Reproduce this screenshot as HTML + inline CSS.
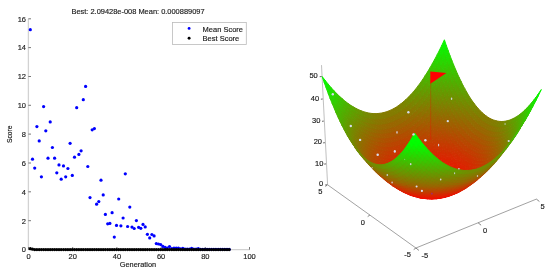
<!DOCTYPE html>
<html><head><meta charset="utf-8"><title>PSO</title>
<style>
html,body{margin:0;padding:0;background:#fff;}
body{width:550px;height:273px;overflow:hidden;position:relative;font-family:"Liberation Sans",sans-serif;}
svg{position:absolute;left:0;top:0;}
text{font-family:"Liberation Sans",sans-serif;fill:#1c1c1c;stroke:#1c1c1c;stroke-width:0.16px;}
</style></head><body>
<svg width="550" height="273" viewBox="0 0 550 273">
<rect width="550" height="273" fill="#fff"/>

<g id="left">
<line x1="28.4" y1="18.8" x2="28.4" y2="249.8" stroke="#d2d2d2" stroke-width="1.3"/>
<line x1="28.4" y1="249.6" x2="249.8" y2="249.6" stroke="#d2d2d2" stroke-width="1.3"/>
<line x1="28.4" y1="249.5" x2="31" y2="249.5" stroke="#555" stroke-width="0.8"/>
<text x="26" y="252.3" font-size="7.5" text-anchor="end">0</text>
<line x1="28.4" y1="220.7" x2="31" y2="220.7" stroke="#555" stroke-width="0.8"/>
<text x="26" y="223.5" font-size="7.5" text-anchor="end">2</text>
<line x1="28.4" y1="191.8" x2="31" y2="191.8" stroke="#555" stroke-width="0.8"/>
<text x="26" y="194.6" font-size="7.5" text-anchor="end">4</text>
<line x1="28.4" y1="163.0" x2="31" y2="163.0" stroke="#555" stroke-width="0.8"/>
<text x="26" y="165.8" font-size="7.5" text-anchor="end">6</text>
<line x1="28.4" y1="134.1" x2="31" y2="134.1" stroke="#555" stroke-width="0.8"/>
<text x="26" y="136.9" font-size="7.5" text-anchor="end">8</text>
<line x1="28.4" y1="105.3" x2="31" y2="105.3" stroke="#555" stroke-width="0.8"/>
<text x="26" y="108.1" font-size="7.5" text-anchor="end">10</text>
<line x1="28.4" y1="76.5" x2="31" y2="76.5" stroke="#555" stroke-width="0.8"/>
<text x="26" y="79.3" font-size="7.5" text-anchor="end">12</text>
<line x1="28.4" y1="47.6" x2="31" y2="47.6" stroke="#555" stroke-width="0.8"/>
<text x="26" y="50.4" font-size="7.5" text-anchor="end">14</text>
<line x1="28.4" y1="18.8" x2="31" y2="18.8" stroke="#555" stroke-width="0.8"/>
<text x="26" y="21.6" font-size="7.5" text-anchor="end">16</text>
<line x1="28.5" y1="249.6" x2="28.5" y2="247" stroke="#555" stroke-width="0.8"/>
<text x="28.5" y="258.7" font-size="7.5" text-anchor="middle">0</text>
<line x1="72.7" y1="249.6" x2="72.7" y2="247" stroke="#555" stroke-width="0.8"/>
<text x="72.7" y="258.7" font-size="7.5" text-anchor="middle">20</text>
<line x1="116.9" y1="249.6" x2="116.9" y2="247" stroke="#555" stroke-width="0.8"/>
<text x="116.9" y="258.7" font-size="7.5" text-anchor="middle">40</text>
<line x1="161.1" y1="249.6" x2="161.1" y2="247" stroke="#555" stroke-width="0.8"/>
<text x="161.1" y="258.7" font-size="7.5" text-anchor="middle">60</text>
<line x1="205.3" y1="249.6" x2="205.3" y2="247" stroke="#555" stroke-width="0.8"/>
<text x="205.3" y="258.7" font-size="7.5" text-anchor="middle">80</text>
<line x1="249.5" y1="249.6" x2="249.5" y2="247" stroke="#555" stroke-width="0.8"/>
<text x="249.5" y="258.7" font-size="7.5" text-anchor="middle">100</text>
<text x="138.0" y="13.5" font-size="7.45" text-anchor="middle">Best: 2.09428e-008 Mean: 0.000889097</text>
<text x="138" y="267.3" font-size="7.35" text-anchor="middle">Generation</text>
<text transform="translate(11.8,143) rotate(-90)" font-size="7.6" textLength="17.4" lengthAdjust="spacingAndGlyphs">Score</text>
<g fill="#0000ff">
<circle cx="30.3" cy="29.7" r="1.6"/>
<circle cx="32.5" cy="159.2" r="1.6"/>
<circle cx="34.7" cy="168.1" r="1.6"/>
<circle cx="36.9" cy="126.6" r="1.6"/>
<circle cx="39.2" cy="140.9" r="1.6"/>
<circle cx="41.4" cy="176.8" r="1.6"/>
<circle cx="43.6" cy="106.6" r="1.6"/>
<circle cx="45.8" cy="130.8" r="1.6"/>
<circle cx="48.0" cy="158.2" r="1.6"/>
<circle cx="50.2" cy="121.9" r="1.6"/>
<circle cx="52.4" cy="147.5" r="1.6"/>
<circle cx="54.6" cy="158.2" r="1.6"/>
<circle cx="56.8" cy="172.8" r="1.6"/>
<circle cx="59.0" cy="164.9" r="1.6"/>
<circle cx="61.2" cy="179.2" r="1.6"/>
<circle cx="63.5" cy="165.9" r="1.6"/>
<circle cx="65.7" cy="176.8" r="1.6"/>
<circle cx="67.9" cy="168.5" r="1.6"/>
<circle cx="70.1" cy="143.3" r="1.6"/>
<circle cx="72.3" cy="175.4" r="1.6"/>
<circle cx="74.5" cy="157.2" r="1.6"/>
<circle cx="76.7" cy="107.7" r="1.6"/>
<circle cx="78.9" cy="154.4" r="1.6"/>
<circle cx="81.1" cy="150.8" r="1.6"/>
<circle cx="83.3" cy="99.7" r="1.6"/>
<circle cx="85.6" cy="86.4" r="1.6"/>
<circle cx="87.8" cy="166.5" r="1.6"/>
<circle cx="90.0" cy="197.6" r="1.6"/>
<circle cx="92.2" cy="129.8" r="1.6"/>
<circle cx="94.4" cy="128.6" r="1.6"/>
<circle cx="96.6" cy="204.2" r="1.6"/>
<circle cx="98.8" cy="201.6" r="1.6"/>
<circle cx="101.0" cy="180.2" r="1.6"/>
<circle cx="103.2" cy="194.9" r="1.6"/>
<circle cx="105.4" cy="214.4" r="1.6"/>
<circle cx="107.7" cy="223.8" r="1.6"/>
<circle cx="109.9" cy="223.4" r="1.6"/>
<circle cx="112.1" cy="212.7" r="1.6"/>
<circle cx="114.3" cy="237.1" r="1.6"/>
<circle cx="116.5" cy="225.4" r="1.6"/>
<circle cx="118.7" cy="199.0" r="1.6"/>
<circle cx="120.9" cy="225.8" r="1.6"/>
<circle cx="123.1" cy="218.0" r="1.6"/>
<circle cx="125.3" cy="173.8" r="1.6"/>
<circle cx="127.6" cy="226.5" r="1.6"/>
<circle cx="129.8" cy="207.1" r="1.6"/>
<circle cx="132.0" cy="227.1" r="1.6"/>
<circle cx="134.2" cy="228.5" r="1.6"/>
<circle cx="136.4" cy="220.6" r="1.6"/>
<circle cx="138.6" cy="227.3" r="1.6"/>
<circle cx="140.8" cy="228.3" r="1.6"/>
<circle cx="143.0" cy="224.4" r="1.6"/>
<circle cx="145.2" cy="226.9" r="1.6"/>
<circle cx="147.4" cy="234.3" r="1.6"/>
<circle cx="149.7" cy="237.9" r="1.6"/>
<circle cx="151.9" cy="234.5" r="1.6"/>
<circle cx="154.1" cy="235.9" r="1.6"/>
<circle cx="156.3" cy="243.6" r="1.6"/>
<circle cx="158.5" cy="244.0" r="1.6"/>
<circle cx="160.7" cy="244.6" r="1.6"/>
<circle cx="162.9" cy="246.4" r="1.6"/>
<circle cx="165.1" cy="247.4" r="1.6"/>
<circle cx="167.3" cy="248.0" r="1.6"/>
<circle cx="169.5" cy="246.6" r="1.6"/>
<circle cx="171.8" cy="248.6" r="1.6"/>
<circle cx="174.0" cy="248.0" r="1.6"/>
<circle cx="176.2" cy="248.0" r="1.6"/>
<circle cx="178.4" cy="248.1" r="1.6"/>
<circle cx="180.6" cy="248.8" r="1.6"/>
<circle cx="182.8" cy="248.3" r="1.6"/>
<circle cx="185.0" cy="249.0" r="1.6"/>
<circle cx="187.2" cy="249.0" r="1.6"/>
<circle cx="189.4" cy="249.0" r="1.6"/>
<circle cx="191.6" cy="248.3" r="1.6"/>
<circle cx="193.8" cy="249.0" r="1.6"/>
<circle cx="196.1" cy="249.0" r="1.6"/>
<circle cx="198.3" cy="248.5" r="1.6"/>
<circle cx="200.5" cy="249.3" r="1.6"/>
<circle cx="202.7" cy="249.3" r="1.6"/>
<circle cx="204.9" cy="249.3" r="1.6"/>
<circle cx="207.1" cy="249.3" r="1.6"/>
<circle cx="209.3" cy="249.3" r="1.6"/>
<circle cx="211.5" cy="249.3" r="1.6"/>
<circle cx="213.7" cy="249.3" r="1.6"/>
<circle cx="215.9" cy="249.3" r="1.6"/>
<circle cx="218.2" cy="249.3" r="1.6"/>
<circle cx="220.4" cy="249.3" r="1.6"/>
<circle cx="222.6" cy="249.3" r="1.6"/>
<circle cx="224.8" cy="249.3" r="1.6"/>
<circle cx="227.0" cy="249.3" r="1.6"/>
<circle cx="229.2" cy="249.3" r="1.6"/>
</g><g fill="#000">
<circle cx="30.3" cy="248.7" r="1.6"/>
<circle cx="32.5" cy="249.2" r="1.6"/>
<circle cx="34.7" cy="249.6" r="1.6"/>
<circle cx="36.9" cy="249.6" r="1.6"/>
<circle cx="39.2" cy="249.6" r="1.6"/>
<circle cx="41.4" cy="249.6" r="1.6"/>
<circle cx="43.6" cy="249.6" r="1.6"/>
<circle cx="45.8" cy="249.6" r="1.6"/>
<circle cx="48.0" cy="249.6" r="1.6"/>
<circle cx="50.2" cy="249.6" r="1.6"/>
<circle cx="52.4" cy="249.6" r="1.6"/>
<circle cx="54.6" cy="249.6" r="1.6"/>
<circle cx="56.8" cy="249.6" r="1.6"/>
<circle cx="59.0" cy="249.6" r="1.6"/>
<circle cx="61.2" cy="249.6" r="1.6"/>
<circle cx="63.5" cy="249.6" r="1.6"/>
<circle cx="65.7" cy="249.6" r="1.6"/>
<circle cx="67.9" cy="249.6" r="1.6"/>
<circle cx="70.1" cy="249.6" r="1.6"/>
<circle cx="72.3" cy="249.6" r="1.6"/>
<circle cx="74.5" cy="249.6" r="1.6"/>
<circle cx="76.7" cy="249.6" r="1.6"/>
<circle cx="78.9" cy="249.6" r="1.6"/>
<circle cx="81.1" cy="249.6" r="1.6"/>
<circle cx="83.3" cy="249.6" r="1.6"/>
<circle cx="85.6" cy="249.6" r="1.6"/>
<circle cx="87.8" cy="249.6" r="1.6"/>
<circle cx="90.0" cy="249.6" r="1.6"/>
<circle cx="92.2" cy="249.6" r="1.6"/>
<circle cx="94.4" cy="249.6" r="1.6"/>
<circle cx="96.6" cy="249.6" r="1.6"/>
<circle cx="98.8" cy="249.6" r="1.6"/>
<circle cx="101.0" cy="249.6" r="1.6"/>
<circle cx="103.2" cy="249.6" r="1.6"/>
<circle cx="105.4" cy="249.6" r="1.6"/>
<circle cx="107.7" cy="249.6" r="1.6"/>
<circle cx="109.9" cy="249.6" r="1.6"/>
<circle cx="112.1" cy="249.6" r="1.6"/>
<circle cx="114.3" cy="249.6" r="1.6"/>
<circle cx="116.5" cy="249.6" r="1.6"/>
<circle cx="118.7" cy="249.6" r="1.6"/>
<circle cx="120.9" cy="249.6" r="1.6"/>
<circle cx="123.1" cy="249.6" r="1.6"/>
<circle cx="125.3" cy="249.6" r="1.6"/>
<circle cx="127.6" cy="249.6" r="1.6"/>
<circle cx="129.8" cy="249.6" r="1.6"/>
<circle cx="132.0" cy="249.6" r="1.6"/>
<circle cx="134.2" cy="249.6" r="1.6"/>
<circle cx="136.4" cy="249.6" r="1.6"/>
<circle cx="138.6" cy="249.6" r="1.6"/>
<circle cx="140.8" cy="249.6" r="1.6"/>
<circle cx="143.0" cy="249.6" r="1.6"/>
<circle cx="145.2" cy="249.6" r="1.6"/>
<circle cx="147.4" cy="249.6" r="1.6"/>
<circle cx="149.7" cy="249.6" r="1.6"/>
<circle cx="151.9" cy="249.6" r="1.6"/>
<circle cx="154.1" cy="249.6" r="1.6"/>
<circle cx="156.3" cy="249.6" r="1.6"/>
<circle cx="158.5" cy="249.6" r="1.6"/>
<circle cx="160.7" cy="249.6" r="1.6"/>
<circle cx="162.9" cy="249.6" r="1.6"/>
<circle cx="165.1" cy="249.6" r="1.6"/>
<circle cx="167.3" cy="249.6" r="1.6"/>
<circle cx="169.5" cy="249.6" r="1.6"/>
<circle cx="171.8" cy="249.6" r="1.6"/>
<circle cx="174.0" cy="249.6" r="1.6"/>
<circle cx="176.2" cy="249.6" r="1.6"/>
<circle cx="178.4" cy="249.6" r="1.6"/>
<circle cx="180.6" cy="249.6" r="1.6"/>
<circle cx="182.8" cy="249.6" r="1.6"/>
<circle cx="185.0" cy="249.6" r="1.6"/>
<circle cx="187.2" cy="249.6" r="1.6"/>
<circle cx="189.4" cy="249.6" r="1.6"/>
<circle cx="191.6" cy="249.6" r="1.6"/>
<circle cx="193.8" cy="249.6" r="1.6"/>
<circle cx="196.1" cy="249.6" r="1.6"/>
<circle cx="198.3" cy="249.6" r="1.6"/>
<circle cx="200.5" cy="249.6" r="1.6"/>
<circle cx="202.7" cy="249.6" r="1.6"/>
<circle cx="204.9" cy="249.6" r="1.6"/>
<circle cx="207.1" cy="249.6" r="1.6"/>
<circle cx="209.3" cy="249.6" r="1.6"/>
<circle cx="211.5" cy="249.6" r="1.6"/>
<circle cx="213.7" cy="249.6" r="1.6"/>
<circle cx="215.9" cy="249.6" r="1.6"/>
<circle cx="218.2" cy="249.6" r="1.6"/>
<circle cx="220.4" cy="249.6" r="1.6"/>
<circle cx="222.6" cy="249.6" r="1.6"/>
<circle cx="224.8" cy="249.6" r="1.6"/>
<circle cx="227.0" cy="249.6" r="1.6"/>
<circle cx="229.2" cy="249.6" r="1.6"/>
</g>
<rect x="172.4" y="22.4" width="73.9" height="22" fill="#fff" stroke="#bbb" stroke-width="0.8"/>
<circle cx="189.1" cy="28.4" r="1.45" fill="#00f"/><circle cx="189.1" cy="38.3" r="1.45" fill="#000"/>
<text x="202.6" y="31.6" font-size="7.5">Mean Score</text><text x="202.6" y="41.1" font-size="7.5">Best Score</text>
</g>
<g id="right">
<line x1="327.6" y1="184.8" x2="321.5" y2="65.1" stroke="#b0b0b0" stroke-width="0.8"/>
<line x1="327.6" y1="184.8" x2="415.9" y2="248.0" stroke="#8a8a8a" stroke-width="0.8"/>
<line x1="415.9" y1="248.0" x2="536.4" y2="199.1" stroke="#8a8a8a" stroke-width="0.8"/>
<defs><filter id="bl" x="-5%" y="-5%" width="110%" height="110%"><feGaussianBlur stdDeviation="0.8"/></filter></defs><g stroke-width="1" stroke-linejoin="round">
<path d="M430.2,99.5L432.6,95.9L430.8,91.1L428.4,94.7Z" fill="#6d9200" stroke="#6d9200"/>
<path d="M432.6,95.9L435.0,92.1L433.2,87.3L430.8,91.1Z" fill="#669900" stroke="#669900"/>
<path d="M428.4,94.7L430.8,91.1L428.9,86.1L426.5,89.7Z" fill="#639c00" stroke="#639c00"/>
<path d="M432.1,104.1L434.5,100.5L432.6,95.9L430.2,99.5Z" fill="#768900" stroke="#768900"/>
<path d="M430.8,91.1L433.2,87.3L431.3,82.3L428.9,86.1Z" fill="#5ca300" stroke="#5ca300"/>
<path d="M434.5,100.5L436.9,96.7L435.0,92.1L432.6,95.9Z" fill="#6e9100" stroke="#6e9100"/>
<path d="M427.8,102.9L430.2,99.5L428.4,94.7L426.0,98.1Z" fill="#738c00" stroke="#738c00"/>
<path d="M426.0,98.1L428.4,94.7L426.5,89.7L424.2,93.2Z" fill="#6a9500" stroke="#6a9500"/>
<path d="M429.7,107.5L432.1,104.1L430.2,99.5L427.8,102.9Z" fill="#7c8300" stroke="#7c8300"/>
<path d="M435.0,92.1L437.4,88.1L435.6,83.3L433.2,87.3Z" fill="#5ea100" stroke="#5ea100"/>
<path d="M433.2,87.3L435.6,83.3L433.7,78.3L431.3,82.3Z" fill="#55aa00" stroke="#55aa00"/>
<path d="M436.9,96.7L439.3,92.7L437.4,88.1L435.0,92.1Z" fill="#679800" stroke="#679800"/>
<path d="M426.5,89.7L428.9,86.1L427.1,80.9L424.7,84.5Z" fill="#5aa500" stroke="#5aa500"/>
<path d="M433.9,108.5L436.3,104.9L434.5,100.5L432.1,104.1Z" fill="#7e8100" stroke="#7e8100"/>
<path d="M428.9,86.1L431.3,82.3L429.5,77.1L427.1,80.9Z" fill="#53ac00" stroke="#53ac00"/>
<path d="M436.3,104.9L438.7,101.1L436.9,96.7L434.5,100.5Z" fill="#778800" stroke="#778800"/>
<path d="M425.5,106.2L427.8,102.9L426.0,98.1L423.6,101.4Z" fill="#7a8500" stroke="#7a8500"/>
<path d="M424.2,93.2L426.5,89.7L424.7,84.5L422.3,88.0Z" fill="#609f00" stroke="#609f00"/>
<path d="M431.5,112.0L433.9,108.5L432.1,104.1L429.7,107.5Z" fill="#857a00" stroke="#857a00"/>
<path d="M423.6,101.4L426.0,98.1L424.2,93.2L421.8,96.4Z" fill="#708f00" stroke="#708f00"/>
<path d="M427.3,110.8L429.7,107.5L427.8,102.9L425.5,106.2Z" fill="#827d00" stroke="#827d00"/>
<path d="M431.3,82.3L433.7,78.3L431.9,73.1L429.5,77.1Z" fill="#4bb400" stroke="#4bb400"/>
<path d="M438.7,101.1L441.1,97.1L439.3,92.7L436.9,96.7Z" fill="#6f9000" stroke="#6f9000"/>
<path d="M437.4,88.1L439.8,83.9L438.0,79.1L435.6,83.3Z" fill="#56a900" stroke="#56a900"/>
<path d="M435.6,83.3L438.0,79.1L436.1,74.1L433.7,78.3Z" fill="#4db200" stroke="#4db200"/>
<path d="M439.3,92.7L441.6,88.5L439.8,83.9L437.4,88.1Z" fill="#5fa000" stroke="#5fa000"/>
<path d="M424.7,84.5L427.1,80.9L425.2,75.6L422.9,79.2Z" fill="#4fb000" stroke="#4fb000"/>
<path d="M435.8,112.8L438.2,109.1L436.3,104.9L433.9,108.5Z" fill="#867900" stroke="#867900"/>
<path d="M421.8,96.4L424.2,93.2L422.3,88.0L419.9,91.2Z" fill="#669900" stroke="#669900"/>
<path d="M427.1,80.9L429.5,77.1L427.6,71.8L425.2,75.6Z" fill="#48b700" stroke="#48b700"/>
<path d="M429.1,115.2L431.5,112.0L429.7,107.5L427.3,110.8Z" fill="#8b7400" stroke="#8b7400"/>
<path d="M438.2,109.1L440.5,105.3L438.7,101.1L436.3,104.9Z" fill="#7f8000" stroke="#7f8000"/>
<path d="M422.3,88.0L424.7,84.5L422.9,79.2L420.5,82.6Z" fill="#56a900" stroke="#56a900"/>
<path d="M433.4,116.2L435.8,112.8L433.9,108.5L431.5,112.0Z" fill="#8d7200" stroke="#8d7200"/>
<path d="M423.1,109.3L425.5,106.2L423.6,101.4L421.2,104.5Z" fill="#7f8000" stroke="#7f8000"/>
<path d="M433.7,78.3L436.1,74.1L434.3,68.9L431.9,73.1Z" fill="#43bc00" stroke="#43bc00"/>
<path d="M441.1,97.1L443.5,92.9L441.6,88.5L439.3,92.7Z" fill="#679800" stroke="#679800"/>
<path d="M429.5,77.1L431.9,73.1L430.0,67.8L427.6,71.8Z" fill="#41be00" stroke="#41be00"/>
<path d="M440.5,105.3L442.9,101.3L441.1,97.1L438.7,101.1Z" fill="#778800" stroke="#778800"/>
<path d="M421.2,104.5L423.6,101.4L421.8,96.4L419.4,99.5Z" fill="#768900" stroke="#768900"/>
<path d="M424.9,113.9L427.3,110.8L425.5,106.2L423.1,109.3Z" fill="#887700" stroke="#887700"/>
<path d="M439.8,83.9L442.2,79.5L440.3,74.7L438.0,79.1Z" fill="#4eb100" stroke="#4eb100"/>
<path d="M419.9,91.2L422.3,88.0L420.5,82.6L418.1,85.9Z" fill="#5ca300" stroke="#5ca300"/>
<path d="M431.0,119.5L433.4,116.2L431.5,112.0L429.1,115.2Z" fill="#936c00" stroke="#936c00"/>
<path d="M438.0,79.1L440.3,74.7L438.5,69.7L436.1,74.1Z" fill="#44bb00" stroke="#44bb00"/>
<path d="M441.6,88.5L444.0,84.1L442.2,79.5L439.8,83.9Z" fill="#57a800" stroke="#57a800"/>
<path d="M419.4,99.5L421.8,96.4L419.9,91.2L417.5,94.3Z" fill="#6c9300" stroke="#6c9300"/>
<path d="M426.7,118.3L429.1,115.2L427.3,110.8L424.9,113.9Z" fill="#916e00" stroke="#916e00"/>
<path d="M431.9,73.1L434.3,68.9L432.4,63.6L430.0,67.8Z" fill="#39c600" stroke="#39c600"/>
<path d="M437.6,116.8L440.0,113.2L438.2,109.1L435.8,112.8Z" fill="#8d7200" stroke="#8d7200"/>
<path d="M442.9,101.3L445.3,97.2L443.5,92.9L441.1,97.1Z" fill="#6f9000" stroke="#6f9000"/>
<path d="M440.0,113.2L442.4,109.4L440.5,105.3L438.2,109.1Z" fill="#867900" stroke="#867900"/>
<path d="M436.1,74.1L438.5,69.7L436.7,64.6L434.3,68.9Z" fill="#3bc400" stroke="#3bc400"/>
<path d="M443.5,92.9L445.9,88.6L444.0,84.1L441.6,88.5Z" fill="#5fa000" stroke="#5fa000"/>
<path d="M435.2,120.3L437.6,116.8L435.8,112.8L433.4,116.2Z" fill="#946b00" stroke="#946b00"/>
<path d="M420.7,112.2L423.1,109.3L421.2,104.5L418.8,107.4Z" fill="#857a00" stroke="#857a00"/>
<path d="M442.4,109.4L444.8,105.4L442.9,101.3L440.5,105.3Z" fill="#7f8000" stroke="#7f8000"/>
<path d="M418.8,107.4L421.2,104.5L419.4,99.5L417.0,102.4Z" fill="#7b8400" stroke="#7b8400"/>
<path d="M422.5,116.8L424.9,113.9L423.1,109.3L420.7,112.2Z" fill="#8d7200" stroke="#8d7200"/>
<path d="M417.5,94.3L419.9,91.2L418.1,85.9L415.7,89.0Z" fill="#629d00" stroke="#629d00"/>
<path d="M428.6,122.6L431.0,119.5L429.1,115.2L426.7,118.3Z" fill="#996600" stroke="#996600"/>
<path d="M432.8,123.6L435.2,120.3L433.4,116.2L431.0,119.5Z" fill="#9a6500" stroke="#9a6500"/>
<path d="M442.2,79.5L444.6,75.0L442.7,70.2L440.3,74.7Z" fill="#45ba00" stroke="#45ba00"/>
<path d="M434.3,68.9L436.7,64.6L434.8,59.2L432.4,63.6Z" fill="#30cf00" stroke="#30cf00"/>
<path d="M445.3,97.2L447.7,92.8L445.9,88.6L443.5,92.9Z" fill="#679800" stroke="#679800"/>
<path d="M417.0,102.4L419.4,99.5L417.5,94.3L415.1,97.2Z" fill="#728d00" stroke="#728d00"/>
<path d="M424.3,121.2L426.7,118.3L424.9,113.9L422.5,116.8Z" fill="#966900" stroke="#966900"/>
<path d="M440.3,74.7L442.7,70.2L440.9,65.2L438.5,69.7Z" fill="#3cc300" stroke="#3cc300"/>
<path d="M444.0,84.1L446.4,79.6L444.6,75.0L442.2,79.5Z" fill="#4eb100" stroke="#4eb100"/>
<path d="M444.8,105.4L447.2,101.2L445.3,97.2L442.9,101.3Z" fill="#778800" stroke="#778800"/>
<path d="M439.5,120.7L441.8,117.1L440.0,113.2L437.6,116.8Z" fill="#956a00" stroke="#956a00"/>
<path d="M441.8,117.1L444.2,113.3L442.4,109.4L440.0,113.2Z" fill="#8d7200" stroke="#8d7200"/>
<path d="M438.5,69.7L440.9,65.2L439.1,60.0L436.7,64.6Z" fill="#32cd00" stroke="#32cd00"/>
<path d="M445.9,88.6L448.3,84.0L446.4,79.6L444.0,84.1Z" fill="#56a900" stroke="#56a900"/>
<path d="M437.1,124.2L439.5,120.7L437.6,116.8L435.2,120.3Z" fill="#9b6400" stroke="#9b6400"/>
<path d="M430.4,126.6L432.8,123.6L431.0,119.5L428.6,122.6Z" fill="#a05f00" stroke="#a05f00"/>
<path d="M415.1,97.2L417.5,94.3L415.7,89.0L413.3,91.9Z" fill="#679800" stroke="#679800"/>
<path d="M426.2,125.5L428.6,122.6L426.7,118.3L424.3,121.2Z" fill="#9e6100" stroke="#9e6100"/>
<path d="M444.2,113.3L446.6,109.3L444.8,105.4L442.4,109.4Z" fill="#867900" stroke="#867900"/>
<path d="M418.3,114.9L420.7,112.2L418.8,107.4L416.4,110.1Z" fill="#897600" stroke="#897600"/>
<path d="M416.4,110.1L418.8,107.4L417.0,102.4L414.6,105.1Z" fill="#807f00" stroke="#807f00"/>
<path d="M420.1,119.5L422.5,116.8L420.7,112.2L418.3,114.9Z" fill="#926d00" stroke="#926d00"/>
<path d="M447.2,101.2L449.6,96.9L447.7,92.8L445.3,97.2Z" fill="#6e9100" stroke="#6e9100"/>
<path d="M434.7,127.4L437.1,124.2L435.2,120.3L432.8,123.6Z" fill="#a15e00" stroke="#a15e00"/>
<path d="M436.7,64.6L439.1,60.0L437.2,54.7L434.8,59.2Z" fill="#28d700" stroke="#28d700"/>
<path d="M447.7,92.8L450.1,88.3L448.3,84.0L445.9,88.6Z" fill="#5ea100" stroke="#5ea100"/>
<path d="M444.6,75.0L447.0,70.2L445.1,65.4L442.7,70.2Z" fill="#3cc300" stroke="#3cc300"/>
<path d="M446.6,109.3L449.0,105.1L447.2,101.2L444.8,105.4Z" fill="#7e8100" stroke="#7e8100"/>
<path d="M414.6,105.1L417.0,102.4L415.1,97.2L412.7,99.9Z" fill="#768900" stroke="#768900"/>
<path d="M421.9,123.9L424.3,121.2L422.5,116.8L420.1,119.5Z" fill="#9b6400" stroke="#9b6400"/>
<path d="M442.7,70.2L445.1,65.4L443.3,60.4L440.9,65.2Z" fill="#32cd00" stroke="#32cd00"/>
<path d="M446.4,79.6L448.8,74.9L447.0,70.2L444.6,75.0Z" fill="#44bb00" stroke="#44bb00"/>
<path d="M428.0,129.5L430.4,126.6L428.6,122.6L426.2,125.5Z" fill="#a55a00" stroke="#a55a00"/>
<path d="M432.3,130.5L434.7,127.4L432.8,123.6L430.4,126.6Z" fill="#a75800" stroke="#a75800"/>
<path d="M440.9,65.2L443.3,60.4L441.4,55.3L439.1,60.0Z" fill="#29d600" stroke="#29d600"/>
<path d="M441.3,124.4L443.7,120.8L441.8,117.1L439.5,120.7Z" fill="#9b6400" stroke="#9b6400"/>
<path d="M448.3,84.0L450.7,79.3L448.8,74.9L446.4,79.6Z" fill="#4db200" stroke="#4db200"/>
<path d="M443.7,120.8L446.1,117.0L444.2,113.3L441.8,117.1Z" fill="#946b00" stroke="#946b00"/>
<path d="M412.7,99.9L415.1,97.2L413.3,91.9L410.9,94.6Z" fill="#6c9300" stroke="#6c9300"/>
<path d="M423.8,128.2L426.2,125.5L424.3,121.2L421.9,123.9Z" fill="#a35c00" stroke="#a35c00"/>
<path d="M438.9,127.9L441.3,124.4L439.5,120.7L437.1,124.2Z" fill="#a25d00" stroke="#a25d00"/>
<path d="M449.6,96.9L452.0,92.3L450.1,88.3L447.7,92.8Z" fill="#669900" stroke="#669900"/>
<path d="M449.0,105.1L451.4,100.8L449.6,96.9L447.2,101.2Z" fill="#768900" stroke="#768900"/>
<path d="M446.1,117.0L448.5,113.0L446.6,109.3L444.2,113.3Z" fill="#8d7200" stroke="#8d7200"/>
<path d="M415.8,117.4L418.3,114.9L416.4,110.1L414.0,112.6Z" fill="#8e7100" stroke="#8e7100"/>
<path d="M414.0,112.6L416.4,110.1L414.6,105.1L412.2,107.6Z" fill="#857a00" stroke="#857a00"/>
<path d="M417.7,122.0L420.1,119.5L418.3,114.9L415.8,117.4Z" fill="#976800" stroke="#976800"/>
<path d="M439.1,60.0L441.4,55.3L439.6,49.9L437.2,54.7Z" fill="#1ee100" stroke="#1ee100"/>
<path d="M450.1,88.3L452.5,83.5L450.7,79.3L448.3,84.0Z" fill="#55aa00" stroke="#55aa00"/>
<path d="M436.5,131.2L438.9,127.9L437.1,124.2L434.7,127.4Z" fill="#a85700" stroke="#a85700"/>
<path d="M448.5,113.0L450.9,108.8L449.0,105.1L446.6,109.3Z" fill="#857a00" stroke="#857a00"/>
<path d="M429.9,133.4L432.3,130.5L430.4,126.6L428.0,129.5Z" fill="#ac5300" stroke="#ac5300"/>
<path d="M412.2,107.6L414.6,105.1L412.7,99.9L410.3,102.5Z" fill="#7b8400" stroke="#7b8400"/>
<path d="M419.5,126.5L421.9,123.9L420.1,119.5L417.7,122.0Z" fill="#9f6000" stroke="#9f6000"/>
<path d="M425.6,132.3L428.0,129.5L426.2,125.5L423.8,128.2Z" fill="#aa5500" stroke="#aa5500"/>
<path d="M447.0,70.2L449.4,65.3L447.5,60.5L445.1,65.4Z" fill="#32cd00" stroke="#32cd00"/>
<path d="M445.1,65.4L447.5,60.5L445.7,55.5L443.3,60.4Z" fill="#29d600" stroke="#29d600"/>
<path d="M448.8,74.9L451.2,69.9L449.4,65.3L447.0,70.2Z" fill="#3bc400" stroke="#3bc400"/>
<path d="M451.4,100.8L453.8,96.2L452.0,92.3L449.6,96.9Z" fill="#6d9200" stroke="#6d9200"/>
<path d="M434.1,134.3L436.5,131.2L434.7,127.4L432.3,130.5Z" fill="#ae5100" stroke="#ae5100"/>
<path d="M452.0,92.3L454.4,87.6L452.5,83.5L450.1,88.3Z" fill="#5ca300" stroke="#5ca300"/>
<path d="M443.3,60.4L445.7,55.5L443.8,50.3L441.4,55.3Z" fill="#1fe000" stroke="#1fe000"/>
<path d="M450.7,79.3L453.1,74.4L451.2,69.9L448.8,74.9Z" fill="#43bc00" stroke="#43bc00"/>
<path d="M410.3,102.5L412.7,99.9L410.9,94.6L408.4,97.1Z" fill="#718e00" stroke="#718e00"/>
<path d="M421.4,130.7L423.8,128.2L421.9,123.9L419.5,126.5Z" fill="#a75800" stroke="#a75800"/>
<path d="M443.1,128.0L445.5,124.3L443.7,120.8L441.3,124.4Z" fill="#a15e00" stroke="#a15e00"/>
<path d="M445.5,124.3L447.9,120.5L446.1,117.0L443.7,120.8Z" fill="#9a6500" stroke="#9a6500"/>
<path d="M450.9,108.8L453.3,104.5L451.4,100.8L449.0,105.1Z" fill="#7c8300" stroke="#7c8300"/>
<path d="M440.8,131.4L443.1,128.0L441.3,124.4L438.9,127.9Z" fill="#a85700" stroke="#a85700"/>
<path d="M447.9,120.5L450.3,116.5L448.5,113.0L446.1,117.0Z" fill="#936c00" stroke="#936c00"/>
<path d="M427.5,136.2L429.9,133.4L428.0,129.5L425.6,132.3Z" fill="#b14e00" stroke="#b14e00"/>
<path d="M441.4,55.3L443.8,50.3L442.0,45.0L439.6,49.9Z" fill="#15ea00" stroke="#15ea00"/>
<path d="M452.5,83.5L454.9,78.6L453.1,74.4L450.7,79.3Z" fill="#4bb400" stroke="#4bb400"/>
<path d="M413.4,119.8L415.8,117.4L414.0,112.6L411.6,115.0Z" fill="#926d00" stroke="#926d00"/>
<path d="M438.4,134.7L440.8,131.4L438.9,127.9L436.5,131.2Z" fill="#ae5100" stroke="#ae5100"/>
<path d="M411.6,115.0L414.0,112.6L412.2,107.6L409.7,110.0Z" fill="#897600" stroke="#897600"/>
<path d="M415.3,124.4L417.7,122.0L415.8,117.4L413.4,119.8Z" fill="#9b6400" stroke="#9b6400"/>
<path d="M431.7,137.2L434.1,134.3L432.3,130.5L429.9,133.4Z" fill="#b34c00" stroke="#b34c00"/>
<path d="M423.2,134.8L425.6,132.3L423.8,128.2L421.4,130.7Z" fill="#af5000" stroke="#af5000"/>
<path d="M450.3,116.5L452.7,112.4L450.9,108.8L448.5,113.0Z" fill="#8b7400" stroke="#8b7400"/>
<path d="M453.8,96.2L456.2,91.5L454.4,87.6L452.0,92.3Z" fill="#639c00" stroke="#639c00"/>
<path d="M409.7,110.0L412.2,107.6L410.3,102.5L407.9,104.8Z" fill="#7f8000" stroke="#7f8000"/>
<path d="M417.1,128.8L419.5,126.5L417.7,122.0L415.3,124.4Z" fill="#a35c00" stroke="#a35c00"/>
<path d="M453.3,104.5L455.7,99.9L453.8,96.2L451.4,100.8Z" fill="#738c00" stroke="#738c00"/>
<path d="M449.4,65.3L451.8,60.2L449.9,55.4L447.5,60.5Z" fill="#28d700" stroke="#28d700"/>
<path d="M447.5,60.5L449.9,55.4L448.1,50.4L445.7,55.5Z" fill="#1ee100" stroke="#1ee100"/>
<path d="M451.2,69.9L453.6,64.8L451.8,60.2L449.4,65.3Z" fill="#30cf00" stroke="#30cf00"/>
<path d="M436.0,137.8L438.4,134.7L436.5,131.2L434.1,134.3Z" fill="#b44b00" stroke="#b44b00"/>
<path d="M454.4,87.6L456.8,82.7L454.9,78.6L452.5,83.5Z" fill="#53ac00" stroke="#53ac00"/>
<path d="M452.7,112.4L455.1,108.0L453.3,104.5L450.9,108.8Z" fill="#827d00" stroke="#827d00"/>
<path d="M407.9,104.8L410.3,102.5L408.4,97.1L406.0,99.5Z" fill="#758a00" stroke="#758a00"/>
<path d="M419.0,133.1L421.4,130.7L419.5,126.5L417.1,128.8Z" fill="#ab5400" stroke="#ab5400"/>
<path d="M445.7,55.5L448.1,50.4L446.2,45.2L443.8,50.3Z" fill="#15ea00" stroke="#15ea00"/>
<path d="M453.1,74.4L455.5,69.2L453.6,64.8L451.2,69.9Z" fill="#39c600" stroke="#39c600"/>
<path d="M445.0,131.3L447.4,127.7L445.5,124.3L443.1,128.0Z" fill="#a75800" stroke="#a75800"/>
<path d="M429.3,139.9L431.7,137.2L429.9,133.4L427.5,136.2Z" fill="#b84700" stroke="#b84700"/>
<path d="M447.4,127.7L449.8,123.9L447.9,120.5L445.5,124.3Z" fill="#a05f00" stroke="#a05f00"/>
<path d="M425.1,138.7L427.5,136.2L425.6,132.3L423.2,134.8Z" fill="#b64900" stroke="#b64900"/>
<path d="M442.6,134.8L445.0,131.3L443.1,128.0L440.8,131.4Z" fill="#ae5100" stroke="#ae5100"/>
<path d="M449.8,123.9L452.2,119.9L450.3,116.5L447.9,120.5Z" fill="#996600" stroke="#996600"/>
<path d="M433.6,140.7L436.0,137.8L434.1,134.3L431.7,137.2Z" fill="#b94600" stroke="#b94600"/>
<path d="M443.8,50.3L446.2,45.2L444.4,39.8L442.0,45.0Z" fill="#0af500" stroke="#0af500"/>
<path d="M454.9,78.6L457.3,73.5L455.5,69.2L453.1,74.4Z" fill="#41be00" stroke="#41be00"/>
<path d="M455.7,99.9L458.1,95.2L456.2,91.5L453.8,96.2Z" fill="#6a9500" stroke="#6a9500"/>
<path d="M411.0,122.0L413.4,119.8L411.6,115.0L409.2,117.1Z" fill="#956a00" stroke="#956a00"/>
<path d="M440.2,138.1L442.6,134.8L440.8,131.4L438.4,134.7Z" fill="#b44b00" stroke="#b44b00"/>
<path d="M456.2,91.5L458.6,86.6L456.8,82.7L454.4,87.6Z" fill="#5aa500" stroke="#5aa500"/>
<path d="M420.8,137.2L423.2,134.8L421.4,130.7L419.0,133.1Z" fill="#b34c00" stroke="#b34c00"/>
<path d="M409.2,117.1L411.6,115.0L409.7,110.0L407.3,112.2Z" fill="#8c7300" stroke="#8c7300"/>
<path d="M412.9,126.6L415.3,124.4L413.4,119.8L411.0,122.0Z" fill="#9e6100" stroke="#9e6100"/>
<path d="M455.1,108.0L457.5,103.4L455.7,99.9L453.3,104.5Z" fill="#7a8500" stroke="#7a8500"/>
<path d="M452.2,119.9L454.6,115.7L452.7,112.4L450.3,116.5Z" fill="#916e00" stroke="#916e00"/>
<path d="M407.3,112.2L409.7,110.0L407.9,104.8L405.5,107.0Z" fill="#827d00" stroke="#827d00"/>
<path d="M414.7,131.0L417.1,128.8L415.3,124.4L412.9,126.6Z" fill="#a75800" stroke="#a75800"/>
<path d="M456.8,82.7L459.2,77.6L457.3,73.5L454.9,78.6Z" fill="#48b700" stroke="#48b700"/>
<path d="M437.8,141.2L440.2,138.1L438.4,134.7L436.0,137.8Z" fill="#ba4500" stroke="#ba4500"/>
<path d="M426.9,142.5L429.3,139.9L427.5,136.2L425.1,138.7Z" fill="#bc4300" stroke="#bc4300"/>
<path d="M431.2,143.4L433.6,140.7L431.7,137.2L429.3,139.9Z" fill="#be4100" stroke="#be4100"/>
<path d="M454.6,115.7L457.0,111.3L455.1,108.0L452.7,112.4Z" fill="#887700" stroke="#887700"/>
<path d="M405.5,107.0L407.9,104.8L406.0,99.5L403.6,101.6Z" fill="#788700" stroke="#788700"/>
<path d="M416.6,135.3L419.0,133.1L417.1,128.8L414.7,131.0Z" fill="#af5000" stroke="#af5000"/>
<path d="M422.7,141.1L425.1,138.7L423.2,134.8L420.8,137.2Z" fill="#ba4500" stroke="#ba4500"/>
<path d="M458.1,95.2L460.5,90.3L458.6,86.6L456.2,91.5Z" fill="#609f00" stroke="#609f00"/>
<path d="M446.9,134.5L449.3,130.9L447.4,127.7L445.0,131.3Z" fill="#ac5300" stroke="#ac5300"/>
<path d="M457.5,103.4L460.0,98.7L458.1,95.2L455.7,99.9Z" fill="#708f00" stroke="#708f00"/>
<path d="M449.3,130.9L451.7,127.1L449.8,123.9L447.4,127.7Z" fill="#a55a00" stroke="#a55a00"/>
<path d="M435.4,144.1L437.8,141.2L436.0,137.8L433.6,140.7Z" fill="#bf4000" stroke="#bf4000"/>
<path d="M444.5,138.0L446.9,134.5L445.0,131.3L442.6,134.8Z" fill="#b34c00" stroke="#b34c00"/>
<path d="M451.7,127.1L454.1,123.1L452.2,119.9L449.8,123.9Z" fill="#9e6100" stroke="#9e6100"/>
<path d="M458.6,86.6L461.1,81.4L459.2,77.6L456.8,82.7Z" fill="#4fb000" stroke="#4fb000"/>
<path d="M418.4,139.4L420.8,137.2L419.0,133.1L416.6,135.3Z" fill="#b64900" stroke="#b64900"/>
<path d="M457.0,111.3L459.4,106.8L457.5,103.4L455.1,108.0Z" fill="#7f8000" stroke="#7f8000"/>
<path d="M442.1,141.3L444.5,138.0L442.6,134.8L440.2,138.1Z" fill="#b94600" stroke="#b94600"/>
<path d="M408.6,124.0L411.0,122.0L409.2,117.1L406.8,119.1Z" fill="#996600" stroke="#996600"/>
<path d="M406.8,119.1L409.2,117.1L407.3,112.2L404.9,114.2Z" fill="#8f7000" stroke="#8f7000"/>
<path d="M410.4,128.6L412.9,126.6L411.0,122.0L408.6,124.0Z" fill="#a15e00" stroke="#a15e00"/>
<path d="M454.1,123.1L456.5,118.9L454.6,115.7L452.2,119.9Z" fill="#966900" stroke="#966900"/>
<path d="M428.8,146.0L431.2,143.4L429.3,139.9L426.9,142.5Z" fill="#c33c00" stroke="#c33c00"/>
<path d="M424.5,144.8L426.9,142.5L425.1,138.7L422.7,141.1Z" fill="#c03f00" stroke="#c03f00"/>
<path d="M404.9,114.2L407.3,112.2L405.5,107.0L403.0,109.0Z" fill="#857a00" stroke="#857a00"/>
<path d="M412.3,133.0L414.7,131.0L412.9,126.6L410.4,128.6Z" fill="#aa5500" stroke="#aa5500"/>
<path d="M439.7,144.4L442.1,141.3L440.2,138.1L437.8,141.2Z" fill="#bf4000" stroke="#bf4000"/>
<path d="M433.0,146.8L435.4,144.1L433.6,140.7L431.2,143.4Z" fill="#c43b00" stroke="#c43b00"/>
<path d="M460.0,98.7L462.4,93.8L460.5,90.3L458.1,95.2Z" fill="#669900" stroke="#669900"/>
<path d="M420.2,143.3L422.7,141.1L420.8,137.2L418.4,139.4Z" fill="#bd4200" stroke="#bd4200"/>
<path d="M456.5,118.9L458.9,114.5L457.0,111.3L454.6,115.7Z" fill="#8d7200" stroke="#8d7200"/>
<path d="M460.5,90.3L462.9,85.2L461.1,81.4L458.6,86.6Z" fill="#56a900" stroke="#56a900"/>
<path d="M403.0,109.0L405.5,107.0L403.6,101.6L401.2,103.6Z" fill="#7b8400" stroke="#7b8400"/>
<path d="M414.1,137.3L416.6,135.3L414.7,131.0L412.3,133.0Z" fill="#b24d00" stroke="#b24d00"/>
<path d="M459.4,106.8L461.8,102.1L460.0,98.7L457.5,103.4Z" fill="#768900" stroke="#768900"/>
<path d="M437.3,147.3L439.7,144.4L437.8,141.2L435.4,144.1Z" fill="#c43b00" stroke="#c43b00"/>
<path d="M448.7,137.5L451.1,133.9L449.3,130.9L446.9,134.5Z" fill="#b14e00" stroke="#b14e00"/>
<path d="M451.1,133.9L453.5,130.1L451.7,127.1L449.3,130.9Z" fill="#aa5500" stroke="#aa5500"/>
<path d="M446.3,141.0L448.7,137.5L446.9,134.5L444.5,138.0Z" fill="#b84700" stroke="#b84700"/>
<path d="M426.3,148.4L428.8,146.0L426.9,142.5L424.5,144.8Z" fill="#c73800" stroke="#c73800"/>
<path d="M453.5,130.1L455.9,126.1L454.1,123.1L451.7,127.1Z" fill="#a35c00" stroke="#a35c00"/>
<path d="M458.9,114.5L461.3,110.0L459.4,106.8L457.0,111.3Z" fill="#857a00" stroke="#857a00"/>
<path d="M416.0,141.4L418.4,139.4L416.6,135.3L414.1,137.3Z" fill="#b94600" stroke="#b94600"/>
<path d="M430.6,149.4L433.0,146.8L431.2,143.4L428.8,146.0Z" fill="#c83700" stroke="#c83700"/>
<path d="M422.1,147.0L424.5,144.8L422.7,141.1L420.2,143.3Z" fill="#c43b00" stroke="#c43b00"/>
<path d="M443.9,144.3L446.3,141.0L444.5,138.0L442.1,141.3Z" fill="#be4100" stroke="#be4100"/>
<path d="M406.2,125.8L408.6,124.0L406.8,119.1L404.3,121.0Z" fill="#9b6400" stroke="#9b6400"/>
<path d="M455.9,126.1L458.3,121.9L456.5,118.9L454.1,123.1Z" fill="#9b6400" stroke="#9b6400"/>
<path d="M404.3,121.0L406.8,119.1L404.9,114.2L402.5,116.0Z" fill="#926d00" stroke="#926d00"/>
<path d="M408.0,130.4L410.4,128.6L408.6,124.0L406.2,125.8Z" fill="#a45b00" stroke="#a45b00"/>
<path d="M462.4,93.8L464.8,88.7L462.9,85.2L460.5,90.3Z" fill="#5ca300" stroke="#5ca300"/>
<path d="M461.8,102.1L464.2,97.1L462.4,93.8L460.0,98.7Z" fill="#6c9300" stroke="#6c9300"/>
<path d="M434.9,150.0L437.3,147.3L435.4,144.1L433.0,146.8Z" fill="#c93600" stroke="#c93600"/>
<path d="M402.5,116.0L404.9,114.2L403.0,109.0L400.6,110.8Z" fill="#887700" stroke="#887700"/>
<path d="M409.9,134.9L412.3,133.0L410.4,128.6L408.0,130.4Z" fill="#ac5300" stroke="#ac5300"/>
<path d="M441.5,147.4L443.9,144.3L442.1,141.3L439.7,144.4Z" fill="#c43b00" stroke="#c43b00"/>
<path d="M417.8,145.3L420.2,143.3L418.4,139.4L416.0,141.4Z" fill="#c03f00" stroke="#c03f00"/>
<path d="M461.3,110.0L463.7,105.2L461.8,102.1L459.4,106.8Z" fill="#7b8400" stroke="#7b8400"/>
<path d="M458.3,121.9L460.7,117.5L458.9,114.5L456.5,118.9Z" fill="#926d00" stroke="#926d00"/>
<path d="M400.6,110.8L403.0,109.0L401.2,103.6L398.7,105.4Z" fill="#7e8100" stroke="#7e8100"/>
<path d="M411.7,139.2L414.1,137.3L412.3,133.0L409.9,134.9Z" fill="#b44b00" stroke="#b44b00"/>
<path d="M428.2,151.8L430.6,149.4L428.8,146.0L426.3,148.4Z" fill="#cc3300" stroke="#cc3300"/>
<path d="M423.9,150.6L426.3,148.4L424.5,144.8L422.1,147.0Z" fill="#ca3500" stroke="#ca3500"/>
<path d="M439.1,150.3L441.5,147.4L439.7,144.4L437.3,147.3Z" fill="#c93600" stroke="#c93600"/>
<path d="M432.4,152.6L434.9,150.0L433.0,146.8L430.6,149.4Z" fill="#ce3100" stroke="#ce3100"/>
<path d="M450.6,140.4L453.0,136.7L451.1,133.9L448.7,137.5Z" fill="#b64900" stroke="#b64900"/>
<path d="M453.0,136.7L455.4,132.9L453.5,130.1L451.1,133.9Z" fill="#af5000" stroke="#af5000"/>
<path d="M460.7,117.5L463.1,113.0L461.3,110.0L458.9,114.5Z" fill="#897600" stroke="#897600"/>
<path d="M413.6,143.2L416.0,141.4L414.1,137.3L411.7,139.2Z" fill="#bc4300" stroke="#bc4300"/>
<path d="M448.2,143.8L450.6,140.4L448.7,137.5L446.3,141.0Z" fill="#bc4300" stroke="#bc4300"/>
<path d="M464.2,97.1L466.7,92.0L464.8,88.7L462.4,93.8Z" fill="#629d00" stroke="#629d00"/>
<path d="M419.7,149.1L422.1,147.0L420.2,143.3L417.8,145.3Z" fill="#c73800" stroke="#c73800"/>
<path d="M455.4,132.9L457.8,128.9L455.9,126.1L453.5,130.1Z" fill="#a75800" stroke="#a75800"/>
<path d="M463.7,105.2L466.1,100.3L464.2,97.1L461.8,102.1Z" fill="#728d00" stroke="#728d00"/>
<path d="M445.8,147.1L448.2,143.8L446.3,141.0L443.9,144.3Z" fill="#c33c00" stroke="#c33c00"/>
<path d="M403.7,127.4L406.2,125.8L404.3,121.0L401.9,122.6Z" fill="#9d6200" stroke="#9d6200"/>
<path d="M457.8,128.9L460.2,124.7L458.3,121.9L455.9,126.1Z" fill="#9f6000" stroke="#9f6000"/>
<path d="M436.7,153.0L439.1,150.3L437.3,147.3L434.9,150.0Z" fill="#ce3100" stroke="#ce3100"/>
<path d="M401.9,122.6L404.3,121.0L402.5,116.0L400.0,117.6Z" fill="#946b00" stroke="#946b00"/>
<path d="M405.6,132.1L408.0,130.4L406.2,125.8L403.7,127.4Z" fill="#a65900" stroke="#a65900"/>
<path d="M415.4,147.2L417.8,145.3L416.0,141.4L413.6,143.2Z" fill="#c33c00" stroke="#c33c00"/>
<path d="M443.4,150.2L445.8,147.1L443.9,144.3L441.5,147.4Z" fill="#c83700" stroke="#c83700"/>
<path d="M400.0,117.6L402.5,116.0L400.6,110.8L398.2,112.4Z" fill="#8a7500" stroke="#8a7500"/>
<path d="M407.4,136.5L409.9,134.9L408.0,130.4L405.6,132.1Z" fill="#af5000" stroke="#af5000"/>
<path d="M463.1,113.0L465.6,108.2L463.7,105.2L461.3,110.0Z" fill="#807f00" stroke="#807f00"/>
<path d="M425.8,154.0L428.2,151.8L426.3,148.4L423.9,150.6Z" fill="#d02f00" stroke="#d02f00"/>
<path d="M460.2,124.7L462.6,120.3L460.7,117.5L458.3,121.9Z" fill="#976800" stroke="#976800"/>
<path d="M430.0,155.0L432.4,152.6L430.6,149.4L428.2,151.8Z" fill="#d22d00" stroke="#d22d00"/>
<path d="M421.5,152.6L423.9,150.6L422.1,147.0L419.7,149.1Z" fill="#cd3200" stroke="#cd3200"/>
<path d="M398.2,112.4L400.6,110.8L398.7,105.4L396.3,107.1Z" fill="#807f00" stroke="#807f00"/>
<path d="M409.3,140.8L411.7,139.2L409.9,134.9L407.4,136.5Z" fill="#b74800" stroke="#b74800"/>
<path d="M441.0,153.1L443.4,150.2L441.5,147.4L439.1,150.3Z" fill="#ce3100" stroke="#ce3100"/>
<path d="M466.1,100.3L468.5,95.2L466.7,92.0L464.2,97.1Z" fill="#679800" stroke="#679800"/>
<path d="M434.3,155.6L436.7,153.0L434.9,150.0L432.4,152.6Z" fill="#d32c00" stroke="#d32c00"/>
<path d="M417.2,150.9L419.7,149.1L417.8,145.3L415.4,147.2Z" fill="#ca3500" stroke="#ca3500"/>
<path d="M462.6,120.3L465.0,115.8L463.1,113.0L460.7,117.5Z" fill="#8e7100" stroke="#8e7100"/>
<path d="M452.4,143.0L454.8,139.4L453.0,136.7L450.6,140.4Z" fill="#ba4500" stroke="#ba4500"/>
<path d="M411.1,144.9L413.6,143.2L411.7,139.2L409.3,140.8Z" fill="#be4100" stroke="#be4100"/>
<path d="M454.8,139.4L457.3,135.5L455.4,132.9L453.0,136.7Z" fill="#b34c00" stroke="#b34c00"/>
<path d="M465.6,108.2L468.0,103.3L466.1,100.3L463.7,105.2Z" fill="#768900" stroke="#768900"/>
<path d="M450.0,146.5L452.4,143.0L450.6,140.4L448.2,143.8Z" fill="#c03f00" stroke="#c03f00"/>
<path d="M457.3,135.5L459.7,131.5L457.8,128.9L455.4,132.9Z" fill="#ab5400" stroke="#ab5400"/>
<path d="M438.6,155.9L441.0,153.1L439.1,150.3L436.7,153.0Z" fill="#d32c00" stroke="#d32c00"/>
<path d="M447.6,149.8L450.0,146.5L448.2,143.8L445.8,147.1Z" fill="#c73800" stroke="#c73800"/>
<path d="M427.6,157.2L430.0,155.0L428.2,151.8L425.8,154.0Z" fill="#d52a00" stroke="#d52a00"/>
<path d="M423.4,156.0L425.8,154.0L423.9,150.6L421.5,152.6Z" fill="#d32c00" stroke="#d32c00"/>
<path d="M459.7,131.5L462.1,127.3L460.2,124.7L457.8,128.9Z" fill="#a35c00" stroke="#a35c00"/>
<path d="M401.3,128.9L403.7,127.4L401.9,122.6L399.4,124.1Z" fill="#9f6000" stroke="#9f6000"/>
<path d="M399.4,124.1L401.9,122.6L400.0,117.6L397.6,119.1Z" fill="#966900" stroke="#966900"/>
<path d="M403.2,133.5L405.6,132.1L403.7,127.4L401.3,128.9Z" fill="#a85700" stroke="#a85700"/>
<path d="M413.0,148.8L415.4,147.2L413.6,143.2L411.1,144.9Z" fill="#c53a00" stroke="#c53a00"/>
<path d="M465.0,115.8L467.4,111.0L465.6,108.2L463.1,113.0Z" fill="#857a00" stroke="#857a00"/>
<path d="M431.9,158.0L434.3,155.6L432.4,152.6L430.0,155.0Z" fill="#d62900" stroke="#d62900"/>
<path d="M445.2,152.9L447.6,149.8L445.8,147.1L443.4,150.2Z" fill="#cc3300" stroke="#cc3300"/>
<path d="M419.1,154.5L421.5,152.6L419.7,149.1L417.2,150.9Z" fill="#d02f00" stroke="#d02f00"/>
<path d="M397.6,119.1L400.0,117.6L398.2,112.4L395.7,113.9Z" fill="#8c7300" stroke="#8c7300"/>
<path d="M405.0,138.0L407.4,136.5L405.6,132.1L403.2,133.5Z" fill="#b04f00" stroke="#b04f00"/>
<path d="M462.1,127.3L464.5,123.0L462.6,120.3L460.2,124.7Z" fill="#9b6400" stroke="#9b6400"/>
<path d="M468.0,103.3L470.4,98.2L468.5,95.2L466.1,100.3Z" fill="#6c9300" stroke="#6c9300"/>
<path d="M395.7,113.9L398.2,112.4L396.3,107.1L393.9,108.5Z" fill="#827d00" stroke="#827d00"/>
<path d="M406.8,142.3L409.3,140.8L407.4,136.5L405.0,138.0Z" fill="#b84700" stroke="#b84700"/>
<path d="M436.1,158.5L438.6,155.9L436.7,153.0L434.3,155.6Z" fill="#d72800" stroke="#d72800"/>
<path d="M442.8,155.8L445.2,152.9L443.4,150.2L441.0,153.1Z" fill="#d22d00" stroke="#d22d00"/>
<path d="M414.8,152.6L417.2,150.9L415.4,147.2L413.0,148.8Z" fill="#cc3300" stroke="#cc3300"/>
<path d="M467.4,111.0L469.9,106.1L468.0,103.3L465.6,108.2Z" fill="#7b8400" stroke="#7b8400"/>
<path d="M464.5,123.0L466.9,118.4L465.0,115.8L462.6,120.3Z" fill="#926d00" stroke="#926d00"/>
<path d="M408.7,146.4L411.1,144.9L409.3,140.8L406.8,142.3Z" fill="#c03f00" stroke="#c03f00"/>
<path d="M425.2,159.2L427.6,157.2L425.8,154.0L423.4,156.0Z" fill="#d82700" stroke="#d82700"/>
<path d="M454.3,145.5L456.7,141.9L454.8,139.4L452.4,143.0Z" fill="#bd4200" stroke="#bd4200"/>
<path d="M429.5,160.2L431.9,158.0L430.0,155.0L427.6,157.2Z" fill="#da2500" stroke="#da2500"/>
<path d="M456.7,141.9L459.1,138.0L457.3,135.5L454.8,139.4Z" fill="#b64900" stroke="#b64900"/>
<path d="M420.9,157.9L423.4,156.0L421.5,152.6L419.1,154.5Z" fill="#d62900" stroke="#d62900"/>
<path d="M451.9,149.0L454.3,145.5L452.4,143.0L450.0,146.5Z" fill="#c43b00" stroke="#c43b00"/>
<path d="M459.1,138.0L461.5,134.0L459.7,131.5L457.3,135.5Z" fill="#af5000" stroke="#af5000"/>
<path d="M440.4,158.6L442.8,155.8L441.0,153.1L438.6,155.9Z" fill="#d62900" stroke="#d62900"/>
<path d="M449.5,152.3L451.9,149.0L450.0,146.5L447.6,149.8Z" fill="#ca3500" stroke="#ca3500"/>
<path d="M433.7,160.9L436.1,158.5L434.3,155.6L431.9,158.0Z" fill="#db2400" stroke="#db2400"/>
<path d="M461.5,134.0L464.0,129.8L462.1,127.3L459.7,131.5Z" fill="#a75800" stroke="#a75800"/>
<path d="M466.9,118.4L469.3,113.7L467.4,111.0L465.0,115.8Z" fill="#897600" stroke="#897600"/>
<path d="M410.5,150.3L413.0,148.8L411.1,144.9L408.7,146.4Z" fill="#c73800" stroke="#c73800"/>
<path d="M416.7,156.2L419.1,154.5L417.2,150.9L414.8,152.6Z" fill="#d22d00" stroke="#d22d00"/>
<path d="M398.8,130.2L401.3,128.9L399.4,124.1L397.0,125.4Z" fill="#a05f00" stroke="#a05f00"/>
<path d="M397.0,125.4L399.4,124.1L397.6,119.1L395.1,120.3Z" fill="#976800" stroke="#976800"/>
<path d="M400.7,134.8L403.2,133.5L401.3,128.9L398.8,130.2Z" fill="#a95600" stroke="#a95600"/>
<path d="M469.9,106.1L472.3,101.0L470.4,98.2L468.0,103.3Z" fill="#718e00" stroke="#718e00"/>
<path d="M447.1,155.4L449.5,152.3L447.6,149.8L445.2,152.9Z" fill="#d02f00" stroke="#d02f00"/>
<path d="M395.1,120.3L397.6,119.1L395.7,113.9L393.3,115.2Z" fill="#8d7200" stroke="#8d7200"/>
<path d="M402.6,139.3L405.0,138.0L403.2,133.5L400.7,134.8Z" fill="#b24d00" stroke="#b24d00"/>
<path d="M464.0,129.8L466.4,125.4L464.5,123.0L462.1,127.3Z" fill="#9e6100" stroke="#9e6100"/>
<path d="M438.0,161.2L440.4,158.6L438.6,155.9L436.1,158.5Z" fill="#db2400" stroke="#db2400"/>
<path d="M393.3,115.2L395.7,113.9L393.9,108.5L391.4,109.8Z" fill="#837c00" stroke="#837c00"/>
<path d="M404.4,143.6L406.8,142.3L405.0,138.0L402.6,139.3Z" fill="#ba4500" stroke="#ba4500"/>
<path d="M427.1,162.3L429.5,160.2L427.6,157.2L425.2,159.2Z" fill="#dd2200" stroke="#dd2200"/>
<path d="M422.8,161.1L425.2,159.2L423.4,156.0L420.9,157.9Z" fill="#db2400" stroke="#db2400"/>
<path d="M444.7,158.3L447.1,155.4L445.2,152.9L442.8,155.8Z" fill="#d52a00" stroke="#d52a00"/>
<path d="M412.4,154.1L414.8,152.6L413.0,148.8L410.5,150.3Z" fill="#ce3100" stroke="#ce3100"/>
<path d="M469.3,113.7L471.8,108.7L469.9,106.1L467.4,111.0Z" fill="#7f8000" stroke="#7f8000"/>
<path d="M431.3,163.1L433.7,160.9L431.9,158.0L429.5,160.2Z" fill="#de2100" stroke="#de2100"/>
<path d="M466.4,125.4L468.8,120.9L466.9,118.4L464.5,123.0Z" fill="#956a00" stroke="#956a00"/>
<path d="M418.5,159.6L420.9,157.9L419.1,154.5L416.7,156.2Z" fill="#d82700" stroke="#d82700"/>
<path d="M406.3,147.7L408.7,146.4L406.8,142.3L404.4,143.6Z" fill="#c13e00" stroke="#c13e00"/>
<path d="M456.2,147.8L458.6,144.2L456.7,141.9L454.3,145.5Z" fill="#c03f00" stroke="#c03f00"/>
<path d="M458.6,144.2L461.0,140.3L459.1,138.0L456.7,141.9Z" fill="#b94600" stroke="#b94600"/>
<path d="M442.3,161.1L444.7,158.3L442.8,155.8L440.4,158.6Z" fill="#da2500" stroke="#da2500"/>
<path d="M435.6,163.6L438.0,161.2L436.1,158.5L433.7,160.9Z" fill="#df2000" stroke="#df2000"/>
<path d="M453.8,151.3L456.2,147.8L454.3,145.5L451.9,149.0Z" fill="#c73800" stroke="#c73800"/>
<path d="M461.0,140.3L463.4,136.3L461.5,134.0L459.1,138.0Z" fill="#b24d00" stroke="#b24d00"/>
<path d="M414.2,157.7L416.7,156.2L414.8,152.6L412.4,154.1Z" fill="#d42b00" stroke="#d42b00"/>
<path d="M468.8,120.9L471.2,116.1L469.3,113.7L466.9,118.4Z" fill="#8c7300" stroke="#8c7300"/>
<path d="M451.4,154.6L453.8,151.3L451.9,149.0L449.5,152.3Z" fill="#cd3200" stroke="#cd3200"/>
<path d="M408.1,151.6L410.5,150.3L408.7,146.4L406.3,147.7Z" fill="#c83700" stroke="#c83700"/>
<path d="M471.8,108.7L474.2,103.6L472.3,101.0L469.9,106.1Z" fill="#758a00" stroke="#758a00"/>
<path d="M463.4,136.3L465.8,132.1L464.0,129.8L461.5,134.0Z" fill="#aa5500" stroke="#aa5500"/>
<path d="M396.4,131.3L398.8,130.2L397.0,125.4L394.5,126.5Z" fill="#a15e00" stroke="#a15e00"/>
<path d="M394.5,126.5L397.0,125.4L395.1,120.3L392.7,121.4Z" fill="#986700" stroke="#986700"/>
<path d="M398.2,136.0L400.7,134.8L398.8,130.2L396.4,131.3Z" fill="#aa5500" stroke="#aa5500"/>
<path d="M424.6,164.1L427.1,162.3L425.2,159.2L422.8,161.1Z" fill="#e01f00" stroke="#e01f00"/>
<path d="M449.0,157.7L451.4,154.6L449.5,152.3L447.1,155.4Z" fill="#d32c00" stroke="#d32c00"/>
<path d="M428.9,165.1L431.3,163.1L429.5,160.2L427.1,162.3Z" fill="#e21d00" stroke="#e21d00"/>
<path d="M392.7,121.4L395.1,120.3L393.3,115.2L390.8,116.2Z" fill="#8e7100" stroke="#8e7100"/>
<path d="M439.9,163.7L442.3,161.1L440.4,158.6L438.0,161.2Z" fill="#de2100" stroke="#de2100"/>
<path d="M400.1,140.4L402.6,139.3L400.7,134.8L398.2,136.0Z" fill="#b34c00" stroke="#b34c00"/>
<path d="M420.4,162.8L422.8,161.1L420.9,157.9L418.5,159.6Z" fill="#dd2200" stroke="#dd2200"/>
<path d="M465.8,132.1L468.3,127.7L466.4,125.4L464.0,129.8Z" fill="#a15e00" stroke="#a15e00"/>
<path d="M433.2,165.8L435.6,163.6L433.7,160.9L431.3,163.1Z" fill="#e21d00" stroke="#e21d00"/>
<path d="M409.9,155.4L412.4,154.1L410.5,150.3L408.1,151.6Z" fill="#cf3000" stroke="#cf3000"/>
<path d="M471.2,116.1L473.7,111.2L471.8,108.7L469.3,113.7Z" fill="#827d00" stroke="#827d00"/>
<path d="M390.8,116.2L393.3,115.2L391.4,109.8L388.9,110.9Z" fill="#847b00" stroke="#847b00"/>
<path d="M402.0,144.7L404.4,143.6L402.6,139.3L400.1,140.4Z" fill="#bb4400" stroke="#bb4400"/>
<path d="M446.5,160.6L449.0,157.7L447.1,155.4L444.7,158.3Z" fill="#d82700" stroke="#d82700"/>
<path d="M416.1,161.1L418.5,159.6L416.7,156.2L414.2,157.7Z" fill="#da2500" stroke="#da2500"/>
<path d="M468.3,127.7L470.7,123.1L468.8,120.9L466.4,125.4Z" fill="#996600" stroke="#996600"/>
<path d="M403.8,148.8L406.3,147.7L404.4,143.6L402.0,144.7Z" fill="#c23d00" stroke="#c23d00"/>
<path d="M437.4,166.1L439.9,163.7L438.0,161.2L435.6,163.6Z" fill="#e21d00" stroke="#e21d00"/>
<path d="M444.1,163.4L446.5,160.6L444.7,158.3L442.3,161.1Z" fill="#dd2200" stroke="#dd2200"/>
<path d="M458.1,149.9L460.5,146.3L458.6,144.2L456.2,147.8Z" fill="#c33c00" stroke="#c33c00"/>
<path d="M460.5,146.3L462.9,142.4L461.0,140.3L458.6,144.2Z" fill="#bc4300" stroke="#bc4300"/>
<path d="M411.8,159.0L414.2,157.7L412.4,154.1L409.9,155.4Z" fill="#d52a00" stroke="#d52a00"/>
<path d="M455.7,153.4L458.1,149.9L456.2,147.8L453.8,151.3Z" fill="#ca3500" stroke="#ca3500"/>
<path d="M426.5,167.0L428.9,165.1L427.1,162.3L424.6,164.1Z" fill="#e41b00" stroke="#e41b00"/>
<path d="M462.9,142.4L465.3,138.4L463.4,136.3L461.0,140.3Z" fill="#b44b00" stroke="#b44b00"/>
<path d="M473.7,111.2L476.1,106.0L474.2,103.6L471.8,108.7Z" fill="#788700" stroke="#788700"/>
<path d="M422.2,165.8L424.6,164.1L422.8,161.1L420.4,162.8Z" fill="#e21d00" stroke="#e21d00"/>
<path d="M470.7,123.1L473.1,118.4L471.2,116.1L468.8,120.9Z" fill="#8f7000" stroke="#8f7000"/>
<path d="M405.6,152.8L408.1,151.6L406.3,147.7L403.8,148.8Z" fill="#c93600" stroke="#c93600"/>
<path d="M453.2,156.7L455.7,153.4L453.8,151.3L451.4,154.6Z" fill="#d02f00" stroke="#d02f00"/>
<path d="M430.8,167.8L433.2,165.8L431.3,163.1L428.9,165.1Z" fill="#e61900" stroke="#e61900"/>
<path d="M465.3,138.4L467.7,134.2L465.8,132.1L463.4,136.3Z" fill="#ac5300" stroke="#ac5300"/>
<path d="M417.9,164.3L420.4,162.8L418.5,159.6L416.1,161.1Z" fill="#df2000" stroke="#df2000"/>
<path d="M393.9,132.2L396.4,131.3L394.5,126.5L392.1,127.4Z" fill="#a25d00" stroke="#a25d00"/>
<path d="M392.1,127.4L394.5,126.5L392.7,121.4L390.2,122.4Z" fill="#996600" stroke="#996600"/>
<path d="M395.8,136.9L398.2,136.0L396.4,131.3L393.9,132.2Z" fill="#ab5400" stroke="#ab5400"/>
<path d="M441.7,166.0L444.1,163.4L442.3,161.1L439.9,163.7Z" fill="#e21d00" stroke="#e21d00"/>
<path d="M450.8,159.8L453.2,156.7L451.4,154.6L449.0,157.7Z" fill="#d62900" stroke="#d62900"/>
<path d="M435.0,168.3L437.4,166.1L435.6,163.6L433.2,165.8Z" fill="#e61900" stroke="#e61900"/>
<path d="M467.7,134.2L470.2,129.8L468.3,127.7L465.8,132.1Z" fill="#a45b00" stroke="#a45b00"/>
<path d="M390.2,122.4L392.7,121.4L390.8,116.2L388.3,117.2Z" fill="#8f7000" stroke="#8f7000"/>
<path d="M397.6,141.4L400.1,140.4L398.2,136.0L395.8,136.9Z" fill="#b34c00" stroke="#b34c00"/>
<path d="M473.1,118.4L475.6,113.4L473.7,111.2L471.2,116.1Z" fill="#857a00" stroke="#857a00"/>
<path d="M407.5,156.5L409.9,155.4L408.1,151.6L405.6,152.8Z" fill="#d02f00" stroke="#d02f00"/>
<path d="M413.6,162.4L416.1,161.1L414.2,157.7L411.8,159.0Z" fill="#db2400" stroke="#db2400"/>
<path d="M388.3,117.2L390.8,116.2L388.9,110.9L386.4,111.8Z" fill="#857a00" stroke="#857a00"/>
<path d="M399.5,145.7L402.0,144.7L400.1,140.4L397.6,141.4Z" fill="#bb4400" stroke="#bb4400"/>
<path d="M448.4,162.8L450.8,159.8L449.0,157.7L446.5,160.6Z" fill="#db2400" stroke="#db2400"/>
<path d="M470.2,129.8L472.6,125.2L470.7,123.1L468.3,127.7Z" fill="#9b6400" stroke="#9b6400"/>
<path d="M424.0,168.7L426.5,167.0L424.6,164.1L422.2,165.8Z" fill="#e61900" stroke="#e61900"/>
<path d="M439.3,168.4L441.7,166.0L439.9,163.7L437.4,166.1Z" fill="#e61900" stroke="#e61900"/>
<path d="M428.3,169.7L430.8,167.8L428.9,165.1L426.5,167.0Z" fill="#e81700" stroke="#e81700"/>
<path d="M401.3,149.8L403.8,148.8L402.0,144.7L399.5,145.7Z" fill="#c33c00" stroke="#c33c00"/>
<path d="M419.8,167.3L422.2,165.8L420.4,162.8L417.9,164.3Z" fill="#e41b00" stroke="#e41b00"/>
<path d="M446.0,165.6L448.4,162.8L446.5,160.6L444.1,163.4Z" fill="#e01f00" stroke="#e01f00"/>
<path d="M409.3,160.1L411.8,159.0L409.9,155.4L407.5,156.5Z" fill="#d62900" stroke="#d62900"/>
<path d="M475.6,113.4L478.0,108.3L476.1,106.0L473.7,111.2Z" fill="#7b8400" stroke="#7b8400"/>
<path d="M432.6,170.3L435.0,168.3L433.2,165.8L430.8,167.8Z" fill="#e91600" stroke="#e91600"/>
<path d="M460.0,151.9L462.4,148.2L460.5,146.3L458.1,149.9Z" fill="#c53a00" stroke="#c53a00"/>
<path d="M462.4,148.2L464.8,144.4L462.9,142.4L460.5,146.3Z" fill="#be4100" stroke="#be4100"/>
<path d="M472.6,125.2L475.0,120.5L473.1,118.4L470.7,123.1Z" fill="#926d00" stroke="#926d00"/>
<path d="M457.5,155.4L460.0,151.9L458.1,149.9L455.7,153.4Z" fill="#cc3300" stroke="#cc3300"/>
<path d="M415.5,165.6L417.9,164.3L416.1,161.1L413.6,162.4Z" fill="#e01f00" stroke="#e01f00"/>
<path d="M464.8,144.4L467.2,140.4L465.3,138.4L462.9,142.4Z" fill="#b74800" stroke="#b74800"/>
<path d="M403.2,153.7L405.6,152.8L403.8,148.8L401.3,149.8Z" fill="#ca3500" stroke="#ca3500"/>
<path d="M455.1,158.7L457.5,155.4L455.7,153.4L453.2,156.7Z" fill="#d22d00" stroke="#d22d00"/>
<path d="M467.2,140.4L469.6,136.1L467.7,134.2L465.3,138.4Z" fill="#af5000" stroke="#af5000"/>
<path d="M443.6,168.1L446.0,165.6L444.1,163.4L441.7,166.0Z" fill="#e41b00" stroke="#e41b00"/>
<path d="M436.9,170.6L439.3,168.4L437.4,166.1L435.0,168.3Z" fill="#e91600" stroke="#e91600"/>
<path d="M391.4,133.0L393.9,132.2L392.1,127.4L389.6,128.1Z" fill="#a25d00" stroke="#a25d00"/>
<path d="M452.7,161.8L455.1,158.7L453.2,156.7L450.8,159.8Z" fill="#d82700" stroke="#d82700"/>
<path d="M389.6,128.1L392.1,127.4L390.2,122.4L387.7,123.1Z" fill="#996600" stroke="#996600"/>
<path d="M393.3,137.6L395.8,136.9L393.9,132.2L391.4,133.0Z" fill="#ab5400" stroke="#ab5400"/>
<path d="M411.2,163.5L413.6,162.4L411.8,159.0L409.3,160.1Z" fill="#dc2300" stroke="#dc2300"/>
<path d="M469.6,136.1L472.1,131.8L470.2,129.8L467.7,134.2Z" fill="#a65900" stroke="#a65900"/>
<path d="M475.0,120.5L477.5,115.5L475.6,113.4L473.1,118.4Z" fill="#887700" stroke="#887700"/>
<path d="M387.7,123.1L390.2,122.4L388.3,117.2L385.8,117.9Z" fill="#8f7000" stroke="#8f7000"/>
<path d="M395.2,142.1L397.6,141.4L395.8,136.9L393.3,137.6Z" fill="#b34c00" stroke="#b34c00"/>
<path d="M405.0,157.5L407.5,156.5L405.6,152.8L403.2,153.7Z" fill="#d02f00" stroke="#d02f00"/>
<path d="M425.9,171.4L428.3,169.7L426.5,167.0L424.0,168.7Z" fill="#ea1500" stroke="#ea1500"/>
<path d="M421.6,170.2L424.0,168.7L422.2,165.8L419.8,167.3Z" fill="#e81700" stroke="#e81700"/>
<path d="M450.3,164.8L452.7,161.8L450.8,159.8L448.4,162.8Z" fill="#dd2200" stroke="#dd2200"/>
<path d="M385.8,117.9L388.3,117.2L386.4,111.8L384.0,112.5Z" fill="#857a00" stroke="#857a00"/>
<path d="M397.0,146.4L399.5,145.7L397.6,141.4L395.2,142.1Z" fill="#bb4400" stroke="#bb4400"/>
<path d="M430.2,172.2L432.6,170.3L430.8,167.8L428.3,169.7Z" fill="#ec1300" stroke="#ec1300"/>
<path d="M417.3,168.7L419.8,167.3L417.9,164.3L415.5,165.6Z" fill="#e51a00" stroke="#e51a00"/>
<path d="M472.1,131.8L474.5,127.2L472.6,125.2L470.2,129.8Z" fill="#9d6200" stroke="#9d6200"/>
<path d="M441.2,170.6L443.6,168.1L441.7,166.0L439.3,168.4Z" fill="#e81700" stroke="#e81700"/>
<path d="M398.9,150.6L401.3,149.8L399.5,145.7L397.0,146.4Z" fill="#c33c00" stroke="#c33c00"/>
<path d="M434.5,172.7L436.9,170.6L435.0,168.3L432.6,170.3Z" fill="#ec1300" stroke="#ec1300"/>
<path d="M406.9,161.1L409.3,160.1L407.5,156.5L405.0,157.5Z" fill="#d62900" stroke="#d62900"/>
<path d="M477.5,115.5L479.9,110.4L478.0,108.3L475.6,113.4Z" fill="#7e8100" stroke="#7e8100"/>
<path d="M447.9,167.5L450.3,164.8L448.4,162.8L446.0,165.6Z" fill="#e21d00" stroke="#e21d00"/>
<path d="M413.0,166.8L415.5,165.6L413.6,162.4L411.2,163.5Z" fill="#e11e00" stroke="#e11e00"/>
<path d="M474.5,127.2L476.9,122.4L475.0,120.5L472.6,125.2Z" fill="#946b00" stroke="#946b00"/>
<path d="M461.9,153.7L464.3,150.0L462.4,148.2L460.0,151.9Z" fill="#c73800" stroke="#c73800"/>
<path d="M464.3,150.0L466.7,146.2L464.8,144.4L462.4,148.2Z" fill="#c03f00" stroke="#c03f00"/>
<path d="M459.4,157.2L461.9,153.7L460.0,151.9L457.5,155.4Z" fill="#ce3100" stroke="#ce3100"/>
<path d="M400.7,154.5L403.2,153.7L401.3,149.8L398.9,150.6Z" fill="#ca3500" stroke="#ca3500"/>
<path d="M466.7,146.2L469.1,142.1L467.2,140.4L464.8,144.4Z" fill="#b84700" stroke="#b84700"/>
<path d="M438.8,172.8L441.2,170.6L439.3,168.4L436.9,170.6Z" fill="#ec1300" stroke="#ec1300"/>
<path d="M457.0,160.5L459.4,157.2L457.5,155.4L455.1,158.7Z" fill="#d42b00" stroke="#d42b00"/>
<path d="M423.5,172.9L425.9,171.4L424.0,168.7L421.6,170.2Z" fill="#ec1300" stroke="#ec1300"/>
<path d="M445.5,170.1L447.9,167.5L446.0,165.6L443.6,168.1Z" fill="#e61900" stroke="#e61900"/>
<path d="M469.1,142.1L471.6,137.9L469.6,136.1L467.2,140.4Z" fill="#b04f00" stroke="#b04f00"/>
<path d="M427.8,173.9L430.2,172.2L428.3,169.7L425.9,171.4Z" fill="#ee1100" stroke="#ee1100"/>
<path d="M419.2,171.6L421.6,170.2L419.8,167.3L417.3,168.7Z" fill="#ea1500" stroke="#ea1500"/>
<path d="M408.7,164.5L411.2,163.5L409.3,160.1L406.9,161.1Z" fill="#dc2300" stroke="#dc2300"/>
<path d="M389.0,133.6L391.4,133.0L389.6,128.1L387.1,128.7Z" fill="#a15e00" stroke="#a15e00"/>
<path d="M454.6,163.6L457.0,160.5L455.1,158.7L452.7,161.8Z" fill="#da2500" stroke="#da2500"/>
<path d="M476.9,122.4L479.4,117.5L477.5,115.5L475.0,120.5Z" fill="#8a7500" stroke="#8a7500"/>
<path d="M387.1,128.7L389.6,128.1L387.7,123.1L385.2,123.7Z" fill="#986700" stroke="#986700"/>
<path d="M390.8,138.2L393.3,137.6L391.4,133.0L389.0,133.6Z" fill="#aa5500" stroke="#aa5500"/>
<path d="M402.6,158.3L405.0,157.5L403.2,153.7L400.7,154.5Z" fill="#d02f00" stroke="#d02f00"/>
<path d="M471.6,137.9L474.0,133.5L472.1,131.8L469.6,136.1Z" fill="#a85700" stroke="#a85700"/>
<path d="M432.0,174.6L434.5,172.7L432.6,170.3L430.2,172.2Z" fill="#ef1000" stroke="#ef1000"/>
<path d="M385.2,123.7L387.7,123.1L385.8,117.9L383.3,118.4Z" fill="#8e7100" stroke="#8e7100"/>
<path d="M392.7,142.7L395.2,142.1L393.3,137.6L390.8,138.2Z" fill="#b34c00" stroke="#b34c00"/>
<path d="M414.9,169.8L417.3,168.7L415.5,165.6L413.0,166.8Z" fill="#e61900" stroke="#e61900"/>
<path d="M452.2,166.6L454.6,163.6L452.7,161.8L450.3,164.8Z" fill="#df2000" stroke="#df2000"/>
<path d="M383.3,118.4L385.8,117.9L384.0,112.5L381.5,113.0Z" fill="#847b00" stroke="#847b00"/>
<path d="M394.5,147.0L397.0,146.4L395.2,142.1L392.7,142.7Z" fill="#bb4400" stroke="#bb4400"/>
<path d="M443.0,172.5L445.5,170.1L443.6,168.1L441.2,170.6Z" fill="#ea1500" stroke="#ea1500"/>
<path d="M474.0,133.5L476.4,128.9L474.5,127.2L472.1,131.8Z" fill="#9f6000" stroke="#9f6000"/>
<path d="M436.3,174.9L438.8,172.8L436.9,170.6L434.5,172.7Z" fill="#ef1000" stroke="#ef1000"/>
<path d="M479.4,117.5L481.8,112.3L479.9,110.4L477.5,115.5Z" fill="#807f00" stroke="#807f00"/>
<path d="M404.4,161.9L406.9,161.1L405.0,157.5L402.6,158.3Z" fill="#d62900" stroke="#d62900"/>
<path d="M410.6,167.8L413.0,166.8L411.2,163.5L408.7,164.5Z" fill="#e21d00" stroke="#e21d00"/>
<path d="M396.4,151.2L398.9,150.6L397.0,146.4L394.5,147.0Z" fill="#c23d00" stroke="#c23d00"/>
<path d="M449.8,169.3L452.2,166.6L450.3,164.8L447.9,167.5Z" fill="#e41b00" stroke="#e41b00"/>
<path d="M425.3,175.5L427.8,173.9L425.9,171.4L423.5,172.9Z" fill="#f00f00" stroke="#f00f00"/>
<path d="M476.4,128.9L478.9,124.2L476.9,122.4L474.5,127.2Z" fill="#966900" stroke="#966900"/>
<path d="M421.0,174.3L423.5,172.9L421.6,170.2L419.2,171.6Z" fill="#ee1100" stroke="#ee1100"/>
<path d="M463.8,155.3L466.2,151.6L464.3,150.0L461.9,153.7Z" fill="#c83700" stroke="#c83700"/>
<path d="M429.6,176.3L432.0,174.6L430.2,172.2L427.8,173.9Z" fill="#f10e00" stroke="#f10e00"/>
<path d="M466.2,151.6L468.6,147.8L466.7,146.2L464.3,150.0Z" fill="#c13e00" stroke="#c13e00"/>
<path d="M398.2,155.1L400.7,154.5L398.9,150.6L396.4,151.2Z" fill="#c93600" stroke="#c93600"/>
<path d="M440.6,174.8L443.0,172.5L441.2,170.6L438.8,172.8Z" fill="#ee1100" stroke="#ee1100"/>
<path d="M461.3,158.8L463.8,155.3L461.9,153.7L459.4,157.2Z" fill="#cf3000" stroke="#cf3000"/>
<path d="M416.7,172.7L419.2,171.6L417.3,168.7L414.9,169.8Z" fill="#ea1500" stroke="#ea1500"/>
<path d="M468.6,147.8L471.0,143.7L469.1,142.1L466.7,146.2Z" fill="#ba4500" stroke="#ba4500"/>
<path d="M447.3,171.9L449.8,169.3L447.9,167.5L445.5,170.1Z" fill="#e81700" stroke="#e81700"/>
<path d="M458.9,162.1L461.3,158.8L459.4,157.2L457.0,160.5Z" fill="#d52a00" stroke="#d52a00"/>
<path d="M406.3,165.3L408.7,164.5L406.9,161.1L404.4,161.9Z" fill="#dc2300" stroke="#dc2300"/>
<path d="M471.0,143.7L473.5,139.5L471.6,137.9L469.1,142.1Z" fill="#b24d00" stroke="#b24d00"/>
<path d="M433.9,176.7L436.3,174.9L434.5,172.7L432.0,174.6Z" fill="#f10e00" stroke="#f10e00"/>
<path d="M478.9,124.2L481.3,119.2L479.4,117.5L476.9,122.4Z" fill="#8c7300" stroke="#8c7300"/>
<path d="M412.4,170.8L414.9,169.8L413.0,166.8L410.6,167.8Z" fill="#e61900" stroke="#e61900"/>
<path d="M456.5,165.2L458.9,162.1L457.0,160.5L454.6,163.6Z" fill="#db2400" stroke="#db2400"/>
<path d="M386.5,133.9L389.0,133.6L387.1,128.7L384.6,129.1Z" fill="#a05f00" stroke="#a05f00"/>
<path d="M400.1,158.9L402.6,158.3L400.7,154.5L398.2,155.1Z" fill="#d02f00" stroke="#d02f00"/>
<path d="M384.6,129.1L387.1,128.7L385.2,123.7L382.7,124.0Z" fill="#976800" stroke="#976800"/>
<path d="M388.3,138.6L390.8,138.2L389.0,133.6L386.5,133.9Z" fill="#a95600" stroke="#a95600"/>
<path d="M473.5,139.5L475.9,135.1L474.0,133.5L471.6,137.9Z" fill="#a95600" stroke="#a95600"/>
<path d="M382.7,124.0L385.2,123.7L383.3,118.4L380.8,118.8Z" fill="#8d7200" stroke="#8d7200"/>
<path d="M390.2,143.1L392.7,142.7L390.8,138.2L388.3,138.6Z" fill="#b24d00" stroke="#b24d00"/>
<path d="M444.9,174.4L447.3,171.9L445.5,170.1L443.0,172.5Z" fill="#ec1300" stroke="#ec1300"/>
<path d="M454.1,168.2L456.5,165.2L454.6,163.6L452.2,166.6Z" fill="#e01f00" stroke="#e01f00"/>
<path d="M438.2,176.9L440.6,174.8L438.8,172.8L436.3,174.9Z" fill="#f10e00" stroke="#f10e00"/>
<path d="M380.8,118.8L383.3,118.4L381.5,113.0L378.9,113.4Z" fill="#837c00" stroke="#837c00"/>
<path d="M392.0,147.4L394.5,147.0L392.7,142.7L390.2,143.1Z" fill="#ba4500" stroke="#ba4500"/>
<path d="M475.9,135.1L478.3,130.5L476.4,128.9L474.0,133.5Z" fill="#a05f00" stroke="#a05f00"/>
<path d="M422.9,176.8L425.3,175.5L423.5,172.9L421.0,174.3Z" fill="#f10e00" stroke="#f10e00"/>
<path d="M408.1,168.6L410.6,167.8L408.7,164.5L406.3,165.3Z" fill="#e21d00" stroke="#e21d00"/>
<path d="M427.2,177.8L429.6,176.3L427.8,173.9L425.3,175.5Z" fill="#f30c00" stroke="#f30c00"/>
<path d="M481.3,119.2L483.8,114.0L481.8,112.3L479.4,117.5Z" fill="#827d00" stroke="#827d00"/>
<path d="M401.9,162.5L404.4,161.9L402.6,158.3L400.1,158.9Z" fill="#d62900" stroke="#d62900"/>
<path d="M418.6,175.4L421.0,174.3L419.2,171.6L416.7,172.7Z" fill="#ee1100" stroke="#ee1100"/>
<path d="M393.9,151.6L396.4,151.2L394.5,147.0L392.0,147.4Z" fill="#c13e00" stroke="#c13e00"/>
<path d="M451.7,171.0L454.1,168.2L452.2,166.6L449.8,169.3Z" fill="#e51a00" stroke="#e51a00"/>
<path d="M431.5,178.5L433.9,176.7L432.0,174.6L429.6,176.3Z" fill="#f40b00" stroke="#f40b00"/>
<path d="M414.3,173.7L416.7,172.7L414.9,169.8L412.4,170.8Z" fill="#eb1400" stroke="#eb1400"/>
<path d="M478.3,130.5L480.8,125.7L478.9,124.2L476.4,128.9Z" fill="#976800" stroke="#976800"/>
<path d="M442.5,176.6L444.9,174.4L443.0,172.5L440.6,174.8Z" fill="#f00f00" stroke="#f00f00"/>
<path d="M395.8,155.5L398.2,155.1L396.4,151.2L393.9,151.6Z" fill="#c83700" stroke="#c83700"/>
<path d="M465.7,156.7L468.1,153.0L466.2,151.6L463.8,155.3Z" fill="#c93600" stroke="#c93600"/>
<path d="M468.1,153.0L470.5,149.2L468.6,147.8L466.2,151.6Z" fill="#c23d00" stroke="#c23d00"/>
<path d="M435.8,178.7L438.2,176.9L436.3,174.9L433.9,176.7Z" fill="#f40b00" stroke="#f40b00"/>
<path d="M463.2,160.2L465.7,156.7L463.8,155.3L461.3,158.8Z" fill="#d02f00" stroke="#d02f00"/>
<path d="M470.5,149.2L473.0,145.1L471.0,143.7L468.6,147.8Z" fill="#bb4400" stroke="#bb4400"/>
<path d="M449.2,173.6L451.7,171.0L449.8,169.3L447.3,171.9Z" fill="#ea1500" stroke="#ea1500"/>
<path d="M403.8,165.9L406.3,165.3L404.4,161.9L401.9,162.5Z" fill="#dc2300" stroke="#dc2300"/>
<path d="M410.0,171.6L412.4,170.8L410.6,167.8L408.1,168.6Z" fill="#e61900" stroke="#e61900"/>
<path d="M460.8,163.5L463.2,160.2L461.3,158.8L458.9,162.1Z" fill="#d62900" stroke="#d62900"/>
<path d="M473.0,145.1L475.4,140.9L473.5,139.5L471.0,143.7Z" fill="#b34c00" stroke="#b34c00"/>
<path d="M480.8,125.7L483.2,120.7L481.3,119.2L478.9,124.2Z" fill="#8d7200" stroke="#8d7200"/>
<path d="M397.6,159.3L400.1,158.9L398.2,155.1L395.8,155.5Z" fill="#cf3000" stroke="#cf3000"/>
<path d="M458.4,166.7L460.8,163.5L458.9,162.1L456.5,165.2Z" fill="#dc2300" stroke="#dc2300"/>
<path d="M383.9,134.2L386.5,133.9L384.6,129.1L382.1,129.3Z" fill="#9f6000" stroke="#9f6000"/>
<path d="M424.7,179.2L427.2,177.8L425.3,175.5L422.9,176.8Z" fill="#f40b00" stroke="#f40b00"/>
<path d="M420.4,178.0L422.9,176.8L421.0,174.3L418.6,175.4Z" fill="#f20d00" stroke="#f20d00"/>
<path d="M382.1,129.3L384.6,129.1L382.7,124.0L380.2,124.2Z" fill="#966900" stroke="#966900"/>
<path d="M385.8,138.8L388.3,138.6L386.5,133.9L383.9,134.2Z" fill="#a85700" stroke="#a85700"/>
<path d="M475.4,140.9L477.8,136.5L475.9,135.1L473.5,139.5Z" fill="#aa5500" stroke="#aa5500"/>
<path d="M440.1,178.7L442.5,176.6L440.6,174.8L438.2,176.9Z" fill="#f30c00" stroke="#f30c00"/>
<path d="M429.0,180.0L431.5,178.5L429.6,176.3L427.2,177.8Z" fill="#f50a00" stroke="#f50a00"/>
<path d="M380.2,124.2L382.7,124.0L380.8,118.8L378.3,119.0Z" fill="#8c7300" stroke="#8c7300"/>
<path d="M387.7,143.3L390.2,143.1L388.3,138.6L385.8,138.8Z" fill="#b04f00" stroke="#b04f00"/>
<path d="M446.8,176.0L449.2,173.6L447.3,171.9L444.9,174.4Z" fill="#ee1100" stroke="#ee1100"/>
<path d="M416.1,176.4L418.6,175.4L416.7,172.7L414.3,173.7Z" fill="#ef1000" stroke="#ef1000"/>
<path d="M456.0,169.6L458.4,166.7L456.5,165.2L454.1,168.2Z" fill="#e11e00" stroke="#e11e00"/>
<path d="M405.6,169.2L408.1,168.6L406.3,165.3L403.8,165.9Z" fill="#e11e00" stroke="#e11e00"/>
<path d="M378.3,119.0L380.8,118.8L378.9,113.4L376.4,113.6Z" fill="#827d00" stroke="#827d00"/>
<path d="M389.5,147.7L392.0,147.4L390.2,143.1L387.7,143.3Z" fill="#b84700" stroke="#b84700"/>
<path d="M477.8,136.5L480.3,131.9L478.3,130.5L475.9,135.1Z" fill="#a15e00" stroke="#a15e00"/>
<path d="M483.2,120.7L485.7,115.6L483.8,114.0L481.3,119.2Z" fill="#837c00" stroke="#837c00"/>
<path d="M433.3,180.5L435.8,178.7L433.9,176.7L431.5,178.5Z" fill="#f60900" stroke="#f60900"/>
<path d="M399.5,162.9L401.9,162.5L400.1,158.9L397.6,159.3Z" fill="#d52a00" stroke="#d52a00"/>
<path d="M411.8,174.5L414.3,173.7L412.4,170.8L410.0,171.6Z" fill="#eb1400" stroke="#eb1400"/>
<path d="M391.4,151.8L393.9,151.6L392.0,147.4L389.5,147.7Z" fill="#c03f00" stroke="#c03f00"/>
<path d="M453.5,172.4L456.0,169.6L454.1,168.2L451.7,171.0Z" fill="#e61900" stroke="#e61900"/>
<path d="M480.3,131.9L482.7,127.1L480.8,125.7L478.3,130.5Z" fill="#986700" stroke="#986700"/>
<path d="M444.4,178.3L446.8,176.0L444.9,174.4L442.5,176.6Z" fill="#f10e00" stroke="#f10e00"/>
<path d="M437.6,180.6L440.1,178.7L438.2,176.9L435.8,178.7Z" fill="#f50a00" stroke="#f50a00"/>
<path d="M393.3,155.8L395.8,155.5L393.9,151.6L391.4,151.8Z" fill="#c73800" stroke="#c73800"/>
<path d="M401.3,166.4L403.8,165.9L401.9,162.5L399.5,162.9Z" fill="#db2400" stroke="#db2400"/>
<path d="M407.5,172.3L410.0,171.6L408.1,168.6L405.6,169.2Z" fill="#e61900" stroke="#e61900"/>
<path d="M467.6,158.0L470.0,154.3L468.1,153.0L465.7,156.7Z" fill="#ca3500" stroke="#ca3500"/>
<path d="M470.0,154.3L472.5,150.4L470.5,149.2L468.1,153.0Z" fill="#c33c00" stroke="#c33c00"/>
<path d="M451.1,175.0L453.5,172.4L451.7,171.0L449.2,173.6Z" fill="#ea1500" stroke="#ea1500"/>
<path d="M422.3,180.3L424.7,179.2L422.9,176.8L420.4,178.0Z" fill="#f50a00" stroke="#f50a00"/>
<path d="M465.2,161.5L467.6,158.0L465.7,156.7L463.2,160.2Z" fill="#d02f00" stroke="#d02f00"/>
<path d="M426.6,181.3L429.0,180.0L427.2,177.8L424.7,179.2Z" fill="#f70800" stroke="#f70800"/>
<path d="M472.5,150.4L474.9,146.4L473.0,145.1L470.5,149.2Z" fill="#bb4400" stroke="#bb4400"/>
<path d="M418.0,179.0L420.4,178.0L418.6,175.4L416.1,176.4Z" fill="#f20d00" stroke="#f20d00"/>
<path d="M462.7,164.8L465.2,161.5L463.2,160.2L460.8,163.5Z" fill="#d62900" stroke="#d62900"/>
<path d="M482.7,127.1L485.2,122.1L483.2,120.7L480.8,125.7Z" fill="#8e7100" stroke="#8e7100"/>
<path d="M474.9,146.4L477.3,142.1L475.4,140.9L473.0,145.1Z" fill="#b34c00" stroke="#b34c00"/>
<path d="M430.9,182.0L433.3,180.5L431.5,178.5L429.0,180.0Z" fill="#f80700" stroke="#f80700"/>
<path d="M395.1,159.6L397.6,159.3L395.8,155.5L393.3,155.8Z" fill="#ce3100" stroke="#ce3100"/>
<path d="M413.7,177.2L416.1,176.4L414.3,173.7L411.8,174.5Z" fill="#ef1000" stroke="#ef1000"/>
<path d="M442.0,180.3L444.4,178.3L442.5,176.6L440.1,178.7Z" fill="#f40b00" stroke="#f40b00"/>
<path d="M460.3,167.9L462.7,164.8L460.8,163.5L458.4,166.7Z" fill="#dc2300" stroke="#dc2300"/>
<path d="M381.4,134.2L383.9,134.2L382.1,129.3L379.5,129.3Z" fill="#9d6200" stroke="#9d6200"/>
<path d="M477.3,142.1L479.8,137.7L477.8,136.5L475.4,140.9Z" fill="#ab5400" stroke="#ab5400"/>
<path d="M379.5,129.3L382.1,129.3L380.2,124.2L377.7,124.2Z" fill="#946b00" stroke="#946b00"/>
<path d="M383.3,138.9L385.8,138.8L383.9,134.2L381.4,134.2Z" fill="#a65900" stroke="#a65900"/>
<path d="M448.7,177.5L451.1,175.0L449.2,173.6L446.8,176.0Z" fill="#ee1100" stroke="#ee1100"/>
<path d="M403.2,169.6L405.6,169.2L403.8,165.9L401.3,166.4Z" fill="#e01f00" stroke="#e01f00"/>
<path d="M377.7,124.2L380.2,124.2L378.3,119.0L375.8,119.0Z" fill="#8a7500" stroke="#8a7500"/>
<path d="M385.2,143.4L387.7,143.3L385.8,138.8L383.3,138.9Z" fill="#af5000" stroke="#af5000"/>
<path d="M435.2,182.3L437.6,180.6L435.8,178.7L433.3,180.5Z" fill="#f80700" stroke="#f80700"/>
<path d="M457.9,170.9L460.3,167.9L458.4,166.7L456.0,169.6Z" fill="#e21d00" stroke="#e21d00"/>
<path d="M485.2,122.1L487.7,117.0L485.7,115.6L483.2,120.7Z" fill="#847b00" stroke="#847b00"/>
<path d="M409.3,175.2L411.8,174.5L410.0,171.6L407.5,172.3Z" fill="#ea1500" stroke="#ea1500"/>
<path d="M375.8,119.0L378.3,119.0L376.4,113.6L373.9,113.6Z" fill="#807f00" stroke="#807f00"/>
<path d="M479.8,137.7L482.2,133.1L480.3,131.9L477.8,136.5Z" fill="#a25d00" stroke="#a25d00"/>
<path d="M387.0,147.7L389.5,147.7L387.7,143.3L385.2,143.4Z" fill="#b74800" stroke="#b74800"/>
<path d="M397.0,163.2L399.5,162.9L397.6,159.3L395.1,159.6Z" fill="#d42b00" stroke="#d42b00"/>
<path d="M455.5,173.7L457.9,170.9L456.0,169.6L453.5,172.4Z" fill="#e61900" stroke="#e61900"/>
<path d="M388.9,151.9L391.4,151.8L389.5,147.7L387.0,147.7Z" fill="#be4100" stroke="#be4100"/>
<path d="M424.1,182.5L426.6,181.3L424.7,179.2L422.3,180.3Z" fill="#f80700" stroke="#f80700"/>
<path d="M446.3,179.7L448.7,177.5L446.8,176.0L444.4,178.3Z" fill="#f20d00" stroke="#f20d00"/>
<path d="M439.5,182.2L442.0,180.3L440.1,178.7L437.6,180.6Z" fill="#f70800" stroke="#f70800"/>
<path d="M419.8,181.3L422.3,180.3L420.4,178.0L418.0,179.0Z" fill="#f50a00" stroke="#f50a00"/>
<path d="M482.2,133.1L484.7,128.3L482.7,127.1L480.3,131.9Z" fill="#996600" stroke="#996600"/>
<path d="M428.5,183.4L430.9,182.0L429.0,180.0L426.6,181.3Z" fill="#f90600" stroke="#f90600"/>
<path d="M415.5,179.8L418.0,179.0L416.1,176.4L413.7,177.2Z" fill="#f20d00" stroke="#f20d00"/>
<path d="M405.0,172.7L407.5,172.3L405.6,169.2L403.2,169.6Z" fill="#e51a00" stroke="#e51a00"/>
<path d="M398.8,166.6L401.3,166.4L399.5,162.9L397.0,163.2Z" fill="#da2500" stroke="#da2500"/>
<path d="M390.7,155.9L393.3,155.8L391.4,151.8L388.9,151.9Z" fill="#c53a00" stroke="#c53a00"/>
<path d="M453.0,176.3L455.5,173.7L453.5,172.4L451.1,175.0Z" fill="#eb1400" stroke="#eb1400"/>
<path d="M432.8,183.8L435.2,182.3L433.3,180.5L430.9,182.0Z" fill="#f90600" stroke="#f90600"/>
<path d="M469.5,159.0L472.0,155.3L470.0,154.3L467.6,158.0Z" fill="#ca3500" stroke="#ca3500"/>
<path d="M472.0,155.3L474.4,151.5L472.5,150.4L470.0,154.3Z" fill="#c33c00" stroke="#c33c00"/>
<path d="M467.1,162.6L469.5,159.0L467.6,158.0L465.2,161.5Z" fill="#d02f00" stroke="#d02f00"/>
<path d="M474.4,151.5L476.8,147.4L474.9,146.4L472.5,150.4Z" fill="#bb4400" stroke="#bb4400"/>
<path d="M411.2,177.9L413.7,177.2L411.8,174.5L409.3,175.2Z" fill="#ee1100" stroke="#ee1100"/>
<path d="M484.7,128.3L487.1,123.3L485.2,122.1L482.7,127.1Z" fill="#8f7000" stroke="#8f7000"/>
<path d="M464.7,165.9L467.1,162.6L465.2,161.5L462.7,164.8Z" fill="#d62900" stroke="#d62900"/>
<path d="M443.8,181.8L446.3,179.7L444.4,178.3L442.0,180.3Z" fill="#f50a00" stroke="#f50a00"/>
<path d="M476.8,147.4L479.3,143.2L477.3,142.1L474.9,146.4Z" fill="#b34c00" stroke="#b34c00"/>
<path d="M392.6,159.6L395.1,159.6L393.3,155.8L390.7,155.9Z" fill="#cc3300" stroke="#cc3300"/>
<path d="M462.2,169.0L464.7,165.9L462.7,164.8L460.3,167.9Z" fill="#dc2300" stroke="#dc2300"/>
<path d="M437.1,183.9L439.5,182.2L437.6,180.6L435.2,182.3Z" fill="#f90600" stroke="#f90600"/>
<path d="M450.6,178.8L453.0,176.3L451.1,175.0L448.7,177.5Z" fill="#ef1000" stroke="#ef1000"/>
<path d="M400.7,169.9L403.2,169.6L401.3,166.4L398.8,166.6Z" fill="#df2000" stroke="#df2000"/>
<path d="M378.9,134.0L381.4,134.2L379.5,129.3L377.0,129.1Z" fill="#9b6400" stroke="#9b6400"/>
<path d="M479.3,143.2L481.7,138.7L479.8,137.7L477.3,142.1Z" fill="#ab5400" stroke="#ab5400"/>
<path d="M377.0,129.1L379.5,129.3L377.7,124.2L375.1,124.1Z" fill="#926d00" stroke="#926d00"/>
<path d="M380.8,138.7L383.3,138.9L381.4,134.2L378.9,134.0Z" fill="#a45b00" stroke="#a45b00"/>
<path d="M406.8,175.6L409.3,175.2L407.5,172.3L405.0,172.7Z" fill="#ea1500" stroke="#ea1500"/>
<path d="M375.1,124.1L377.7,124.2L375.8,119.0L373.2,118.8Z" fill="#887700" stroke="#887700"/>
<path d="M382.6,143.2L385.2,143.4L383.3,138.9L380.8,138.7Z" fill="#ac5300" stroke="#ac5300"/>
<path d="M487.1,123.3L489.6,118.2L487.7,117.0L485.2,122.1Z" fill="#857a00" stroke="#857a00"/>
<path d="M459.8,172.0L462.2,169.0L460.3,167.9L457.9,170.9Z" fill="#e21d00" stroke="#e21d00"/>
<path d="M421.7,183.5L424.1,182.5L422.3,180.3L419.8,181.3Z" fill="#f80700" stroke="#f80700"/>
<path d="M426.0,184.5L428.5,183.4L426.6,181.3L424.1,182.5Z" fill="#fa0500" stroke="#fa0500"/>
<path d="M394.4,163.3L397.0,163.2L395.1,159.6L392.6,159.6Z" fill="#d22d00" stroke="#d22d00"/>
<path d="M417.4,182.2L419.8,181.3L418.0,179.0L415.5,179.8Z" fill="#f50a00" stroke="#f50a00"/>
<path d="M481.7,138.7L484.2,134.1L482.2,133.1L479.8,137.7Z" fill="#a25d00" stroke="#a25d00"/>
<path d="M373.2,118.8L375.8,119.0L373.9,113.6L371.3,113.4Z" fill="#7e8100" stroke="#7e8100"/>
<path d="M384.5,147.6L387.0,147.7L385.2,143.4L382.6,143.2Z" fill="#b44b00" stroke="#b44b00"/>
<path d="M430.3,185.2L432.8,183.8L430.9,182.0L428.5,183.4Z" fill="#fb0400" stroke="#fb0400"/>
<path d="M441.4,183.7L443.8,181.8L442.0,180.3L439.5,182.2Z" fill="#f80700" stroke="#f80700"/>
<path d="M413.0,180.4L415.5,179.8L413.7,177.2L411.2,177.9Z" fill="#f20d00" stroke="#f20d00"/>
<path d="M448.2,181.0L450.6,178.8L448.7,177.5L446.3,179.7Z" fill="#f20d00" stroke="#f20d00"/>
<path d="M457.4,174.8L459.8,172.0L457.9,170.9L455.5,173.7Z" fill="#e61900" stroke="#e61900"/>
<path d="M386.4,151.7L388.9,151.9L387.0,147.7L384.5,147.6Z" fill="#bc4300" stroke="#bc4300"/>
<path d="M484.2,134.1L486.6,129.3L484.7,128.3L482.2,133.1Z" fill="#996600" stroke="#996600"/>
<path d="M402.5,173.0L405.0,172.7L403.2,169.6L400.7,169.9Z" fill="#e41b00" stroke="#e41b00"/>
<path d="M434.6,185.5L437.1,183.9L435.2,182.3L432.8,183.8Z" fill="#fb0400" stroke="#fb0400"/>
<path d="M396.3,166.7L398.8,166.6L397.0,163.2L394.4,163.3Z" fill="#d82700" stroke="#d82700"/>
<path d="M388.2,155.7L390.7,155.9L388.9,151.9L386.4,151.7Z" fill="#c33c00" stroke="#c33c00"/>
<path d="M408.7,178.3L411.2,177.9L409.3,175.2L406.8,175.6Z" fill="#ee1100" stroke="#ee1100"/>
<path d="M454.9,177.4L457.4,174.8L455.5,173.7L453.0,176.3Z" fill="#eb1400" stroke="#eb1400"/>
<path d="M471.5,159.9L473.9,156.2L472.0,155.3L469.5,159.0Z" fill="#c93600" stroke="#c93600"/>
<path d="M473.9,156.2L476.3,152.4L474.4,151.5L472.0,155.3Z" fill="#c23d00" stroke="#c23d00"/>
<path d="M486.6,129.3L489.1,124.3L487.1,123.3L484.7,128.3Z" fill="#8f7000" stroke="#8f7000"/>
<path d="M469.0,163.5L471.5,159.9L469.5,159.0L467.1,162.6Z" fill="#d02f00" stroke="#d02f00"/>
<path d="M476.3,152.4L478.8,148.3L476.8,147.4L474.4,151.5Z" fill="#bb4400" stroke="#bb4400"/>
<path d="M445.7,183.1L448.2,181.0L446.3,179.7L443.8,181.8Z" fill="#f50a00" stroke="#f50a00"/>
<path d="M439.0,185.4L441.4,183.7L439.5,182.2L437.1,183.9Z" fill="#fa0500" stroke="#fa0500"/>
<path d="M466.6,166.8L469.0,163.5L467.1,162.6L464.7,165.9Z" fill="#d62900" stroke="#d62900"/>
<path d="M390.1,159.5L392.6,159.6L390.7,155.9L388.2,155.7Z" fill="#ca3500" stroke="#ca3500"/>
<path d="M423.5,185.6L426.0,184.5L424.1,182.5L421.7,183.5Z" fill="#fa0500" stroke="#fa0500"/>
<path d="M478.8,148.3L481.2,144.0L479.3,143.2L476.8,147.4Z" fill="#b34c00" stroke="#b34c00"/>
<path d="M419.2,184.4L421.7,183.5L419.8,181.3L417.4,182.2Z" fill="#f80700" stroke="#f80700"/>
<path d="M398.2,170.0L400.7,169.9L398.8,166.6L396.3,166.7Z" fill="#dd2200" stroke="#dd2200"/>
<path d="M427.9,186.4L430.3,185.2L428.5,183.4L426.0,184.5Z" fill="#fc0300" stroke="#fc0300"/>
<path d="M404.4,175.9L406.8,175.6L405.0,172.7L402.5,173.0Z" fill="#e81700" stroke="#e81700"/>
<path d="M452.5,179.9L454.9,177.4L453.0,176.3L450.6,178.8Z" fill="#ef1000" stroke="#ef1000"/>
<path d="M464.1,170.0L466.6,166.8L464.7,165.9L462.2,169.0Z" fill="#dc2300" stroke="#dc2300"/>
<path d="M414.9,182.8L417.4,182.2L415.5,179.8L413.0,180.4Z" fill="#f50a00" stroke="#f50a00"/>
<path d="M481.2,144.0L483.7,139.6L481.7,138.7L479.3,143.2Z" fill="#aa5500" stroke="#aa5500"/>
<path d="M376.3,133.7L378.9,134.0L377.0,129.1L374.4,128.8Z" fill="#996600" stroke="#996600"/>
<path d="M374.4,128.8L377.0,129.1L375.1,124.1L372.6,123.7Z" fill="#8f7000" stroke="#8f7000"/>
<path d="M378.2,138.4L380.8,138.7L378.9,134.0L376.3,133.7Z" fill="#a15e00" stroke="#a15e00"/>
<path d="M489.1,124.3L491.6,119.2L489.6,118.2L487.1,123.3Z" fill="#857a00" stroke="#857a00"/>
<path d="M432.2,186.9L434.6,185.5L432.8,183.8L430.3,185.2Z" fill="#fc0300" stroke="#fc0300"/>
<path d="M372.6,123.7L375.1,124.1L373.2,118.8L370.7,118.4Z" fill="#857a00" stroke="#857a00"/>
<path d="M380.1,142.9L382.6,143.2L380.8,138.7L378.2,138.4Z" fill="#aa5500" stroke="#aa5500"/>
<path d="M461.7,172.9L464.1,170.0L462.2,169.0L459.8,172.0Z" fill="#e11e00" stroke="#e11e00"/>
<path d="M391.9,163.2L394.4,163.3L392.6,159.6L390.1,159.5Z" fill="#d02f00" stroke="#d02f00"/>
<path d="M410.6,180.9L413.0,180.4L411.2,177.9L408.7,178.3Z" fill="#f10e00" stroke="#f10e00"/>
<path d="M483.7,139.6L486.2,135.0L484.2,134.1L481.7,138.7Z" fill="#a15e00" stroke="#a15e00"/>
<path d="M443.3,185.0L445.7,183.1L443.8,181.8L441.4,183.7Z" fill="#f80700" stroke="#f80700"/>
<path d="M370.7,118.4L373.2,118.8L371.3,113.4L368.8,113.0Z" fill="#7b8400" stroke="#7b8400"/>
<path d="M381.9,147.3L384.5,147.6L382.6,143.2L380.1,142.9Z" fill="#b24d00" stroke="#b24d00"/>
<path d="M450.1,182.1L452.5,179.9L450.6,178.8L448.2,181.0Z" fill="#f20d00" stroke="#f20d00"/>
<path d="M459.3,175.7L461.7,172.9L459.8,172.0L457.4,174.8Z" fill="#e61900" stroke="#e61900"/>
<path d="M436.5,187.0L439.0,185.4L437.1,183.9L434.6,185.5Z" fill="#fc0300" stroke="#fc0300"/>
<path d="M400.0,173.1L402.5,173.0L400.7,169.9L398.2,170.0Z" fill="#e21d00" stroke="#e21d00"/>
<path d="M383.8,151.4L386.4,151.7L384.5,147.6L381.9,147.3Z" fill="#b94600" stroke="#b94600"/>
<path d="M486.2,135.0L488.6,130.2L486.6,129.3L484.2,134.1Z" fill="#986700" stroke="#986700"/>
<path d="M406.2,178.6L408.7,178.3L406.8,175.6L404.4,175.9Z" fill="#ec1300" stroke="#ec1300"/>
<path d="M393.8,166.6L396.3,166.7L394.4,163.3L391.9,163.2Z" fill="#d62900" stroke="#d62900"/>
<path d="M421.1,186.4L423.5,185.6L421.7,183.5L419.2,184.4Z" fill="#fa0500" stroke="#fa0500"/>
<path d="M385.7,155.4L388.2,155.7L386.4,151.7L383.8,151.4Z" fill="#c03f00" stroke="#c03f00"/>
<path d="M425.4,187.4L427.9,186.4L426.0,184.5L423.5,185.6Z" fill="#fc0300" stroke="#fc0300"/>
<path d="M456.8,178.4L459.3,175.7L457.4,174.8L454.9,177.4Z" fill="#ea1500" stroke="#ea1500"/>
<path d="M416.7,185.0L419.2,184.4L417.4,182.2L414.9,182.8Z" fill="#f80700" stroke="#f80700"/>
<path d="M447.6,184.2L450.1,182.1L448.2,181.0L445.7,183.1Z" fill="#f50a00" stroke="#f50a00"/>
<path d="M440.8,186.7L443.3,185.0L441.4,183.7L439.0,185.4Z" fill="#fa0500" stroke="#fa0500"/>
<path d="M488.6,130.2L491.1,125.2L489.1,124.3L486.6,129.3Z" fill="#8e7100" stroke="#8e7100"/>
<path d="M473.4,160.7L475.8,157.0L473.9,156.2L471.5,159.9Z" fill="#c83700" stroke="#c83700"/>
<path d="M429.7,188.1L432.2,186.9L430.3,185.2L427.9,186.4Z" fill="#fd0200" stroke="#fd0200"/>
<path d="M475.8,157.0L478.3,153.1L476.3,152.4L473.9,156.2Z" fill="#c13e00" stroke="#c13e00"/>
<path d="M471.0,164.2L473.4,160.7L471.5,159.9L469.0,163.5Z" fill="#cf3000" stroke="#cf3000"/>
<path d="M412.4,183.3L414.9,182.8L413.0,180.4L410.6,180.9Z" fill="#f40b00" stroke="#f40b00"/>
<path d="M478.3,153.1L480.7,149.0L478.8,148.3L476.3,152.4Z" fill="#ba4500" stroke="#ba4500"/>
<path d="M401.9,176.0L404.4,175.9L402.5,173.0L400.0,173.1Z" fill="#e61900" stroke="#e61900"/>
<path d="M387.5,159.2L390.1,159.5L388.2,155.7L385.7,155.4Z" fill="#c73800" stroke="#c73800"/>
<path d="M468.5,167.5L471.0,164.2L469.0,163.5L466.6,166.8Z" fill="#d52a00" stroke="#d52a00"/>
<path d="M395.6,169.9L398.2,170.0L396.3,166.7L393.8,166.6Z" fill="#db2400" stroke="#db2400"/>
<path d="M480.7,149.0L483.2,144.7L481.2,144.0L478.8,148.3Z" fill="#b24d00" stroke="#b24d00"/>
<path d="M454.4,180.8L456.8,178.4L454.9,177.4L452.5,179.9Z" fill="#ee1100" stroke="#ee1100"/>
<path d="M434.1,188.4L436.5,187.0L434.6,185.5L432.2,186.9Z" fill="#fd0200" stroke="#fd0200"/>
<path d="M466.1,170.7L468.5,167.5L466.6,166.8L464.1,170.0Z" fill="#db2400" stroke="#db2400"/>
<path d="M408.1,181.2L410.6,180.9L408.7,178.3L406.2,178.6Z" fill="#f00f00" stroke="#f00f00"/>
<path d="M483.2,144.7L485.7,140.3L483.7,139.6L481.2,144.0Z" fill="#a95600" stroke="#a95600"/>
<path d="M491.1,125.2L493.6,120.0L491.6,119.2L489.1,124.3Z" fill="#847b00" stroke="#847b00"/>
<path d="M373.8,133.2L376.3,133.7L374.4,128.8L371.9,128.2Z" fill="#956a00" stroke="#956a00"/>
<path d="M371.9,128.2L374.4,128.8L372.6,123.7L370.0,123.2Z" fill="#8c7300" stroke="#8c7300"/>
<path d="M375.6,137.9L378.2,138.4L376.3,133.7L373.8,133.2Z" fill="#9e6100" stroke="#9e6100"/>
<path d="M389.4,162.9L391.9,163.2L390.1,159.5L387.5,159.2Z" fill="#cd3200" stroke="#cd3200"/>
<path d="M445.2,186.1L447.6,184.2L445.7,183.1L443.3,185.0Z" fill="#f80700" stroke="#f80700"/>
<path d="M463.6,173.7L466.1,170.7L464.1,170.0L461.7,172.9Z" fill="#e01f00" stroke="#e01f00"/>
<path d="M370.0,123.2L372.6,123.7L370.7,118.4L368.1,117.9Z" fill="#827d00" stroke="#827d00"/>
<path d="M377.5,142.4L380.1,142.9L378.2,138.4L375.6,137.9Z" fill="#a75800" stroke="#a75800"/>
<path d="M485.7,140.3L488.1,135.7L486.2,135.0L483.7,139.6Z" fill="#a05f00" stroke="#a05f00"/>
<path d="M438.4,188.3L440.8,186.7L439.0,185.4L436.5,187.0Z" fill="#fc0300" stroke="#fc0300"/>
<path d="M368.1,117.9L370.7,118.4L368.8,113.0L366.2,112.4Z" fill="#788700" stroke="#788700"/>
<path d="M379.4,146.8L381.9,147.3L380.1,142.9L377.5,142.4Z" fill="#af5000" stroke="#af5000"/>
<path d="M452.0,183.1L454.4,180.8L452.5,179.9L450.1,182.1Z" fill="#f20d00" stroke="#f20d00"/>
<path d="M397.5,173.0L400.0,173.1L398.2,170.0L395.6,169.9Z" fill="#e01f00" stroke="#e01f00"/>
<path d="M422.9,188.2L425.4,187.4L423.5,185.6L421.1,186.4Z" fill="#fc0300" stroke="#fc0300"/>
<path d="M418.6,187.0L421.1,186.4L419.2,184.4L416.7,185.0Z" fill="#fa0500" stroke="#fa0500"/>
<path d="M403.7,178.7L406.2,178.6L404.4,175.9L401.9,176.0Z" fill="#ea1500" stroke="#ea1500"/>
<path d="M461.2,176.5L463.6,173.7L461.7,172.9L459.3,175.7Z" fill="#e51a00" stroke="#e51a00"/>
<path d="M427.3,189.1L429.7,188.1L427.9,186.4L425.4,187.4Z" fill="#fd0200" stroke="#fd0200"/>
<path d="M381.3,150.9L383.8,151.4L381.9,147.3L379.4,146.8Z" fill="#b64900" stroke="#b64900"/>
<path d="M414.3,185.5L416.7,185.0L414.9,182.8L412.4,183.3Z" fill="#f70800" stroke="#f70800"/>
<path d="M488.1,135.7L490.6,130.8L488.6,130.2L486.2,135.0Z" fill="#976800" stroke="#976800"/>
<path d="M391.2,166.3L393.8,166.6L391.9,163.2L389.4,162.9Z" fill="#d32c00" stroke="#d32c00"/>
<path d="M431.6,189.6L434.1,188.4L432.2,186.9L429.7,188.1Z" fill="#fe0100" stroke="#fe0100"/>
<path d="M383.1,154.9L385.7,155.4L383.8,151.4L381.3,150.9Z" fill="#bd4200" stroke="#bd4200"/>
<path d="M458.8,179.1L461.2,176.5L459.3,175.7L456.8,178.4Z" fill="#ea1500" stroke="#ea1500"/>
<path d="M442.7,187.9L445.2,186.1L443.3,185.0L440.8,186.7Z" fill="#fa0500" stroke="#fa0500"/>
<path d="M409.9,183.6L412.4,183.3L410.6,180.9L408.1,181.2Z" fill="#f30c00" stroke="#f30c00"/>
<path d="M449.5,185.2L452.0,183.1L450.1,182.1L447.6,184.2Z" fill="#f50a00" stroke="#f50a00"/>
<path d="M490.6,130.8L493.1,125.8L491.1,125.2L488.6,130.2Z" fill="#8d7200" stroke="#8d7200"/>
<path d="M399.3,175.9L401.9,176.0L400.0,173.1L397.5,173.0Z" fill="#e41b00" stroke="#e41b00"/>
<path d="M475.4,161.2L477.8,157.5L475.8,157.0L473.4,160.7Z" fill="#c73800" stroke="#c73800"/>
<path d="M477.8,157.5L480.3,153.6L478.3,153.1L475.8,157.0Z" fill="#c03f00" stroke="#c03f00"/>
<path d="M435.9,189.7L438.4,188.3L436.5,187.0L434.1,188.4Z" fill="#fd0200" stroke="#fd0200"/>
<path d="M472.9,164.7L475.4,161.2L473.4,160.7L471.0,164.2Z" fill="#ce3100" stroke="#ce3100"/>
<path d="M480.3,153.6L482.7,149.5L480.7,149.0L478.3,153.1Z" fill="#b84700" stroke="#b84700"/>
<path d="M393.1,169.6L395.6,169.9L393.8,166.6L391.2,166.3Z" fill="#d82700" stroke="#d82700"/>
<path d="M385.0,158.8L387.5,159.2L385.7,155.4L383.1,154.9Z" fill="#c43b00" stroke="#c43b00"/>
<path d="M470.5,168.1L472.9,164.7L471.0,164.2L468.5,167.5Z" fill="#d42b00" stroke="#d42b00"/>
<path d="M405.6,181.3L408.1,181.2L406.2,178.6L403.7,178.7Z" fill="#ee1100" stroke="#ee1100"/>
<path d="M456.3,181.6L458.8,179.1L456.8,178.4L454.4,180.8Z" fill="#ee1100" stroke="#ee1100"/>
<path d="M482.7,149.5L485.2,145.2L483.2,144.7L480.7,149.0Z" fill="#b04f00" stroke="#b04f00"/>
<path d="M468.0,171.3L470.5,168.1L468.5,167.5L466.1,170.7Z" fill="#da2500" stroke="#da2500"/>
<path d="M493.1,125.8L495.6,120.6L493.6,120.0L491.1,125.2Z" fill="#837c00" stroke="#837c00"/>
<path d="M420.5,188.9L422.9,188.2L421.1,186.4L418.6,187.0Z" fill="#fc0300" stroke="#fc0300"/>
<path d="M485.2,145.2L487.6,140.8L485.7,140.3L483.2,144.7Z" fill="#a85700" stroke="#a85700"/>
<path d="M424.8,189.9L427.3,189.1L425.4,187.4L422.9,188.2Z" fill="#fd0200" stroke="#fd0200"/>
<path d="M447.1,187.1L449.5,185.2L447.6,184.2L445.2,186.1Z" fill="#f80700" stroke="#f80700"/>
<path d="M371.2,132.4L373.8,133.2L371.9,128.2L369.3,127.5Z" fill="#926d00" stroke="#926d00"/>
<path d="M416.1,187.5L418.6,187.0L416.7,185.0L414.3,185.5Z" fill="#f90600" stroke="#f90600"/>
<path d="M369.3,127.5L371.9,128.2L370.0,123.2L367.4,122.4Z" fill="#897600" stroke="#897600"/>
<path d="M373.1,137.2L375.6,137.9L373.8,133.2L371.2,132.4Z" fill="#9b6400" stroke="#9b6400"/>
<path d="M386.8,162.4L389.4,162.9L387.5,159.2L385.0,158.8Z" fill="#ca3500" stroke="#ca3500"/>
<path d="M440.3,189.4L442.7,187.9L440.8,186.7L438.4,188.3Z" fill="#fc0300" stroke="#fc0300"/>
<path d="M465.6,174.2L468.0,171.3L466.1,170.7L463.6,173.7Z" fill="#df2000" stroke="#df2000"/>
<path d="M367.4,122.4L370.0,123.2L368.1,117.9L365.5,117.1Z" fill="#7f8000" stroke="#7f8000"/>
<path d="M374.9,141.7L377.5,142.4L375.6,137.9L373.1,137.2Z" fill="#a35c00" stroke="#a35c00"/>
<path d="M429.1,190.6L431.6,189.6L429.7,188.1L427.3,189.1Z" fill="#fe0100" stroke="#fe0100"/>
<path d="M487.6,140.8L490.1,136.2L488.1,135.7L485.7,140.3Z" fill="#9f6000" stroke="#9f6000"/>
<path d="M395.0,172.7L397.5,173.0L395.6,169.9L393.1,169.6Z" fill="#dd2200" stroke="#dd2200"/>
<path d="M453.9,183.8L456.3,181.6L454.4,180.8L452.0,183.1Z" fill="#f10e00" stroke="#f10e00"/>
<path d="M411.8,185.8L414.3,185.5L412.4,183.3L409.9,183.6Z" fill="#f50a00" stroke="#f50a00"/>
<path d="M401.2,178.6L403.7,178.7L401.9,176.0L399.3,175.9Z" fill="#e81700" stroke="#e81700"/>
<path d="M365.5,117.1L368.1,117.9L366.2,112.4L363.6,111.7Z" fill="#758a00" stroke="#758a00"/>
<path d="M376.8,146.1L379.4,146.8L377.5,142.4L374.9,141.7Z" fill="#ab5400" stroke="#ab5400"/>
<path d="M463.1,177.1L465.6,174.2L463.6,173.7L461.2,176.5Z" fill="#e41b00" stroke="#e41b00"/>
<path d="M433.5,190.9L435.9,189.7L434.1,188.4L431.6,189.6Z" fill="#fe0100" stroke="#fe0100"/>
<path d="M378.7,150.3L381.3,150.9L379.4,146.8L376.8,146.1Z" fill="#b34c00" stroke="#b34c00"/>
<path d="M388.7,165.9L391.2,166.3L389.4,162.9L386.8,162.4Z" fill="#d02f00" stroke="#d02f00"/>
<path d="M490.1,136.2L492.6,131.3L490.6,130.8L488.1,135.7Z" fill="#966900" stroke="#966900"/>
<path d="M407.4,183.7L409.9,183.6L408.1,181.2L405.6,181.3Z" fill="#f10e00" stroke="#f10e00"/>
<path d="M444.6,188.8L447.1,187.1L445.2,186.1L442.7,187.9Z" fill="#fa0500" stroke="#fa0500"/>
<path d="M451.4,185.9L453.9,183.8L452.0,183.1L449.5,185.2Z" fill="#f40b00" stroke="#f40b00"/>
<path d="M460.7,179.7L463.1,177.1L461.2,176.5L458.8,179.1Z" fill="#e81700" stroke="#e81700"/>
<path d="M380.6,154.3L383.1,154.9L381.3,150.9L378.7,150.3Z" fill="#ba4500" stroke="#ba4500"/>
<path d="M437.8,190.8L440.3,189.4L438.4,188.3L435.9,189.7Z" fill="#fd0200" stroke="#fd0200"/>
<path d="M396.8,175.6L399.3,175.9L397.5,173.0L395.0,172.7Z" fill="#e21d00" stroke="#e21d00"/>
<path d="M492.6,131.3L495.1,126.3L493.1,125.8L490.6,130.8Z" fill="#8c7300" stroke="#8c7300"/>
<path d="M403.0,181.2L405.6,181.3L403.7,178.7L401.2,178.6Z" fill="#ec1300" stroke="#ec1300"/>
<path d="M422.3,190.6L424.8,189.9L422.9,188.2L420.5,188.9Z" fill="#fd0200" stroke="#fd0200"/>
<path d="M418.0,189.4L420.5,188.9L418.6,187.0L416.1,187.5Z" fill="#fb0400" stroke="#fb0400"/>
<path d="M390.6,169.1L393.1,169.6L391.2,166.3L388.7,165.9Z" fill="#d52a00" stroke="#d52a00"/>
<path d="M477.3,161.6L479.8,157.8L477.8,157.5L475.4,161.2Z" fill="#c53a00" stroke="#c53a00"/>
<path d="M479.8,157.8L482.2,153.9L480.3,153.6L477.8,157.5Z" fill="#be4100" stroke="#be4100"/>
<path d="M474.9,165.1L477.3,161.6L475.4,161.2L472.9,164.7Z" fill="#cc3300" stroke="#cc3300"/>
<path d="M426.7,191.4L429.1,190.6L427.3,189.1L424.8,189.9Z" fill="#fe0100" stroke="#fe0100"/>
<path d="M382.4,158.1L385.0,158.8L383.1,154.9L380.6,154.3Z" fill="#c03f00" stroke="#c03f00"/>
<path d="M482.2,153.9L484.7,149.8L482.7,149.5L480.3,153.6Z" fill="#b74800" stroke="#b74800"/>
<path d="M413.6,187.8L416.1,187.5L414.3,185.5L411.8,185.8Z" fill="#f80700" stroke="#f80700"/>
<path d="M458.3,182.2L460.7,179.7L458.8,179.1L456.3,181.6Z" fill="#ec1300" stroke="#ec1300"/>
<path d="M472.4,168.5L474.9,165.1L472.9,164.7L470.5,168.1Z" fill="#d22d00" stroke="#d22d00"/>
<path d="M484.7,149.8L487.2,145.6L485.2,145.2L482.7,149.5Z" fill="#af5000" stroke="#af5000"/>
<path d="M431.0,191.9L433.5,190.9L431.6,189.6L429.1,190.6Z" fill="#ff0000" stroke="#ff0000"/>
<path d="M495.1,126.3L497.6,121.1L495.6,120.6L493.1,125.8Z" fill="#827d00" stroke="#827d00"/>
<path d="M449.0,187.9L451.4,185.9L449.5,185.2L447.1,187.1Z" fill="#f70800" stroke="#f70800"/>
<path d="M442.2,190.4L444.6,188.8L442.7,187.9L440.3,189.4Z" fill="#fc0300" stroke="#fc0300"/>
<path d="M470.0,171.6L472.4,168.5L470.5,168.1L468.0,171.3Z" fill="#d82700" stroke="#d82700"/>
<path d="M409.3,185.9L411.8,185.8L409.9,183.6L407.4,183.7Z" fill="#f40b00" stroke="#f40b00"/>
<path d="M487.2,145.6L489.6,141.1L487.6,140.8L485.2,145.2Z" fill="#a65900" stroke="#a65900"/>
<path d="M384.3,161.7L386.8,162.4L385.0,158.8L382.4,158.1Z" fill="#c73800" stroke="#c73800"/>
<path d="M368.6,131.5L371.2,132.4L369.3,127.5L366.7,126.6Z" fill="#8e7100" stroke="#8e7100"/>
<path d="M366.7,126.6L369.3,127.5L367.4,122.4L364.8,121.5Z" fill="#857a00" stroke="#857a00"/>
<path d="M370.5,136.3L373.1,137.2L371.2,132.4L368.6,131.5Z" fill="#976800" stroke="#976800"/>
<path d="M398.7,178.4L401.2,178.6L399.3,175.9L396.8,175.6Z" fill="#e61900" stroke="#e61900"/>
<path d="M467.5,174.6L470.0,171.6L468.0,171.3L465.6,174.2Z" fill="#dd2200" stroke="#dd2200"/>
<path d="M392.4,172.3L395.0,172.7L393.1,169.6L390.6,169.1Z" fill="#da2500" stroke="#da2500"/>
<path d="M364.8,121.5L367.4,122.4L365.5,117.1L362.9,116.2Z" fill="#7b8400" stroke="#7b8400"/>
<path d="M372.4,140.8L374.9,141.7L373.1,137.2L370.5,136.3Z" fill="#9f6000" stroke="#9f6000"/>
<path d="M455.8,184.4L458.3,182.2L456.3,181.6L453.9,183.8Z" fill="#f00f00" stroke="#f00f00"/>
<path d="M435.4,192.0L437.8,190.8L435.9,189.7L433.5,190.9Z" fill="#fe0100" stroke="#fe0100"/>
<path d="M489.6,141.1L492.1,136.5L490.1,136.2L487.6,140.8Z" fill="#9d6200" stroke="#9d6200"/>
<path d="M362.9,116.2L365.5,117.1L363.6,111.7L361.0,110.7Z" fill="#718e00" stroke="#718e00"/>
<path d="M374.2,145.2L376.8,146.1L374.9,141.7L372.4,140.8Z" fill="#a75800" stroke="#a75800"/>
<path d="M404.9,183.6L407.4,183.7L405.6,181.3L403.0,181.2Z" fill="#ef1000" stroke="#ef1000"/>
<path d="M465.1,177.5L467.5,174.6L465.6,174.2L463.1,177.1Z" fill="#e21d00" stroke="#e21d00"/>
<path d="M386.1,165.2L388.7,165.9L386.8,162.4L384.3,161.7Z" fill="#cc3300" stroke="#cc3300"/>
<path d="M376.1,149.4L378.7,150.3L376.8,146.1L374.2,145.2Z" fill="#af5000" stroke="#af5000"/>
<path d="M492.1,136.5L494.6,131.6L492.6,131.3L490.1,136.2Z" fill="#946b00" stroke="#946b00"/>
<path d="M446.5,189.6L449.0,187.9L447.1,187.1L444.6,188.8Z" fill="#f90600" stroke="#f90600"/>
<path d="M419.8,191.1L422.3,190.6L420.5,188.9L418.0,189.4Z" fill="#fc0300" stroke="#fc0300"/>
<path d="M424.2,192.1L426.7,191.4L424.8,189.9L422.3,190.6Z" fill="#fe0100" stroke="#fe0100"/>
<path d="M439.7,191.8L442.2,190.4L440.3,189.4L437.8,190.8Z" fill="#fd0200" stroke="#fd0200"/>
<path d="M415.5,189.7L418.0,189.4L416.1,187.5L413.6,187.8Z" fill="#f90600" stroke="#f90600"/>
<path d="M453.4,186.5L455.8,184.4L453.9,183.8L451.4,185.9Z" fill="#f30c00" stroke="#f30c00"/>
<path d="M394.3,175.2L396.8,175.6L395.0,172.7L392.4,172.3Z" fill="#de2100" stroke="#de2100"/>
<path d="M462.6,180.1L465.1,177.5L463.1,177.1L460.7,179.7Z" fill="#e61900" stroke="#e61900"/>
<path d="M378.0,153.4L380.6,154.3L378.7,150.3L376.1,149.4Z" fill="#b64900" stroke="#b64900"/>
<path d="M428.6,192.7L431.0,191.9L429.1,190.6L426.7,191.4Z" fill="#ff0000" stroke="#ff0000"/>
<path d="M400.5,181.0L403.0,181.2L401.2,178.6L398.7,178.4Z" fill="#e91600" stroke="#e91600"/>
<path d="M411.1,187.9L413.6,187.8L411.8,185.8L409.3,185.9Z" fill="#f60900" stroke="#f60900"/>
<path d="M494.6,131.6L497.1,126.6L495.1,126.3L492.6,131.3Z" fill="#8a7500" stroke="#8a7500"/>
<path d="M388.0,168.5L390.6,169.1L388.7,165.9L386.1,165.2Z" fill="#d22d00" stroke="#d22d00"/>
<path d="M432.9,193.0L435.4,192.0L433.5,190.9L431.0,191.9Z" fill="#ff0000" stroke="#ff0000"/>
<path d="M479.3,161.7L481.8,158.0L479.8,157.8L477.3,161.6Z" fill="#c33c00" stroke="#c33c00"/>
<path d="M481.8,158.0L484.2,154.1L482.2,153.9L479.8,157.8Z" fill="#bc4300" stroke="#bc4300"/>
<path d="M379.8,157.2L382.4,158.1L380.6,154.3L378.0,153.4Z" fill="#bc4300" stroke="#bc4300"/>
<path d="M476.9,165.3L479.3,161.7L477.3,161.6L474.9,165.1Z" fill="#ca3500" stroke="#ca3500"/>
<path d="M460.2,182.6L462.6,180.1L460.7,179.7L458.3,182.2Z" fill="#ea1500" stroke="#ea1500"/>
<path d="M484.2,154.1L486.7,150.0L484.7,149.8L482.2,153.9Z" fill="#b44b00" stroke="#b44b00"/>
<path d="M406.8,185.8L409.3,185.9L407.4,183.7L404.9,183.6Z" fill="#f10e00" stroke="#f10e00"/>
<path d="M444.1,191.2L446.5,189.6L444.6,188.8L442.2,190.4Z" fill="#fb0400" stroke="#fb0400"/>
<path d="M474.4,168.6L476.9,165.3L474.9,165.1L472.4,168.5Z" fill="#d02f00" stroke="#d02f00"/>
<path d="M450.9,188.5L453.4,186.5L451.4,185.9L449.0,187.9Z" fill="#f50a00" stroke="#f50a00"/>
<path d="M486.7,150.0L489.2,145.7L487.2,145.6L484.7,149.8Z" fill="#ac5300" stroke="#ac5300"/>
<path d="M497.1,126.6L499.6,121.4L497.6,121.1L495.1,126.3Z" fill="#807f00" stroke="#807f00"/>
<path d="M471.9,171.8L474.4,168.6L472.4,168.5L470.0,171.6Z" fill="#d62900" stroke="#d62900"/>
<path d="M396.1,177.9L398.7,178.4L396.8,175.6L394.3,175.2Z" fill="#e21d00" stroke="#e21d00"/>
<path d="M437.3,193.0L439.7,191.8L437.8,190.8L435.4,192.0Z" fill="#fe0100" stroke="#fe0100"/>
<path d="M489.2,145.7L491.6,141.2L489.6,141.1L487.2,145.6Z" fill="#a45b00" stroke="#a45b00"/>
<path d="M381.7,160.9L384.3,161.7L382.4,158.1L379.8,157.2Z" fill="#c33c00" stroke="#c33c00"/>
<path d="M389.9,171.6L392.4,172.3L390.6,169.1L388.0,168.5Z" fill="#d62900" stroke="#d62900"/>
<path d="M366.0,130.4L368.6,131.5L366.7,126.6L364.1,125.5Z" fill="#897600" stroke="#897600"/>
<path d="M364.1,125.5L366.7,126.6L364.8,121.5L362.2,120.4Z" fill="#807f00" stroke="#807f00"/>
<path d="M367.9,135.2L370.5,136.3L368.6,131.5L366.0,130.4Z" fill="#926d00" stroke="#926d00"/>
<path d="M402.4,183.4L404.9,183.6L403.0,181.2L400.5,181.0Z" fill="#ec1300" stroke="#ec1300"/>
<path d="M457.7,184.8L460.2,182.6L458.3,182.2L455.8,184.4Z" fill="#ee1100" stroke="#ee1100"/>
<path d="M469.5,174.8L471.9,171.8L470.0,171.6L467.5,174.6Z" fill="#db2400" stroke="#db2400"/>
<path d="M362.2,120.4L364.8,121.5L362.9,116.2L360.3,115.1Z" fill="#768900" stroke="#768900"/>
<path d="M369.7,139.8L372.4,140.8L370.5,136.3L367.9,135.2Z" fill="#9b6400" stroke="#9b6400"/>
<path d="M421.7,192.6L424.2,192.1L422.3,190.6L419.8,191.1Z" fill="#fd0200" stroke="#fd0200"/>
<path d="M417.4,191.4L419.8,191.1L418.0,189.4L415.5,189.7Z" fill="#fb0400" stroke="#fb0400"/>
<path d="M491.6,141.2L494.1,136.6L492.1,136.5L489.6,141.1Z" fill="#9b6400" stroke="#9b6400"/>
<path d="M426.1,193.4L428.6,192.7L426.7,191.4L424.2,192.1Z" fill="#fe0100" stroke="#fe0100"/>
<path d="M360.3,115.1L362.9,116.2L361.0,110.7L358.3,109.6Z" fill="#6c9300" stroke="#6c9300"/>
<path d="M371.6,144.1L374.2,145.2L372.4,140.8L369.7,139.8Z" fill="#a35c00" stroke="#a35c00"/>
<path d="M413.0,189.8L415.5,189.7L413.6,187.8L411.1,187.9Z" fill="#f80700" stroke="#f80700"/>
<path d="M448.5,190.2L450.9,188.5L449.0,187.9L446.5,189.6Z" fill="#f80700" stroke="#f80700"/>
<path d="M467.0,177.7L469.5,174.8L467.5,174.6L465.1,177.5Z" fill="#e01f00" stroke="#e01f00"/>
<path d="M383.6,164.4L386.1,165.2L384.3,161.7L381.7,160.9Z" fill="#c83700" stroke="#c83700"/>
<path d="M441.6,192.6L444.1,191.2L442.2,190.4L439.7,191.8Z" fill="#fc0300" stroke="#fc0300"/>
<path d="M430.4,193.9L432.9,193.0L431.0,191.9L428.6,192.7Z" fill="#ff0000" stroke="#ff0000"/>
<path d="M494.1,136.6L496.6,131.7L494.6,131.6L492.1,136.5Z" fill="#926d00" stroke="#926d00"/>
<path d="M373.5,148.4L376.1,149.4L374.2,145.2L371.6,144.1Z" fill="#aa5500" stroke="#aa5500"/>
<path d="M408.6,187.9L411.1,187.9L409.3,185.9L406.8,185.8Z" fill="#f40b00" stroke="#f40b00"/>
<path d="M455.3,186.9L457.7,184.8L455.8,184.4L453.4,186.5Z" fill="#f10e00" stroke="#f10e00"/>
<path d="M391.7,174.6L394.3,175.2L392.4,172.3L389.9,171.6Z" fill="#db2400" stroke="#db2400"/>
<path d="M398.0,180.5L400.5,181.0L398.7,178.4L396.1,177.9Z" fill="#e61900" stroke="#e61900"/>
<path d="M464.6,180.3L467.0,177.7L465.1,177.5L462.6,180.1Z" fill="#e41b00" stroke="#e41b00"/>
<path d="M375.4,152.4L378.0,153.4L376.1,149.4L373.5,148.4Z" fill="#b14e00" stroke="#b14e00"/>
<path d="M434.8,194.0L437.3,193.0L435.4,192.0L432.9,193.0Z" fill="#fe0100" stroke="#fe0100"/>
<path d="M496.6,131.7L499.1,126.7L497.1,126.6L494.6,131.6Z" fill="#887700" stroke="#887700"/>
<path d="M385.4,167.7L388.0,168.5L386.1,165.2L383.6,164.4Z" fill="#ce3100" stroke="#ce3100"/>
<path d="M404.2,185.6L406.8,185.8L404.9,183.6L402.4,183.4Z" fill="#ef1000" stroke="#ef1000"/>
<path d="M446.0,191.8L448.5,190.2L446.5,189.6L444.1,191.2Z" fill="#f90600" stroke="#f90600"/>
<path d="M377.2,156.2L379.8,157.2L378.0,153.4L375.4,152.4Z" fill="#b84700" stroke="#b84700"/>
<path d="M481.3,161.7L483.8,158.0L481.8,158.0L479.3,161.7Z" fill="#c03f00" stroke="#c03f00"/>
<path d="M483.8,158.0L486.2,154.1L484.2,154.1L481.8,158.0Z" fill="#b94600" stroke="#b94600"/>
<path d="M462.1,182.8L464.6,180.3L462.6,180.1L460.2,182.6Z" fill="#e81700" stroke="#e81700"/>
<path d="M478.8,165.3L481.3,161.7L479.3,161.7L476.9,165.3Z" fill="#c73800" stroke="#c73800"/>
<path d="M452.8,188.9L455.3,186.9L453.4,186.5L450.9,188.5Z" fill="#f40b00" stroke="#f40b00"/>
<path d="M486.2,154.1L488.7,150.0L486.7,150.0L484.2,154.1Z" fill="#b24d00" stroke="#b24d00"/>
<path d="M439.2,193.8L441.6,192.6L439.7,191.8L437.3,193.0Z" fill="#fd0200" stroke="#fd0200"/>
<path d="M419.2,192.9L421.7,192.6L419.8,191.1L417.4,191.4Z" fill="#fc0300" stroke="#fc0300"/>
<path d="M476.4,168.7L478.8,165.3L476.9,165.3L474.4,168.6Z" fill="#cd3200" stroke="#cd3200"/>
<path d="M499.1,126.7L501.6,121.5L499.6,121.4L497.1,126.6Z" fill="#7e8100" stroke="#7e8100"/>
<path d="M393.6,177.3L396.1,177.9L394.3,175.2L391.7,174.6Z" fill="#df2000" stroke="#df2000"/>
<path d="M423.6,193.9L426.1,193.4L424.2,192.1L421.7,192.6Z" fill="#fd0200" stroke="#fd0200"/>
<path d="M488.7,150.0L491.2,145.7L489.2,145.7L486.7,150.0Z" fill="#aa5500" stroke="#aa5500"/>
<path d="M414.8,191.5L417.4,191.4L415.5,189.7L413.0,189.8Z" fill="#f90600" stroke="#f90600"/>
<path d="M399.8,182.9L402.4,183.4L400.5,181.0L398.0,180.5Z" fill="#e91600" stroke="#e91600"/>
<path d="M473.9,171.9L476.4,168.7L474.4,168.6L471.9,171.8Z" fill="#d32c00" stroke="#d32c00"/>
<path d="M428.0,194.6L430.4,193.9L428.6,192.7L426.1,193.4Z" fill="#fe0100" stroke="#fe0100"/>
<path d="M387.3,170.8L389.9,171.6L388.0,168.5L385.4,167.7Z" fill="#d32c00" stroke="#d32c00"/>
<path d="M379.1,159.9L381.7,160.9L379.8,157.2L377.2,156.2Z" fill="#be4100" stroke="#be4100"/>
<path d="M491.2,145.7L493.7,141.2L491.6,141.2L489.2,145.7Z" fill="#a15e00" stroke="#a15e00"/>
<path d="M410.5,189.7L413.0,189.8L411.1,187.9L408.6,187.9Z" fill="#f50a00" stroke="#f50a00"/>
<path d="M459.7,185.1L462.1,182.8L460.2,182.6L457.7,184.8Z" fill="#ec1300" stroke="#ec1300"/>
<path d="M363.3,129.2L366.0,130.4L364.1,125.5L361.4,124.2Z" fill="#857a00" stroke="#857a00"/>
<path d="M361.4,124.2L364.1,125.5L362.2,120.4L359.5,119.1Z" fill="#7b8400" stroke="#7b8400"/>
<path d="M365.2,133.9L367.9,135.2L366.0,130.4L363.3,129.2Z" fill="#8d7200" stroke="#8d7200"/>
<path d="M471.5,174.9L473.9,171.9L471.9,171.8L469.5,174.8Z" fill="#d82700" stroke="#d82700"/>
<path d="M359.5,119.1L362.2,120.4L360.3,115.1L357.6,113.8Z" fill="#728d00" stroke="#728d00"/>
<path d="M367.1,138.5L369.7,139.8L367.9,135.2L365.2,133.9Z" fill="#966900" stroke="#966900"/>
<path d="M432.3,194.9L434.8,194.0L432.9,193.0L430.4,193.9Z" fill="#fe0100" stroke="#fe0100"/>
<path d="M493.7,141.2L496.2,136.5L494.1,136.6L491.6,141.2Z" fill="#996600" stroke="#996600"/>
<path d="M450.4,190.6L452.8,188.9L450.9,188.5L448.5,190.2Z" fill="#f60900" stroke="#f60900"/>
<path d="M443.5,193.2L446.0,191.8L444.1,191.2L441.6,192.6Z" fill="#fb0400" stroke="#fb0400"/>
<path d="M406.1,187.6L408.6,187.9L406.8,185.8L404.2,185.6Z" fill="#f10e00" stroke="#f10e00"/>
<path d="M357.6,113.8L360.3,115.1L358.3,109.6L355.7,108.2Z" fill="#679800" stroke="#679800"/>
<path d="M369.0,142.9L371.6,144.1L369.7,139.8L367.1,138.5Z" fill="#9e6100" stroke="#9e6100"/>
<path d="M381.0,163.4L383.6,164.4L381.7,160.9L379.1,159.9Z" fill="#c43b00" stroke="#c43b00"/>
<path d="M469.0,177.7L471.5,174.9L469.5,174.8L467.0,177.7Z" fill="#dd2200" stroke="#dd2200"/>
<path d="M395.4,179.9L398.0,180.5L396.1,177.9L393.6,177.3Z" fill="#e21d00" stroke="#e21d00"/>
<path d="M496.2,136.5L498.7,131.7L496.6,131.7L494.1,136.6Z" fill="#8f7000" stroke="#8f7000"/>
<path d="M389.1,173.7L391.7,174.6L389.9,171.6L387.3,170.8Z" fill="#d72800" stroke="#d72800"/>
<path d="M370.9,147.1L373.5,148.4L371.6,144.1L369.0,142.9Z" fill="#a55a00" stroke="#a55a00"/>
<path d="M457.2,187.2L459.7,185.1L457.7,184.8L455.3,186.9Z" fill="#ef1000" stroke="#ef1000"/>
<path d="M436.7,194.8L439.2,193.8L437.3,193.0L434.8,194.0Z" fill="#fd0200" stroke="#fd0200"/>
<path d="M401.7,185.1L404.2,185.6L402.4,183.4L399.8,182.9Z" fill="#ec1300" stroke="#ec1300"/>
<path d="M466.6,180.3L469.0,177.7L467.0,177.7L464.6,180.3Z" fill="#e21d00" stroke="#e21d00"/>
<path d="M372.8,151.1L375.4,152.4L373.5,148.4L370.9,147.1Z" fill="#ac5300" stroke="#ac5300"/>
<path d="M421.1,194.2L423.6,193.9L421.7,192.6L419.2,192.9Z" fill="#fc0300" stroke="#fc0300"/>
<path d="M498.7,131.7L501.2,126.6L499.1,126.7L496.6,131.7Z" fill="#857a00" stroke="#857a00"/>
<path d="M382.8,166.7L385.4,167.7L383.6,164.4L381.0,163.4Z" fill="#c93600" stroke="#c93600"/>
<path d="M416.7,193.0L419.2,192.9L417.4,191.4L414.8,191.5Z" fill="#fa0500" stroke="#fa0500"/>
<path d="M425.5,195.0L428.0,194.6L426.1,193.4L423.6,193.9Z" fill="#fd0200" stroke="#fd0200"/>
<path d="M447.9,192.2L450.4,190.6L448.5,190.2L446.0,191.8Z" fill="#f80700" stroke="#f80700"/>
<path d="M412.3,191.4L414.8,191.5L413.0,189.8L410.5,189.7Z" fill="#f70800" stroke="#f70800"/>
<path d="M441.1,194.4L443.5,193.2L441.6,192.6L439.2,193.8Z" fill="#fc0300" stroke="#fc0300"/>
<path d="M374.6,155.0L377.2,156.2L375.4,152.4L372.8,151.1Z" fill="#b34c00" stroke="#b34c00"/>
<path d="M454.8,189.1L457.2,187.2L455.3,186.9L452.8,188.9Z" fill="#f10e00" stroke="#f10e00"/>
<path d="M464.1,182.8L466.6,180.3L464.6,180.3L462.1,182.8Z" fill="#e61900" stroke="#e61900"/>
<path d="M429.8,195.5L432.3,194.9L430.4,193.9L428.0,194.6Z" fill="#fe0100" stroke="#fe0100"/>
<path d="M483.3,161.5L485.8,157.8L483.8,158.0L481.3,161.7Z" fill="#bd4200" stroke="#bd4200"/>
<path d="M485.8,157.8L488.3,153.9L486.2,154.1L483.8,158.0Z" fill="#b64900" stroke="#b64900"/>
<path d="M391.0,176.5L393.6,177.3L391.7,174.6L389.1,173.7Z" fill="#db2400" stroke="#db2400"/>
<path d="M480.8,165.1L483.3,161.5L481.3,161.7L478.8,165.3Z" fill="#c43b00" stroke="#c43b00"/>
<path d="M488.3,153.9L490.7,149.7L488.7,150.0L486.2,154.1Z" fill="#af5000" stroke="#af5000"/>
<path d="M407.9,189.5L410.5,189.7L408.6,187.9L406.1,187.6Z" fill="#f30c00" stroke="#f30c00"/>
<path d="M397.3,182.3L399.8,182.9L398.0,180.5L395.4,179.9Z" fill="#e61900" stroke="#e61900"/>
<path d="M501.2,126.6L503.7,121.4L501.6,121.5L499.1,126.7Z" fill="#7b8400" stroke="#7b8400"/>
<path d="M478.4,168.5L480.8,165.1L478.8,165.3L476.4,168.7Z" fill="#ca3500" stroke="#ca3500"/>
<path d="M490.7,149.7L493.2,145.4L491.2,145.7L488.7,150.0Z" fill="#a75800" stroke="#a75800"/>
<path d="M384.7,169.8L387.3,170.8L385.4,167.7L382.8,166.7Z" fill="#ce3100" stroke="#ce3100"/>
<path d="M475.9,171.7L478.4,168.5L476.4,168.7L473.9,171.9Z" fill="#d02f00" stroke="#d02f00"/>
<path d="M376.5,158.7L379.1,159.9L377.2,156.2L374.6,155.0Z" fill="#b94600" stroke="#b94600"/>
<path d="M434.2,195.7L436.7,194.8L434.8,194.0L432.3,194.9Z" fill="#fd0200" stroke="#fd0200"/>
<path d="M493.2,145.4L495.7,141.0L493.7,141.2L491.2,145.7Z" fill="#9e6100" stroke="#9e6100"/>
<path d="M461.6,185.1L464.1,182.8L462.1,182.8L459.7,185.1Z" fill="#e91600" stroke="#e91600"/>
<path d="M403.5,187.2L406.1,187.6L404.2,185.6L401.7,185.1Z" fill="#ee1100" stroke="#ee1100"/>
<path d="M360.7,127.7L363.3,129.2L361.4,124.2L358.8,122.7Z" fill="#7f8000" stroke="#7f8000"/>
<path d="M445.5,193.6L447.9,192.2L446.0,191.8L443.5,193.2Z" fill="#f90600" stroke="#f90600"/>
<path d="M473.5,174.7L475.9,171.7L473.9,171.9L471.5,174.9Z" fill="#d52a00" stroke="#d52a00"/>
<path d="M358.8,122.7L361.4,124.2L359.5,119.1L356.9,117.6Z" fill="#768900" stroke="#768900"/>
<path d="M362.6,132.5L365.2,133.9L363.3,129.2L360.7,127.7Z" fill="#887700" stroke="#887700"/>
<path d="M452.3,190.9L454.8,189.1L452.8,188.9L450.4,190.6Z" fill="#f40b00" stroke="#f40b00"/>
<path d="M495.7,141.0L498.2,136.3L496.2,136.5L493.7,141.2Z" fill="#956a00" stroke="#956a00"/>
<path d="M356.9,117.6L359.5,119.1L357.6,113.8L354.9,112.3Z" fill="#6c9300" stroke="#6c9300"/>
<path d="M364.5,137.1L367.1,138.5L365.2,133.9L362.6,132.5Z" fill="#916e00" stroke="#916e00"/>
<path d="M392.9,179.1L395.4,179.9L393.6,177.3L391.0,176.5Z" fill="#de2100" stroke="#de2100"/>
<path d="M378.4,162.1L381.0,163.4L379.1,159.9L376.5,158.7Z" fill="#bf4000" stroke="#bf4000"/>
<path d="M438.6,195.4L441.1,194.4L439.2,193.8L436.7,194.8Z" fill="#fc0300" stroke="#fc0300"/>
<path d="M354.9,112.3L357.6,113.8L355.7,108.2L353.0,106.7Z" fill="#629d00" stroke="#629d00"/>
<path d="M366.4,141.5L369.0,142.9L367.1,138.5L364.5,137.1Z" fill="#996600" stroke="#996600"/>
<path d="M471.0,177.5L473.5,174.7L471.5,174.9L469.0,177.7Z" fill="#da2500" stroke="#da2500"/>
<path d="M418.6,194.3L421.1,194.2L419.2,192.9L416.7,193.0Z" fill="#fa0500" stroke="#fa0500"/>
<path d="M386.6,172.7L389.1,173.7L387.3,170.8L384.7,169.8Z" fill="#d32c00" stroke="#d32c00"/>
<path d="M423.0,195.4L425.5,195.0L423.6,193.9L421.1,194.2Z" fill="#fc0300" stroke="#fc0300"/>
<path d="M414.2,192.9L416.7,193.0L414.8,191.5L412.3,191.4Z" fill="#f80700" stroke="#f80700"/>
<path d="M459.2,187.2L461.6,185.1L459.7,185.1L457.2,187.2Z" fill="#ec1300" stroke="#ec1300"/>
<path d="M498.2,136.3L500.7,131.4L498.7,131.7L496.2,136.5Z" fill="#8c7300" stroke="#8c7300"/>
<path d="M399.1,184.5L401.7,185.1L399.8,182.9L397.3,182.3Z" fill="#e81700" stroke="#e81700"/>
<path d="M368.2,145.7L370.9,147.1L369.0,142.9L366.4,141.5Z" fill="#a05f00" stroke="#a05f00"/>
<path d="M427.4,196.0L429.8,195.5L428.0,194.6L425.5,195.0Z" fill="#fd0200" stroke="#fd0200"/>
<path d="M409.8,191.2L412.3,191.4L410.5,189.7L407.9,189.5Z" fill="#f40b00" stroke="#f40b00"/>
<path d="M468.5,180.2L471.0,177.5L469.0,177.7L466.6,180.3Z" fill="#de2100" stroke="#de2100"/>
<path d="M370.1,149.7L372.8,151.1L370.9,147.1L368.2,145.7Z" fill="#a75800" stroke="#a75800"/>
<path d="M380.2,165.5L382.8,166.7L381.0,163.4L378.4,162.1Z" fill="#c43b00" stroke="#c43b00"/>
<path d="M449.9,192.4L452.3,190.9L450.4,190.6L447.9,192.2Z" fill="#f50a00" stroke="#f50a00"/>
<path d="M500.7,131.4L503.2,126.3L501.2,126.6L498.7,131.7Z" fill="#827d00" stroke="#827d00"/>
<path d="M431.7,196.3L434.2,195.7L432.3,194.9L429.8,195.5Z" fill="#fd0200" stroke="#fd0200"/>
<path d="M443.0,194.8L445.5,193.6L443.5,193.2L441.1,194.4Z" fill="#fa0500" stroke="#fa0500"/>
<path d="M405.4,189.1L407.9,189.5L406.1,187.6L403.5,187.2Z" fill="#f00f00" stroke="#f00f00"/>
<path d="M456.7,189.2L459.2,187.2L457.2,187.2L454.8,189.1Z" fill="#ef1000" stroke="#ef1000"/>
<path d="M388.4,175.5L391.0,176.5L389.1,173.7L386.6,172.7Z" fill="#d62900" stroke="#d62900"/>
<path d="M394.7,181.5L397.3,182.3L395.4,179.9L392.9,179.1Z" fill="#e21d00" stroke="#e21d00"/>
<path d="M466.1,182.7L468.5,180.2L466.6,180.3L464.1,182.8Z" fill="#e21d00" stroke="#e21d00"/>
<path d="M372.0,153.6L374.6,155.0L372.8,151.1L370.1,149.7Z" fill="#ae5100" stroke="#ae5100"/>
<path d="M485.3,161.2L487.8,157.4L485.8,157.8L483.3,161.5Z" fill="#ba4500" stroke="#ba4500"/>
<path d="M487.8,157.4L490.3,153.5L488.3,153.9L485.8,157.8Z" fill="#b34c00" stroke="#b34c00"/>
<path d="M436.1,196.3L438.6,195.4L436.7,194.8L434.2,195.7Z" fill="#fc0300" stroke="#fc0300"/>
<path d="M482.9,164.7L485.3,161.2L483.3,161.5L480.8,165.1Z" fill="#c03f00" stroke="#c03f00"/>
<path d="M503.2,126.3L505.7,121.1L503.7,121.4L501.2,126.6Z" fill="#788700" stroke="#788700"/>
<path d="M490.3,153.5L492.8,149.3L490.7,149.7L488.3,153.9Z" fill="#ab5400" stroke="#ab5400"/>
<path d="M382.1,168.6L384.7,169.8L382.8,166.7L380.2,165.5Z" fill="#c93600" stroke="#c93600"/>
<path d="M480.4,168.1L482.9,164.7L480.8,165.1L478.4,168.5Z" fill="#c73800" stroke="#c73800"/>
<path d="M401.0,186.6L403.5,187.2L401.7,185.1L399.1,184.5Z" fill="#ea1500" stroke="#ea1500"/>
<path d="M492.8,149.3L495.3,145.0L493.2,145.4L490.7,149.7Z" fill="#a35c00" stroke="#a35c00"/>
<path d="M373.9,157.2L376.5,158.7L374.6,155.0L372.0,153.6Z" fill="#b44b00" stroke="#b44b00"/>
<path d="M477.9,171.3L480.4,168.1L478.4,168.5L475.9,171.7Z" fill="#cc3300" stroke="#cc3300"/>
<path d="M463.6,185.0L466.1,182.7L464.1,182.8L461.6,185.1Z" fill="#e61900" stroke="#e61900"/>
<path d="M447.4,193.8L449.9,192.4L447.9,192.2L445.5,193.6Z" fill="#f70800" stroke="#f70800"/>
<path d="M420.5,195.5L423.0,195.4L421.1,194.2L418.6,194.3Z" fill="#fa0500" stroke="#fa0500"/>
<path d="M495.3,145.0L497.8,140.5L495.7,141.0L493.2,145.4Z" fill="#9b6400" stroke="#9b6400"/>
<path d="M416.1,194.3L418.6,194.3L416.7,193.0L414.2,192.9Z" fill="#f80700" stroke="#f80700"/>
<path d="M454.3,190.9L456.7,189.2L454.8,189.1L452.3,190.9Z" fill="#f10e00" stroke="#f10e00"/>
<path d="M424.9,196.3L427.4,196.0L425.5,195.0L423.0,195.4Z" fill="#fc0300" stroke="#fc0300"/>
<path d="M411.7,192.7L414.2,192.9L412.3,191.4L409.8,191.2Z" fill="#f50a00" stroke="#f50a00"/>
<path d="M358.0,126.0L360.7,127.7L358.8,122.7L356.1,121.1Z" fill="#7a8500" stroke="#7a8500"/>
<path d="M475.4,174.4L477.9,171.3L475.9,171.7L473.5,174.7Z" fill="#d22d00" stroke="#d22d00"/>
<path d="M440.5,195.8L443.0,194.8L441.1,194.4L438.6,195.4Z" fill="#fa0500" stroke="#fa0500"/>
<path d="M356.1,121.1L358.8,122.7L356.9,117.6L354.2,115.9Z" fill="#708f00" stroke="#708f00"/>
<path d="M359.9,130.8L362.6,132.5L360.7,127.7L358.0,126.0Z" fill="#827d00" stroke="#827d00"/>
<path d="M390.3,178.1L392.9,179.1L391.0,176.5L388.4,175.5Z" fill="#da2500" stroke="#da2500"/>
<path d="M497.8,140.5L500.3,135.8L498.2,136.3L495.7,141.0Z" fill="#926d00" stroke="#926d00"/>
<path d="M354.2,115.9L356.9,117.6L354.9,112.3L352.3,110.5Z" fill="#669900" stroke="#669900"/>
<path d="M361.8,135.4L364.5,137.1L362.6,132.5L359.9,130.8Z" fill="#8b7400" stroke="#8b7400"/>
<path d="M429.2,196.8L431.7,196.3L429.8,195.5L427.4,196.0Z" fill="#fc0300" stroke="#fc0300"/>
<path d="M375.7,160.7L378.4,162.1L376.5,158.7L373.9,157.2Z" fill="#ba4500" stroke="#ba4500"/>
<path d="M396.6,183.7L399.1,184.5L397.3,182.3L394.7,181.5Z" fill="#e41b00" stroke="#e41b00"/>
<path d="M384.0,171.5L386.6,172.7L384.7,169.8L382.1,168.6Z" fill="#ce3100" stroke="#ce3100"/>
<path d="M407.3,190.8L409.8,191.2L407.9,189.5L405.4,189.1Z" fill="#f10e00" stroke="#f10e00"/>
<path d="M352.3,110.5L354.9,112.3L353.0,106.7L350.3,105.0Z" fill="#5ca300" stroke="#5ca300"/>
<path d="M363.7,139.8L366.4,141.5L364.5,137.1L361.8,135.4Z" fill="#936c00" stroke="#936c00"/>
<path d="M473.0,177.2L475.4,174.4L473.5,174.7L471.0,177.5Z" fill="#d62900" stroke="#d62900"/>
<path d="M461.1,187.1L463.6,185.0L461.6,185.1L459.2,187.2Z" fill="#e91600" stroke="#e91600"/>
<path d="M500.3,135.8L502.8,131.0L500.7,131.4L498.2,136.3Z" fill="#897600" stroke="#897600"/>
<path d="M365.6,144.1L368.2,145.7L366.4,141.5L363.7,139.8Z" fill="#9a6500" stroke="#9a6500"/>
<path d="M433.6,196.9L436.1,196.3L434.2,195.7L431.7,196.3Z" fill="#fc0300" stroke="#fc0300"/>
<path d="M402.9,188.5L405.4,189.1L403.5,187.2L401.0,186.6Z" fill="#ec1300" stroke="#ec1300"/>
<path d="M451.8,192.5L454.3,190.9L452.3,190.9L449.9,192.4Z" fill="#f30c00" stroke="#f30c00"/>
<path d="M470.5,179.9L473.0,177.2L471.0,177.5L468.5,180.2Z" fill="#db2400" stroke="#db2400"/>
<path d="M444.9,195.1L447.4,193.8L445.5,193.6L443.0,194.8Z" fill="#f80700" stroke="#f80700"/>
<path d="M377.6,164.1L380.2,165.5L378.4,162.1L375.7,160.7Z" fill="#bf4000" stroke="#bf4000"/>
<path d="M367.5,148.1L370.1,149.7L368.2,145.7L365.6,144.1Z" fill="#a15e00" stroke="#a15e00"/>
<path d="M502.8,131.0L505.3,125.9L503.2,126.3L500.7,131.4Z" fill="#7f8000" stroke="#7f8000"/>
<path d="M392.1,180.5L394.7,181.5L392.9,179.1L390.3,178.1Z" fill="#dd2200" stroke="#dd2200"/>
<path d="M385.8,174.3L388.4,175.5L386.6,172.7L384.0,171.5Z" fill="#d22d00" stroke="#d22d00"/>
<path d="M458.7,189.0L461.1,187.1L459.2,187.2L456.7,189.2Z" fill="#ec1300" stroke="#ec1300"/>
<path d="M438.0,196.7L440.5,195.8L438.6,195.4L436.1,196.3Z" fill="#fa0500" stroke="#fa0500"/>
<path d="M468.1,182.4L470.5,179.9L468.5,180.2L466.1,182.7Z" fill="#df2000" stroke="#df2000"/>
<path d="M369.4,152.0L372.0,153.6L370.1,149.7L367.5,148.1Z" fill="#a85700" stroke="#a85700"/>
<path d="M417.9,195.4L420.5,195.5L418.6,194.3L416.1,194.3Z" fill="#f80700" stroke="#f80700"/>
<path d="M422.3,196.5L424.9,196.3L423.0,195.4L420.5,195.5Z" fill="#fa0500" stroke="#fa0500"/>
<path d="M398.4,185.8L401.0,186.6L399.1,184.5L396.6,183.7Z" fill="#e61900" stroke="#e61900"/>
<path d="M413.5,194.0L416.1,194.3L414.2,192.9L411.7,192.7Z" fill="#f50a00" stroke="#f50a00"/>
<path d="M505.3,125.9L507.8,120.6L505.7,121.1L503.2,126.3Z" fill="#758a00" stroke="#758a00"/>
<path d="M487.4,160.6L489.8,156.8L487.8,157.4L485.3,161.2Z" fill="#b64900" stroke="#b64900"/>
<path d="M489.8,156.8L492.3,152.9L490.3,153.5L487.8,157.4Z" fill="#af5000" stroke="#af5000"/>
<path d="M484.9,164.2L487.4,160.6L485.3,161.2L482.9,164.7Z" fill="#bc4300" stroke="#bc4300"/>
<path d="M379.5,167.2L382.1,168.6L380.2,165.5L377.6,164.1Z" fill="#c43b00" stroke="#c43b00"/>
<path d="M426.7,197.1L429.2,196.8L427.4,196.0L424.9,196.3Z" fill="#fb0400" stroke="#fb0400"/>
<path d="M492.3,152.9L494.8,148.8L492.8,149.3L490.3,153.5Z" fill="#a75800" stroke="#a75800"/>
<path d="M409.1,192.3L411.7,192.7L409.8,191.2L407.3,190.8Z" fill="#f20d00" stroke="#f20d00"/>
<path d="M482.4,167.6L484.9,164.2L482.9,164.7L480.4,168.1Z" fill="#c33c00" stroke="#c33c00"/>
<path d="M449.3,193.9L451.8,192.5L449.9,192.4L447.4,193.8Z" fill="#f40b00" stroke="#f40b00"/>
<path d="M494.8,148.8L497.3,144.4L495.3,145.0L492.8,149.3Z" fill="#9f6000" stroke="#9f6000"/>
<path d="M371.2,155.6L373.9,157.2L372.0,153.6L369.4,152.0Z" fill="#ae5100" stroke="#ae5100"/>
<path d="M465.6,184.7L468.1,182.4L466.1,182.7L463.6,185.0Z" fill="#e21d00" stroke="#e21d00"/>
<path d="M442.4,196.1L444.9,195.1L443.0,194.8L440.5,195.8Z" fill="#f80700" stroke="#f80700"/>
<path d="M479.9,170.8L482.4,167.6L480.4,168.1L477.9,171.3Z" fill="#c83700" stroke="#c83700"/>
<path d="M431.1,197.4L433.6,196.9L431.7,196.3L429.2,196.8Z" fill="#fb0400" stroke="#fb0400"/>
<path d="M456.2,190.8L458.7,189.0L456.7,189.2L454.3,190.9Z" fill="#ee1100" stroke="#ee1100"/>
<path d="M497.3,144.4L499.8,139.9L497.8,140.5L495.3,145.0Z" fill="#976800" stroke="#976800"/>
<path d="M387.7,176.9L390.3,178.1L388.4,175.5L385.8,174.3Z" fill="#d52a00" stroke="#d52a00"/>
<path d="M404.7,190.2L407.3,190.8L405.4,189.1L402.9,188.5Z" fill="#ee1100" stroke="#ee1100"/>
<path d="M394.0,182.7L396.6,183.7L394.7,181.5L392.1,180.5Z" fill="#e01f00" stroke="#e01f00"/>
<path d="M477.5,173.8L479.9,170.8L477.9,171.3L475.4,174.4Z" fill="#ce3100" stroke="#ce3100"/>
<path d="M355.3,124.2L358.0,126.0L356.1,121.1L353.4,119.2Z" fill="#738c00" stroke="#738c00"/>
<path d="M353.4,119.2L356.1,121.1L354.2,115.9L351.5,114.0Z" fill="#6a9500" stroke="#6a9500"/>
<path d="M357.2,129.0L359.9,130.8L358.0,126.0L355.3,124.2Z" fill="#7c8300" stroke="#7c8300"/>
<path d="M499.8,139.9L502.3,135.2L500.3,135.8L497.8,140.5Z" fill="#8e7100" stroke="#8e7100"/>
<path d="M381.3,170.2L384.0,171.5L382.1,168.6L379.5,167.2Z" fill="#c83700" stroke="#c83700"/>
<path d="M351.5,114.0L354.2,115.9L352.3,110.5L349.5,108.6Z" fill="#609f00" stroke="#609f00"/>
<path d="M359.1,133.6L361.8,135.4L359.9,130.8L357.2,129.0Z" fill="#857a00" stroke="#857a00"/>
<path d="M373.1,159.2L375.7,160.7L373.9,157.2L371.2,155.6Z" fill="#b44b00" stroke="#b44b00"/>
<path d="M435.5,197.4L438.0,196.7L436.1,196.3L433.6,196.9Z" fill="#fa0500" stroke="#fa0500"/>
<path d="M463.1,186.8L465.6,184.7L463.6,185.0L461.1,187.1Z" fill="#e61900" stroke="#e61900"/>
<path d="M349.5,108.6L352.3,110.5L350.3,105.0L347.6,103.1Z" fill="#56a900" stroke="#56a900"/>
<path d="M361.0,138.0L363.7,139.8L361.8,135.4L359.1,133.6Z" fill="#8d7200" stroke="#8d7200"/>
<path d="M475.0,176.7L477.5,173.8L475.4,174.4L473.0,177.2Z" fill="#d32c00" stroke="#d32c00"/>
<path d="M400.3,187.7L402.9,188.5L401.0,186.6L398.4,185.8Z" fill="#e81700" stroke="#e81700"/>
<path d="M502.3,135.2L504.8,130.3L502.8,131.0L500.3,135.8Z" fill="#857a00" stroke="#857a00"/>
<path d="M446.8,195.1L449.3,193.9L447.4,193.8L444.9,195.1Z" fill="#f50a00" stroke="#f50a00"/>
<path d="M362.9,142.2L365.6,144.1L363.7,139.8L361.0,138.0Z" fill="#946b00" stroke="#946b00"/>
<path d="M453.7,192.4L456.2,190.8L454.3,190.9L451.8,192.5Z" fill="#f00f00" stroke="#f00f00"/>
<path d="M419.8,196.4L422.3,196.5L420.5,195.5L417.9,195.4Z" fill="#f80700" stroke="#f80700"/>
<path d="M415.4,195.2L417.9,195.4L416.1,194.3L413.5,194.0Z" fill="#f50a00" stroke="#f50a00"/>
<path d="M472.5,179.4L475.0,176.7L473.0,177.2L470.5,179.9Z" fill="#d72800" stroke="#d72800"/>
<path d="M375.0,162.5L377.6,164.1L375.7,160.7L373.1,159.2Z" fill="#b94600" stroke="#b94600"/>
<path d="M424.2,197.3L426.7,197.1L424.9,196.3L422.3,196.5Z" fill="#f90600" stroke="#f90600"/>
<path d="M389.5,179.3L392.1,180.5L390.3,178.1L387.7,176.9Z" fill="#d82700" stroke="#d82700"/>
<path d="M440.0,197.0L442.4,196.1L440.5,195.8L438.0,196.7Z" fill="#f80700" stroke="#f80700"/>
<path d="M411.0,193.6L413.5,194.0L411.7,192.7L409.1,192.3Z" fill="#f20d00" stroke="#f20d00"/>
<path d="M364.8,146.3L367.5,148.1L365.6,144.1L362.9,142.2Z" fill="#9b6400" stroke="#9b6400"/>
<path d="M504.8,130.3L507.4,125.2L505.3,125.9L502.8,131.0Z" fill="#7b8400" stroke="#7b8400"/>
<path d="M383.2,172.9L385.8,174.3L384.0,171.5L381.3,170.2Z" fill="#cc3300" stroke="#cc3300"/>
<path d="M460.7,188.7L463.1,186.8L461.1,187.1L458.7,189.0Z" fill="#e81700" stroke="#e81700"/>
<path d="M395.9,184.8L398.4,185.8L396.6,183.7L394.0,182.7Z" fill="#e21d00" stroke="#e21d00"/>
<path d="M428.6,197.8L431.1,197.4L429.2,196.8L426.7,197.1Z" fill="#f90600" stroke="#f90600"/>
<path d="M406.6,191.7L409.1,192.3L407.3,190.8L404.7,190.2Z" fill="#ee1100" stroke="#ee1100"/>
<path d="M470.0,181.9L472.5,179.4L470.5,179.9L468.1,182.4Z" fill="#db2400" stroke="#db2400"/>
<path d="M366.7,150.2L369.4,152.0L367.5,148.1L364.8,146.3Z" fill="#a25d00" stroke="#a25d00"/>
<path d="M507.4,125.2L509.9,120.0L507.8,120.6L505.3,125.9Z" fill="#718e00" stroke="#718e00"/>
<path d="M376.8,165.6L379.5,167.2L377.6,164.1L375.0,162.5Z" fill="#be4100" stroke="#be4100"/>
<path d="M433.0,197.9L435.5,197.4L433.6,196.9L431.1,197.4Z" fill="#f90600" stroke="#f90600"/>
<path d="M489.4,159.9L491.9,156.1L489.8,156.8L487.4,160.6Z" fill="#b14e00" stroke="#b14e00"/>
<path d="M491.9,156.1L494.4,152.1L492.3,152.9L489.8,156.8Z" fill="#aa5500" stroke="#aa5500"/>
<path d="M451.3,193.8L453.7,192.4L451.8,192.5L449.3,193.9Z" fill="#f10e00" stroke="#f10e00"/>
<path d="M486.9,163.5L489.4,159.9L487.4,160.6L484.9,164.2Z" fill="#b84700" stroke="#b84700"/>
<path d="M444.4,196.2L446.8,195.1L444.9,195.1L442.4,196.1Z" fill="#f50a00" stroke="#f50a00"/>
<path d="M494.4,152.1L496.9,148.0L494.8,148.8L492.3,152.9Z" fill="#a35c00" stroke="#a35c00"/>
<path d="M402.2,189.4L404.7,190.2L402.9,188.5L400.3,187.7Z" fill="#ea1500" stroke="#ea1500"/>
<path d="M484.4,166.9L486.9,163.5L484.9,164.2L482.4,167.6Z" fill="#be4100" stroke="#be4100"/>
<path d="M496.9,148.0L499.4,143.6L497.3,144.4L494.8,148.8Z" fill="#9b6400" stroke="#9b6400"/>
<path d="M368.6,153.9L371.2,155.6L369.4,152.0L366.7,150.2Z" fill="#a85700" stroke="#a85700"/>
<path d="M458.2,190.5L460.7,188.7L458.7,189.0L456.2,190.8Z" fill="#ea1500" stroke="#ea1500"/>
<path d="M467.6,184.2L470.0,181.9L468.1,182.4L465.6,184.7Z" fill="#de2100" stroke="#de2100"/>
<path d="M385.1,175.5L387.7,176.9L385.8,174.3L383.2,172.9Z" fill="#d02f00" stroke="#d02f00"/>
<path d="M391.4,181.6L394.0,182.7L392.1,180.5L389.5,179.3Z" fill="#db2400" stroke="#db2400"/>
<path d="M482.0,170.1L484.4,166.9L482.4,167.6L479.9,170.8Z" fill="#c43b00" stroke="#c43b00"/>
<path d="M499.4,143.6L501.9,139.1L499.8,139.9L497.3,144.4Z" fill="#926d00" stroke="#926d00"/>
<path d="M437.5,197.6L440.0,197.0L438.0,196.7L435.5,197.4Z" fill="#f80700" stroke="#f80700"/>
<path d="M479.5,173.1L482.0,170.1L479.9,170.8L477.5,173.8Z" fill="#c93600" stroke="#c93600"/>
<path d="M378.7,168.6L381.3,170.2L379.5,167.2L376.8,165.6Z" fill="#c33c00" stroke="#c33c00"/>
<path d="M352.6,122.1L355.3,124.2L353.4,119.2L350.7,117.1Z" fill="#6d9200" stroke="#6d9200"/>
<path d="M397.7,186.7L400.3,187.7L398.4,185.8L395.9,184.8Z" fill="#e41b00" stroke="#e41b00"/>
<path d="M350.7,117.1L353.4,119.2L351.5,114.0L348.8,111.9Z" fill="#639c00" stroke="#639c00"/>
<path d="M354.5,126.9L357.2,129.0L355.3,124.2L352.6,122.1Z" fill="#768900" stroke="#768900"/>
<path d="M417.3,196.2L419.8,196.4L417.9,195.4L415.4,195.2Z" fill="#f50a00" stroke="#f50a00"/>
<path d="M501.9,139.1L504.4,134.4L502.3,135.2L499.8,139.9Z" fill="#897600" stroke="#897600"/>
<path d="M370.4,157.4L373.1,159.2L371.2,155.6L368.6,153.9Z" fill="#ae5100" stroke="#ae5100"/>
<path d="M421.7,197.2L424.2,197.3L422.3,196.5L419.8,196.4Z" fill="#f70800" stroke="#f70800"/>
<path d="M348.8,111.9L351.5,114.0L349.5,108.6L346.8,106.5Z" fill="#5aa500" stroke="#5aa500"/>
<path d="M356.4,131.5L359.1,133.6L357.2,129.0L354.5,126.9Z" fill="#7e8100" stroke="#7e8100"/>
<path d="M412.9,194.8L415.4,195.2L413.5,194.0L411.0,193.6Z" fill="#f20d00" stroke="#f20d00"/>
<path d="M465.1,186.3L467.6,184.2L465.6,184.7L463.1,186.8Z" fill="#e21d00" stroke="#e21d00"/>
<path d="M426.1,197.9L428.6,197.8L426.7,197.1L424.2,197.3Z" fill="#f80700" stroke="#f80700"/>
<path d="M448.8,195.0L451.3,193.8L449.3,193.9L446.8,195.1Z" fill="#f20d00" stroke="#f20d00"/>
<path d="M477.0,176.0L479.5,173.1L477.5,173.8L475.0,176.7Z" fill="#ce3100" stroke="#ce3100"/>
<path d="M346.8,106.5L349.5,108.6L347.6,103.1L344.9,101.0Z" fill="#4fb000" stroke="#4fb000"/>
<path d="M358.3,136.0L361.0,138.0L359.1,133.6L356.4,131.5Z" fill="#867900" stroke="#867900"/>
<path d="M408.5,193.0L411.0,193.6L409.1,192.3L406.6,191.7Z" fill="#ef1000" stroke="#ef1000"/>
<path d="M455.7,192.1L458.2,190.5L456.2,190.8L453.7,192.4Z" fill="#ec1300" stroke="#ec1300"/>
<path d="M504.4,134.4L506.9,129.5L504.8,130.3L502.3,135.2Z" fill="#807f00" stroke="#807f00"/>
<path d="M441.9,197.0L444.4,196.2L442.4,196.1L440.0,197.0Z" fill="#f50a00" stroke="#f50a00"/>
<path d="M360.2,140.2L362.9,142.2L361.0,138.0L358.3,136.0Z" fill="#8d7200" stroke="#8d7200"/>
<path d="M386.9,178.0L389.5,179.3L387.7,176.9L385.1,175.5Z" fill="#d32c00" stroke="#d32c00"/>
<path d="M430.5,198.2L433.0,197.9L431.1,197.4L428.6,197.8Z" fill="#f80700" stroke="#f80700"/>
<path d="M372.3,160.7L375.0,162.5L373.1,159.2L370.4,157.4Z" fill="#b34c00" stroke="#b34c00"/>
<path d="M474.5,178.7L477.0,176.0L475.0,176.7L472.5,179.4Z" fill="#d32c00" stroke="#d32c00"/>
<path d="M404.0,190.9L406.6,191.7L404.7,190.2L402.2,189.4Z" fill="#ea1500" stroke="#ea1500"/>
<path d="M393.3,183.6L395.9,184.8L394.0,182.7L391.4,181.6Z" fill="#dd2200" stroke="#dd2200"/>
<path d="M380.6,171.4L383.2,172.9L381.3,170.2L378.7,168.6Z" fill="#c73800" stroke="#c73800"/>
<path d="M506.9,129.5L509.5,124.4L507.4,125.2L504.8,130.3Z" fill="#768900" stroke="#768900"/>
<path d="M362.1,144.3L364.8,146.3L362.9,142.2L360.2,140.2Z" fill="#956a00" stroke="#956a00"/>
<path d="M462.6,188.2L465.1,186.3L463.1,186.8L460.7,188.7Z" fill="#e41b00" stroke="#e41b00"/>
<path d="M435.0,198.1L437.5,197.6L435.5,197.4L433.0,197.9Z" fill="#f70800" stroke="#f70800"/>
<path d="M472.1,181.2L474.5,178.7L472.5,179.4L470.0,181.9Z" fill="#d62900" stroke="#d62900"/>
<path d="M399.6,188.4L402.2,189.4L400.3,187.7L397.7,186.7Z" fill="#e51a00" stroke="#e51a00"/>
<path d="M364.0,148.2L366.7,150.2L364.8,146.3L362.1,144.3Z" fill="#9b6400" stroke="#9b6400"/>
<path d="M453.2,193.5L455.7,192.1L453.7,192.4L451.3,193.8Z" fill="#ee1100" stroke="#ee1100"/>
<path d="M446.3,196.1L448.8,195.0L446.8,195.1L444.4,196.2Z" fill="#f20d00" stroke="#f20d00"/>
<path d="M374.2,163.8L376.8,165.6L375.0,162.5L372.3,160.7Z" fill="#b84700" stroke="#b84700"/>
<path d="M509.5,124.4L512.0,119.1L509.9,120.0L507.4,125.2Z" fill="#6c9300" stroke="#6c9300"/>
<path d="M491.5,158.9L494.0,155.1L491.9,156.1L489.4,159.9Z" fill="#ac5300" stroke="#ac5300"/>
<path d="M494.0,155.1L496.5,151.2L494.4,152.1L491.9,156.1Z" fill="#a55a00" stroke="#a55a00"/>
<path d="M489.0,162.5L491.5,158.9L489.4,159.9L486.9,163.5Z" fill="#b34c00" stroke="#b34c00"/>
<path d="M496.5,151.2L499.0,147.0L496.9,148.0L494.4,152.1Z" fill="#9e6100" stroke="#9e6100"/>
<path d="M388.8,180.2L391.4,181.6L389.5,179.3L386.9,178.0Z" fill="#d62900" stroke="#d62900"/>
<path d="M419.2,197.0L421.7,197.2L419.8,196.4L417.3,196.2Z" fill="#f40b00" stroke="#f40b00"/>
<path d="M414.8,195.8L417.3,196.2L415.4,195.2L412.9,194.8Z" fill="#f20d00" stroke="#f20d00"/>
<path d="M460.2,190.0L462.6,188.2L460.7,188.7L458.2,190.5Z" fill="#e61900" stroke="#e61900"/>
<path d="M382.4,174.0L385.1,175.5L383.2,172.9L380.6,171.4Z" fill="#ca3500" stroke="#ca3500"/>
<path d="M439.4,197.7L441.9,197.0L440.0,197.0L437.5,197.6Z" fill="#f50a00" stroke="#f50a00"/>
<path d="M486.5,165.9L489.0,162.5L486.9,163.5L484.4,166.9Z" fill="#b94600" stroke="#b94600"/>
<path d="M365.9,151.9L368.6,153.9L366.7,150.2L364.0,148.2Z" fill="#a15e00" stroke="#a15e00"/>
<path d="M469.6,183.5L472.1,181.2L470.0,181.9L467.6,184.2Z" fill="#da2500" stroke="#da2500"/>
<path d="M423.6,197.9L426.1,197.9L424.2,197.3L421.7,197.2Z" fill="#f50a00" stroke="#f50a00"/>
<path d="M499.0,147.0L501.5,142.7L499.4,143.6L496.9,148.0Z" fill="#966900" stroke="#966900"/>
<path d="M410.3,194.2L412.9,194.8L411.0,193.6L408.5,193.0Z" fill="#ef1000" stroke="#ef1000"/>
<path d="M484.0,169.2L486.5,165.9L484.4,166.9L482.0,170.1Z" fill="#bf4000" stroke="#bf4000"/>
<path d="M395.1,185.5L397.7,186.7L395.9,184.8L393.3,183.6Z" fill="#df2000" stroke="#df2000"/>
<path d="M501.5,142.7L504.0,138.1L501.9,139.1L499.4,143.6Z" fill="#8d7200" stroke="#8d7200"/>
<path d="M428.0,198.3L430.5,198.2L428.6,197.8L426.1,197.9Z" fill="#f60900" stroke="#f60900"/>
<path d="M376.1,166.8L378.7,168.6L376.8,165.6L374.2,163.8Z" fill="#bc4300" stroke="#bc4300"/>
<path d="M405.9,192.2L408.5,193.0L406.6,191.7L404.0,190.9Z" fill="#eb1400" stroke="#eb1400"/>
<path d="M481.5,172.2L484.0,169.2L482.0,170.1L479.5,173.1Z" fill="#c43b00" stroke="#c43b00"/>
<path d="M349.9,119.8L352.6,122.1L350.7,117.1L347.9,114.8Z" fill="#669900" stroke="#669900"/>
<path d="M367.8,155.4L370.4,157.4L368.6,153.9L365.9,151.9Z" fill="#a75800" stroke="#a75800"/>
<path d="M347.9,114.8L350.7,117.1L348.8,111.9L346.0,109.6Z" fill="#5ca300" stroke="#5ca300"/>
<path d="M351.8,124.7L354.5,126.9L352.6,122.1L349.9,119.8Z" fill="#6e9100" stroke="#6e9100"/>
<path d="M504.0,138.1L506.5,133.4L504.4,134.4L501.9,139.1Z" fill="#857a00" stroke="#857a00"/>
<path d="M450.7,194.7L453.2,193.5L451.3,193.8L448.8,195.0Z" fill="#ee1100" stroke="#ee1100"/>
<path d="M467.1,185.6L469.6,183.5L467.6,184.2L465.1,186.3Z" fill="#dd2200" stroke="#dd2200"/>
<path d="M346.0,109.6L348.8,111.9L346.8,106.5L344.1,104.2Z" fill="#53ac00" stroke="#53ac00"/>
<path d="M353.7,129.3L356.4,131.5L354.5,126.9L351.8,124.7Z" fill="#778800" stroke="#778800"/>
<path d="M432.5,198.5L435.0,198.1L433.0,197.9L430.5,198.2Z" fill="#f50a00" stroke="#f50a00"/>
<path d="M443.8,196.9L446.3,196.1L444.4,196.2L441.9,197.0Z" fill="#f20d00" stroke="#f20d00"/>
<path d="M457.7,191.6L460.2,190.0L458.2,190.5L455.7,192.1Z" fill="#e81700" stroke="#e81700"/>
<path d="M479.0,175.1L481.5,172.2L479.5,173.1L477.0,176.0Z" fill="#c93600" stroke="#c93600"/>
<path d="M344.1,104.2L346.8,106.5L344.9,101.0L342.1,98.6Z" fill="#48b700" stroke="#48b700"/>
<path d="M355.6,133.7L358.3,136.0L356.4,131.5L353.7,129.3Z" fill="#7f8000" stroke="#7f8000"/>
<path d="M401.4,189.9L404.0,190.9L402.2,189.4L399.6,188.4Z" fill="#e61900" stroke="#e61900"/>
<path d="M384.3,176.4L386.9,178.0L385.1,175.5L382.4,174.0Z" fill="#cd3200" stroke="#cd3200"/>
<path d="M506.5,133.4L509.1,128.5L506.9,129.5L504.4,134.4Z" fill="#7b8400" stroke="#7b8400"/>
<path d="M390.6,182.3L393.3,183.6L391.4,181.6L388.8,180.2Z" fill="#d82700" stroke="#d82700"/>
<path d="M357.5,138.0L360.2,140.2L358.3,136.0L355.6,133.7Z" fill="#867900" stroke="#867900"/>
<path d="M369.6,158.7L372.3,160.7L370.4,157.4L367.8,155.4Z" fill="#ac5300" stroke="#ac5300"/>
<path d="M377.9,169.6L380.6,171.4L378.7,168.6L376.1,166.8Z" fill="#c03f00" stroke="#c03f00"/>
<path d="M476.6,177.8L479.0,175.1L477.0,176.0L474.5,178.7Z" fill="#ce3100" stroke="#ce3100"/>
<path d="M436.9,198.2L439.4,197.7L437.5,197.6L435.0,198.1Z" fill="#f40b00" stroke="#f40b00"/>
<path d="M464.6,187.6L467.1,185.6L465.1,186.3L462.6,188.2Z" fill="#e01f00" stroke="#e01f00"/>
<path d="M509.1,128.5L511.6,123.4L509.5,124.4L506.9,129.5Z" fill="#728d00" stroke="#728d00"/>
<path d="M359.4,142.1L362.1,144.3L360.2,140.2L357.5,138.0Z" fill="#8d7200" stroke="#8d7200"/>
<path d="M397.0,187.2L399.6,188.4L397.7,186.7L395.1,185.5Z" fill="#e01f00" stroke="#e01f00"/>
<path d="M416.6,196.6L419.2,197.0L417.3,196.2L414.8,195.8Z" fill="#f10e00" stroke="#f10e00"/>
<path d="M421.1,197.6L423.6,197.9L421.7,197.2L419.2,197.0Z" fill="#f30c00" stroke="#f30c00"/>
<path d="M412.2,195.2L414.8,195.8L412.9,194.8L410.3,194.2Z" fill="#ee1100" stroke="#ee1100"/>
<path d="M448.3,195.8L450.7,194.7L448.8,195.0L446.3,196.1Z" fill="#ef1000" stroke="#ef1000"/>
<path d="M455.2,193.0L457.7,191.6L455.7,192.1L453.2,193.5Z" fill="#ea1500" stroke="#ea1500"/>
<path d="M474.1,180.3L476.6,177.8L474.5,178.7L472.1,181.2Z" fill="#d22d00" stroke="#d22d00"/>
<path d="M425.5,198.3L428.0,198.3L426.1,197.9L423.6,197.9Z" fill="#f40b00" stroke="#f40b00"/>
<path d="M361.3,146.0L364.0,148.2L362.1,144.3L359.4,142.1Z" fill="#946b00" stroke="#946b00"/>
<path d="M371.5,161.9L374.2,163.8L372.3,160.7L369.6,158.7Z" fill="#b14e00" stroke="#b14e00"/>
<path d="M407.8,193.4L410.3,194.2L408.5,193.0L405.9,192.2Z" fill="#eb1400" stroke="#eb1400"/>
<path d="M511.6,123.4L514.2,118.0L512.0,119.1L509.5,124.4Z" fill="#679800" stroke="#679800"/>
<path d="M441.3,197.6L443.8,196.9L441.9,197.0L439.4,197.7Z" fill="#f20d00" stroke="#f20d00"/>
<path d="M386.2,178.6L388.8,180.2L386.9,178.0L384.3,176.4Z" fill="#d02f00" stroke="#d02f00"/>
<path d="M379.8,172.2L382.4,174.0L380.6,171.4L377.9,169.6Z" fill="#c43b00" stroke="#c43b00"/>
<path d="M429.9,198.6L432.5,198.5L430.5,198.2L428.0,198.3Z" fill="#f40b00" stroke="#f40b00"/>
<path d="M493.5,157.8L496.0,154.0L494.0,155.1L491.5,158.9Z" fill="#a75800" stroke="#a75800"/>
<path d="M462.1,189.3L464.6,187.6L462.6,188.2L460.2,190.0Z" fill="#e21d00" stroke="#e21d00"/>
<path d="M496.0,154.0L498.6,150.0L496.5,151.2L494.0,155.1Z" fill="#a05f00" stroke="#a05f00"/>
<path d="M491.0,161.4L493.5,157.8L491.5,158.9L489.0,162.5Z" fill="#ae5100" stroke="#ae5100"/>
<path d="M392.5,184.2L395.1,185.5L393.3,183.6L390.6,182.3Z" fill="#da2500" stroke="#da2500"/>
<path d="M498.6,150.0L501.1,145.8L499.0,147.0L496.5,151.2Z" fill="#996600" stroke="#996600"/>
<path d="M403.3,191.3L405.9,192.2L404.0,190.9L401.4,189.9Z" fill="#e61900" stroke="#e61900"/>
<path d="M471.6,182.6L474.1,180.3L472.1,181.2L469.6,183.5Z" fill="#d52a00" stroke="#d52a00"/>
<path d="M363.2,149.7L365.9,151.9L364.0,148.2L361.3,146.0Z" fill="#9a6500" stroke="#9a6500"/>
<path d="M488.5,164.8L491.0,161.4L489.0,162.5L486.5,165.9Z" fill="#b44b00" stroke="#b44b00"/>
<path d="M501.1,145.8L503.6,141.5L501.5,142.7L499.0,147.0Z" fill="#916e00" stroke="#916e00"/>
<path d="M486.1,168.1L488.5,164.8L486.5,165.9L484.0,169.2Z" fill="#ba4500" stroke="#ba4500"/>
<path d="M373.4,164.9L376.1,166.8L374.2,163.8L371.5,161.9Z" fill="#b64900" stroke="#b64900"/>
<path d="M434.4,198.5L436.9,198.2L435.0,198.1L432.5,198.5Z" fill="#f30c00" stroke="#f30c00"/>
<path d="M503.6,141.5L506.1,136.9L504.0,138.1L501.5,142.7Z" fill="#887700" stroke="#887700"/>
<path d="M452.7,194.2L455.2,193.0L453.2,193.5L450.7,194.7Z" fill="#ea1500" stroke="#ea1500"/>
<path d="M445.8,196.6L448.3,195.8L446.3,196.1L443.8,196.9Z" fill="#ef1000" stroke="#ef1000"/>
<path d="M398.8,188.7L401.4,189.9L399.6,188.4L397.0,187.2Z" fill="#e11e00" stroke="#e11e00"/>
<path d="M483.6,171.1L486.1,168.1L484.0,169.2L481.5,172.2Z" fill="#bf4000" stroke="#bf4000"/>
<path d="M365.1,153.2L367.8,155.4L365.9,151.9L363.2,149.7Z" fill="#a05f00" stroke="#a05f00"/>
<path d="M347.1,117.4L349.9,119.8L347.9,114.8L345.2,112.3Z" fill="#5ea100" stroke="#5ea100"/>
<path d="M506.1,136.9L508.6,132.2L506.5,133.4L504.0,138.1Z" fill="#7f8000" stroke="#7f8000"/>
<path d="M469.1,184.7L471.6,182.6L469.6,183.5L467.1,185.6Z" fill="#d82700" stroke="#d82700"/>
<path d="M345.2,112.3L347.9,114.8L346.0,109.6L343.2,107.1Z" fill="#55aa00" stroke="#55aa00"/>
<path d="M349.0,122.2L351.8,124.7L349.9,119.8L347.1,117.4Z" fill="#679800" stroke="#679800"/>
<path d="M459.7,190.9L462.1,189.3L460.2,190.0L457.7,191.6Z" fill="#e41b00" stroke="#e41b00"/>
<path d="M343.2,107.1L346.0,109.6L344.1,104.2L341.3,101.7Z" fill="#4bb400" stroke="#4bb400"/>
<path d="M351.0,126.8L353.7,129.3L351.8,124.7L349.0,122.2Z" fill="#6f9000" stroke="#6f9000"/>
<path d="M381.6,174.6L384.3,176.4L382.4,174.0L379.8,172.2Z" fill="#c73800" stroke="#c73800"/>
<path d="M388.0,180.7L390.6,182.3L388.8,180.2L386.2,178.6Z" fill="#d22d00" stroke="#d22d00"/>
<path d="M481.1,174.0L483.6,171.1L481.5,172.2L479.0,175.1Z" fill="#c43b00" stroke="#c43b00"/>
<path d="M341.3,101.7L344.1,104.2L342.1,98.6L339.3,96.1Z" fill="#41be00" stroke="#41be00"/>
<path d="M352.9,131.3L355.6,133.7L353.7,129.3L351.0,126.8Z" fill="#778800" stroke="#778800"/>
<path d="M438.8,198.1L441.3,197.6L439.4,197.7L436.9,198.2Z" fill="#f10e00" stroke="#f10e00"/>
<path d="M418.5,197.2L421.1,197.6L419.2,197.0L416.6,196.6Z" fill="#f00f00" stroke="#f00f00"/>
<path d="M414.1,196.0L416.6,196.6L414.8,195.8L412.2,195.2Z" fill="#ee1100" stroke="#ee1100"/>
<path d="M508.6,132.2L511.2,127.3L509.1,128.5L506.5,133.4Z" fill="#768900" stroke="#768900"/>
<path d="M423.0,198.1L425.5,198.3L423.6,197.9L421.1,197.6Z" fill="#f10e00" stroke="#f10e00"/>
<path d="M375.2,167.7L377.9,169.6L376.1,166.8L373.4,164.9Z" fill="#ba4500" stroke="#ba4500"/>
<path d="M409.6,194.4L412.2,195.2L410.3,194.2L407.8,193.4Z" fill="#ea1500" stroke="#ea1500"/>
<path d="M366.9,156.6L369.6,158.7L367.8,155.4L365.1,153.2Z" fill="#a55a00" stroke="#a55a00"/>
<path d="M394.4,185.9L397.0,187.2L395.1,185.5L392.5,184.2Z" fill="#db2400" stroke="#db2400"/>
<path d="M354.8,135.6L357.5,138.0L355.6,133.7L352.9,131.3Z" fill="#7f8000" stroke="#7f8000"/>
<path d="M478.6,176.7L481.1,174.0L479.0,175.1L476.6,177.8Z" fill="#c83700" stroke="#c83700"/>
<path d="M466.6,186.7L469.1,184.7L467.1,185.6L464.6,187.6Z" fill="#db2400" stroke="#db2400"/>
<path d="M427.4,198.6L429.9,198.6L428.0,198.3L425.5,198.3Z" fill="#f10e00" stroke="#f10e00"/>
<path d="M511.2,127.3L513.7,122.1L511.6,123.4L509.1,128.5Z" fill="#6c9300" stroke="#6c9300"/>
<path d="M405.2,192.4L407.8,193.4L405.9,192.2L403.3,191.3Z" fill="#e61900" stroke="#e61900"/>
<path d="M450.2,195.3L452.7,194.2L450.7,194.7L448.3,195.8Z" fill="#eb1400" stroke="#eb1400"/>
<path d="M356.7,139.7L359.4,142.1L357.5,138.0L354.8,135.6Z" fill="#867900" stroke="#867900"/>
<path d="M457.2,192.3L459.7,190.9L457.7,191.6L455.2,193.0Z" fill="#e51a00" stroke="#e51a00"/>
<path d="M443.3,197.3L445.8,196.6L443.8,196.9L441.3,197.6Z" fill="#ee1100" stroke="#ee1100"/>
<path d="M431.9,198.7L434.4,198.5L432.5,198.5L429.9,198.6Z" fill="#f10e00" stroke="#f10e00"/>
<path d="M476.1,179.2L478.6,176.7L476.6,177.8L474.1,180.3Z" fill="#cc3300" stroke="#cc3300"/>
<path d="M383.5,176.9L386.2,178.6L384.3,176.4L381.6,174.6Z" fill="#ca3500" stroke="#ca3500"/>
<path d="M368.8,159.7L371.5,161.9L369.6,158.7L366.9,156.6Z" fill="#aa5500" stroke="#aa5500"/>
<path d="M358.6,143.6L361.3,146.0L359.4,142.1L356.7,139.7Z" fill="#8d7200" stroke="#8d7200"/>
<path d="M400.7,190.1L403.3,191.3L401.4,189.9L398.8,188.7Z" fill="#e21d00" stroke="#e21d00"/>
<path d="M513.7,122.1L516.3,116.8L514.2,118.0L511.6,123.4Z" fill="#629d00" stroke="#629d00"/>
<path d="M389.9,182.6L392.5,184.2L390.6,182.3L388.0,180.7Z" fill="#d42b00" stroke="#d42b00"/>
<path d="M377.1,170.3L379.8,172.2L377.9,169.6L375.2,167.7Z" fill="#bd4200" stroke="#bd4200"/>
<path d="M464.1,188.5L466.6,186.7L464.6,187.6L462.1,189.3Z" fill="#dd2200" stroke="#dd2200"/>
<path d="M495.6,156.5L498.1,152.7L496.0,154.0L493.5,157.8Z" fill="#a15e00" stroke="#a15e00"/>
<path d="M498.1,152.7L500.7,148.7L498.6,150.0L496.0,154.0Z" fill="#9a6500" stroke="#9a6500"/>
<path d="M436.3,198.4L438.8,198.1L436.9,198.2L434.4,198.5Z" fill="#f00f00" stroke="#f00f00" stroke-width="1.5"/>
<path d="M493.1,160.1L495.6,156.5L493.5,157.8L491.0,161.4Z" fill="#a85700" stroke="#a85700"/>
<path d="M473.6,181.5L476.1,179.2L474.1,180.3L471.6,182.6Z" fill="#d02f00" stroke="#d02f00"/>
<path d="M500.7,148.7L503.2,144.5L501.1,145.8L498.6,150.0Z" fill="#936c00" stroke="#936c00"/>
<path d="M360.5,147.3L363.2,149.7L361.3,146.0L358.6,143.6Z" fill="#936c00" stroke="#936c00"/>
<path d="M490.6,163.5L493.1,160.1L491.0,161.4L488.5,164.8Z" fill="#ae5100" stroke="#ae5100"/>
<path d="M396.2,187.4L398.8,188.7L397.0,187.2L394.4,185.9Z" fill="#dc2300" stroke="#dc2300"/>
<path d="M503.2,144.5L505.7,140.1L503.6,141.5L501.1,145.8Z" fill="#8b7400" stroke="#8b7400"/>
<path d="M370.7,162.7L373.4,164.9L371.5,161.9L368.8,159.7Z" fill="#af5000" stroke="#af5000"/>
<path d="M454.7,193.6L457.2,192.3L455.2,193.0L452.7,194.2Z" fill="#e61900" stroke="#e61900"/>
<path d="M447.7,196.2L450.2,195.3L448.3,195.8L445.8,196.6Z" fill="#eb1400" stroke="#eb1400"/>
<path d="M488.1,166.8L490.6,163.5L488.5,164.8L486.1,168.1Z" fill="#b44b00" stroke="#b44b00"/>
<path d="M416.0,196.6L418.5,197.2L416.6,196.6L414.1,196.0Z" fill="#ec1300" stroke="#ec1300"/>
<path d="M420.4,197.7L423.0,198.1L421.1,197.6L418.5,197.2Z" fill="#ee1100" stroke="#ee1100" stroke-width="1.5"/>
<path d="M505.7,140.1L508.2,135.5L506.1,136.9L503.6,141.5Z" fill="#827d00" stroke="#827d00"/>
<path d="M411.5,195.2L414.1,196.0L412.2,195.2L409.6,194.4Z" fill="#ea1500" stroke="#ea1500"/>
<path d="M362.3,150.8L365.1,153.2L363.2,149.7L360.5,147.3Z" fill="#996600" stroke="#996600"/>
<path d="M424.9,198.3L427.4,198.6L425.5,198.3L423.0,198.1Z" fill="#ef1000" stroke="#ef1000" stroke-width="1.5"/>
<path d="M485.6,169.8L488.1,166.8L486.1,168.1L483.6,171.1Z" fill="#b94600" stroke="#b94600"/>
<path d="M385.4,179.0L388.0,180.7L386.2,178.6L383.5,176.9Z" fill="#cc3300" stroke="#cc3300"/>
<path d="M461.7,190.1L464.1,188.5L462.1,189.3L459.7,190.9Z" fill="#df2000" stroke="#df2000"/>
<path d="M471.1,183.7L473.6,181.5L471.6,182.6L469.1,184.7Z" fill="#d32c00" stroke="#d32c00"/>
<path d="M440.8,197.8L443.3,197.3L441.3,197.6L438.8,198.1Z" fill="#ee1100" stroke="#ee1100" stroke-width="1.5"/>
<path d="M407.1,193.4L409.6,194.4L407.8,193.4L405.2,192.4Z" fill="#e61900" stroke="#e61900"/>
<path d="M379.0,172.7L381.6,174.6L379.8,172.2L377.1,170.3Z" fill="#c03f00" stroke="#c03f00"/>
<path d="M344.3,114.7L347.1,117.4L345.2,112.3L342.4,109.7Z" fill="#56a900" stroke="#56a900"/>
<path d="M508.2,135.5L510.8,130.8L508.6,132.2L506.1,136.9Z" fill="#7a8500" stroke="#7a8500"/>
<path d="M342.4,109.7L345.2,112.3L343.2,107.1L340.5,104.4Z" fill="#4db200" stroke="#4db200"/>
<path d="M346.3,119.5L349.0,122.2L347.1,117.4L344.3,114.7Z" fill="#5fa000" stroke="#5fa000"/>
<path d="M340.5,104.4L343.2,107.1L341.3,101.7L338.5,99.0Z" fill="#43bc00" stroke="#43bc00"/>
<path d="M348.2,124.2L351.0,126.8L349.0,122.2L346.3,119.5Z" fill="#679800" stroke="#679800"/>
<path d="M429.3,198.6L431.9,198.7L429.9,198.6L427.4,198.6Z" fill="#ef1000" stroke="#ef1000" stroke-width="1.5"/>
<path d="M391.7,184.3L394.4,185.9L392.5,184.2L389.9,182.6Z" fill="#d52a00" stroke="#d52a00"/>
<path d="M483.1,172.7L485.6,169.8L483.6,171.1L481.1,174.0Z" fill="#be4100" stroke="#be4100"/>
<path d="M338.5,99.0L341.3,101.7L339.3,96.1L336.5,93.4Z" fill="#39c600" stroke="#39c600"/>
<path d="M350.1,128.7L352.9,131.3L351.0,126.8L348.2,124.2Z" fill="#6f9000" stroke="#6f9000"/>
<path d="M402.6,191.3L405.2,192.4L403.3,191.3L400.7,190.1Z" fill="#e21d00" stroke="#e21d00"/>
<path d="M510.8,130.8L513.3,125.8L511.2,127.3L508.6,132.2Z" fill="#708f00" stroke="#708f00"/>
<path d="M372.6,165.5L375.2,167.7L373.4,164.9L370.7,162.7Z" fill="#b34c00" stroke="#b34c00"/>
<path d="M364.2,154.2L366.9,156.6L365.1,153.2L362.3,150.8Z" fill="#9e6100" stroke="#9e6100"/>
<path d="M352.0,133.0L354.8,135.6L352.9,131.3L350.1,128.7Z" fill="#778800" stroke="#778800"/>
<path d="M468.6,185.6L471.1,183.7L469.1,184.7L466.6,186.7Z" fill="#d62900" stroke="#d62900"/>
<path d="M452.2,194.6L454.7,193.6L452.7,194.2L450.2,195.3Z" fill="#e61900" stroke="#e61900"/>
<path d="M480.6,175.4L483.1,172.7L481.1,174.0L478.6,176.7Z" fill="#c33c00" stroke="#c33c00"/>
<path d="M433.8,198.6L436.3,198.4L434.4,198.5L431.9,198.7Z" fill="#ee1100" stroke="#ee1100" stroke-width="1.5"/>
<path d="M445.2,196.9L447.7,196.2L445.8,196.6L443.3,197.3Z" fill="#ea1500" stroke="#ea1500" stroke-width="1.5"/>
<path d="M513.3,125.8L515.9,120.7L513.7,122.1L511.2,127.3Z" fill="#669900" stroke="#669900"/>
<path d="M459.2,191.5L461.7,190.1L459.7,190.9L457.2,192.3Z" fill="#e01f00" stroke="#e01f00"/>
<path d="M398.1,188.7L400.7,190.1L398.8,188.7L396.2,187.4Z" fill="#dc2300" stroke="#dc2300"/>
<path d="M353.9,137.1L356.7,139.7L354.8,135.6L352.0,133.0Z" fill="#7e8100" stroke="#7e8100"/>
<path d="M380.8,175.0L383.5,176.9L381.6,174.6L379.0,172.7Z" fill="#c33c00" stroke="#c33c00"/>
<path d="M387.2,180.9L389.9,182.6L388.0,180.7L385.4,179.0Z" fill="#ce3100" stroke="#ce3100"/>
<path d="M478.2,177.9L480.6,175.4L478.6,176.7L476.1,179.2Z" fill="#c73800" stroke="#c73800"/>
<path d="M366.1,157.4L368.8,159.7L366.9,156.6L364.2,154.2Z" fill="#a35c00" stroke="#a35c00"/>
<path d="M374.4,168.1L377.1,170.3L375.2,167.7L372.6,165.5Z" fill="#b64900" stroke="#b64900"/>
<path d="M355.8,141.0L358.6,143.6L356.7,139.7L353.9,137.1Z" fill="#857a00" stroke="#857a00"/>
<path d="M438.2,198.2L440.8,197.8L438.8,198.1L436.3,198.4Z" fill="#f70800" stroke="#f70800" stroke-width="1.5"/>
<path d="M515.9,120.7L518.5,115.4L516.3,116.8L513.7,122.1Z" fill="#5ca300" stroke="#5ca300"/>
<path d="M417.9,197.1L420.4,197.7L418.5,197.2L416.0,196.6Z" fill="#f50a00" stroke="#f50a00" stroke-width="1.5"/>
<path d="M413.4,195.8L416.0,196.6L414.1,196.0L411.5,195.2Z" fill="#e81700" stroke="#e81700" stroke-width="1.5"/>
<path d="M466.2,187.4L468.6,185.6L466.6,186.7L464.1,188.5Z" fill="#d82700" stroke="#d82700"/>
<path d="M422.3,197.9L424.9,198.3L423.0,198.1L420.4,197.7Z" fill="#f60900" stroke="#f60900" stroke-width="1.5"/>
<path d="M393.6,185.8L396.2,187.4L394.4,185.9L391.7,184.3Z" fill="#d62900" stroke="#d62900"/>
<path d="M408.9,194.2L411.5,195.2L409.6,194.4L407.1,193.4Z" fill="#e51a00" stroke="#e51a00" stroke-width="1.5"/>
<path d="M497.7,155.0L500.3,151.1L498.1,152.7L495.6,156.5Z" fill="#9b6400" stroke="#9b6400"/>
<path d="M475.7,180.3L478.2,177.9L476.1,179.2L473.6,181.5Z" fill="#ca3500" stroke="#ca3500"/>
<path d="M500.3,151.1L502.8,147.1L500.7,148.7L498.1,152.7Z" fill="#946b00" stroke="#946b00"/>
<path d="M495.2,158.6L497.7,155.0L495.6,156.5L493.1,160.1Z" fill="#a25d00" stroke="#a25d00"/>
<path d="M357.7,144.7L360.5,147.3L358.6,143.6L355.8,141.0Z" fill="#8b7400" stroke="#8b7400"/>
<path d="M426.8,198.4L429.3,198.6L427.4,198.6L424.9,198.3Z" fill="#f70800" stroke="#f70800" stroke-width="1.5"/>
<path d="M449.7,195.5L452.2,194.6L450.2,195.3L447.7,196.2Z" fill="#e61900" stroke="#e61900" stroke-width="1.5"/>
<path d="M502.8,147.1L505.3,142.9L503.2,144.5L500.7,148.7Z" fill="#8d7200" stroke="#8d7200"/>
<path d="M456.7,192.7L459.2,191.5L457.2,192.3L454.7,193.6Z" fill="#e11e00" stroke="#e11e00" stroke-width="1.5"/>
<path d="M492.7,162.0L495.2,158.6L493.1,160.1L490.6,163.5Z" fill="#a85700" stroke="#a85700"/>
<path d="M404.5,192.3L407.1,193.4L405.2,192.4L402.6,191.3Z" fill="#e11e00" stroke="#e11e00" stroke-width="1.5"/>
<path d="M368.0,160.3L370.7,162.7L368.8,159.7L366.1,157.4Z" fill="#a75800" stroke="#a75800"/>
<path d="M505.3,142.9L507.9,138.5L505.7,140.1L503.2,144.5Z" fill="#857a00" stroke="#857a00"/>
<path d="M442.7,197.4L445.2,196.9L443.3,197.3L440.8,197.8Z" fill="#f50a00" stroke="#f50a00" stroke-width="1.5"/>
<path d="M490.2,165.3L492.7,162.0L490.6,163.5L488.1,166.8Z" fill="#ae5100" stroke="#ae5100"/>
<path d="M382.7,177.0L385.4,179.0L383.5,176.9L380.8,175.0Z" fill="#c53a00" stroke="#c53a00"/>
<path d="M507.9,138.5L510.4,134.0L508.2,135.5L505.7,140.1Z" fill="#7c8300" stroke="#7c8300"/>
<path d="M431.2,198.5L433.8,198.6L431.9,198.7L429.3,198.6Z" fill="#f60900" stroke="#f60900" stroke-width="1.5"/>
<path d="M376.3,170.6L379.0,172.7L377.1,170.3L374.4,168.1Z" fill="#b94600" stroke="#b94600"/>
<path d="M463.7,189.0L466.2,187.4L464.1,188.5L461.7,190.1Z" fill="#da2500" stroke="#da2500"/>
<path d="M359.6,148.2L362.3,150.8L360.5,147.3L357.7,144.7Z" fill="#916e00" stroke="#916e00"/>
<path d="M473.2,182.4L475.7,180.3L473.6,181.5L471.1,183.7Z" fill="#cd3200" stroke="#cd3200"/>
<path d="M400.0,189.9L402.6,191.3L400.7,190.1L398.1,188.7Z" fill="#dc2300" stroke="#dc2300"/>
<path d="M389.1,182.6L391.7,184.3L389.9,182.6L387.2,180.9Z" fill="#cf3000" stroke="#cf3000"/>
<path d="M487.7,168.4L490.2,165.3L488.1,166.8L485.6,169.8Z" fill="#b34c00" stroke="#b34c00"/>
<path d="M510.4,134.0L512.9,129.2L510.8,130.8L508.2,135.5Z" fill="#738c00" stroke="#738c00"/>
<path d="M341.5,111.8L344.3,114.7L342.4,109.7L339.6,106.8Z" fill="#4eb100" stroke="#4eb100"/>
<path d="M339.6,106.8L342.4,109.7L340.5,104.4L337.6,101.5Z" fill="#44bb00" stroke="#44bb00"/>
<path d="M343.5,116.7L346.3,119.5L344.3,114.7L341.5,111.8Z" fill="#57a800" stroke="#57a800"/>
<path d="M337.6,101.5L340.5,104.4L338.5,99.0L335.7,96.1Z" fill="#3bc400" stroke="#3bc400"/>
<path d="M345.4,121.4L348.2,124.2L346.3,119.5L343.5,116.7Z" fill="#5fa000" stroke="#5fa000"/>
<path d="M485.2,171.3L487.7,168.4L485.6,169.8L483.1,172.7Z" fill="#b84700" stroke="#b84700"/>
<path d="M435.7,198.3L438.2,198.2L436.3,198.4L433.8,198.6Z" fill="#f50a00" stroke="#f50a00"/>
<path d="M369.8,163.1L372.6,165.5L370.7,162.7L368.0,160.3Z" fill="#ab5400" stroke="#ab5400"/>
<path d="M335.7,96.1L338.5,99.0L336.5,93.4L333.7,90.4Z" fill="#30cf00" stroke="#30cf00"/>
<path d="M347.3,125.8L350.1,128.7L348.2,124.2L345.4,121.4Z" fill="#679800" stroke="#679800"/>
<path d="M512.9,129.2L515.5,124.2L513.3,125.8L510.8,130.8Z" fill="#6a9500" stroke="#6a9500"/>
<path d="M454.2,193.8L456.7,192.7L454.7,193.6L452.2,194.6Z" fill="#ee1100" stroke="#ee1100" stroke-width="1.5"/>
<path d="M361.5,151.6L364.2,154.2L362.3,150.8L359.6,148.2Z" fill="#966900" stroke="#966900"/>
<path d="M395.5,187.2L398.1,188.7L396.2,187.4L393.6,185.8Z" fill="#d62900" stroke="#d62900"/>
<path d="M447.2,196.2L449.7,195.5L447.7,196.2L445.2,196.9Z" fill="#f20d00" stroke="#f20d00" stroke-width="1.5"/>
<path d="M470.7,184.4L473.2,182.4L471.1,183.7L468.6,185.6Z" fill="#d02f00" stroke="#d02f00"/>
<path d="M349.2,130.1L352.0,133.0L350.1,128.7L347.3,125.8Z" fill="#6e9100" stroke="#6e9100"/>
<path d="M482.7,174.0L485.2,171.3L483.1,172.7L480.6,175.4Z" fill="#bc4300" stroke="#bc4300"/>
<path d="M415.3,196.3L417.9,197.1L416.0,196.6L413.4,195.8Z" fill="#f20d00" stroke="#f20d00" stroke-width="1.5"/>
<path d="M461.2,190.4L463.7,189.0L461.7,190.1L459.2,191.5Z" fill="#db2400" stroke="#db2400" stroke-width="1.5"/>
<path d="M419.8,197.3L422.3,197.9L420.4,197.7L417.9,197.1Z" fill="#f40b00" stroke="#f40b00"/>
<path d="M410.8,194.8L413.4,195.8L411.5,195.2L408.9,194.2Z" fill="#f00f00" stroke="#f00f00" stroke-width="1.5"/>
<path d="M515.5,124.2L518.1,119.1L515.9,120.7L513.3,125.8Z" fill="#609f00" stroke="#609f00"/>
<path d="M378.2,172.8L380.8,175.0L379.0,172.7L376.3,170.6Z" fill="#bc4300" stroke="#bc4300"/>
<path d="M384.6,178.9L387.2,180.9L385.4,179.0L382.7,177.0Z" fill="#c73800" stroke="#c73800"/>
<path d="M351.1,134.2L353.9,137.1L352.0,133.0L349.2,130.1Z" fill="#768900" stroke="#768900"/>
<path d="M424.2,198.0L426.8,198.4L424.9,198.3L422.3,197.9Z" fill="#f40b00" stroke="#f40b00"/>
<path d="M440.2,197.7L442.7,197.4L440.8,197.8L438.2,198.2Z" fill="#f40b00" stroke="#f40b00"/>
<path d="M406.3,193.1L408.9,194.2L407.1,193.4L404.5,192.3Z" fill="#ed1200" stroke="#ed1200" stroke-width="1.5"/>
<path d="M363.4,154.8L366.1,157.4L364.2,154.2L361.5,151.6Z" fill="#9b6400" stroke="#9b6400"/>
<path d="M480.2,176.5L482.7,174.0L480.6,175.4L478.2,177.9Z" fill="#c03f00" stroke="#c03f00"/>
<path d="M371.7,165.8L374.4,168.1L372.6,165.5L369.8,163.1Z" fill="#af5000" stroke="#af5000"/>
<path d="M391.0,184.1L393.6,185.8L391.7,184.3L389.1,182.6Z" fill="#d02f00" stroke="#d02f00"/>
<path d="M428.7,198.3L431.2,198.5L429.3,198.6L426.8,198.4Z" fill="#f40b00" stroke="#f40b00"/>
<path d="M353.0,138.2L355.8,141.0L353.9,137.1L351.1,134.2Z" fill="#7c8300" stroke="#7c8300"/>
<path d="M518.1,119.1L520.7,113.7L518.5,115.4L515.9,120.7Z" fill="#56a900" stroke="#56a900"/>
<path d="M468.2,186.2L470.7,184.4L468.6,185.6L466.2,187.4Z" fill="#d22d00" stroke="#d22d00"/>
<path d="M401.9,190.9L404.5,192.3L402.6,191.3L400.0,189.9Z" fill="#dc2300" stroke="#dc2300" stroke-width="1.5"/>
<path d="M451.7,194.7L454.2,193.8L452.2,194.6L449.7,195.5Z" fill="#ee1100" stroke="#ee1100" stroke-width="1.5"/>
<path d="M458.7,191.7L461.2,190.4L459.2,191.5L456.7,192.7Z" fill="#e81700" stroke="#e81700" stroke-width="1.5"/>
<path d="M477.7,178.8L480.2,176.5L478.2,177.9L475.7,180.3Z" fill="#c43b00" stroke="#c43b00"/>
<path d="M433.2,198.2L435.7,198.3L433.8,198.6L431.2,198.5Z" fill="#f40b00" stroke="#f40b00"/>
<path d="M499.9,153.2L502.4,149.4L500.3,151.1L497.7,155.0Z" fill="#956a00" stroke="#956a00"/>
<path d="M502.4,149.4L504.9,145.4L502.8,147.1L500.3,151.1Z" fill="#8d7200" stroke="#8d7200"/>
<path d="M354.9,141.9L357.7,144.7L355.8,141.0L353.0,138.2Z" fill="#827d00" stroke="#827d00"/>
<path d="M444.7,196.7L447.2,196.2L445.2,196.9L442.7,197.4Z" fill="#f10e00" stroke="#f10e00"/>
<path d="M497.4,156.9L499.9,153.2L497.7,155.0L495.2,158.6Z" fill="#9b6400" stroke="#9b6400"/>
<path d="M504.9,145.4L507.5,141.2L505.3,142.9L502.8,147.1Z" fill="#867900" stroke="#867900"/>
<path d="M365.2,157.8L368.0,160.3L366.1,157.4L363.4,154.8Z" fill="#9f6000" stroke="#9f6000"/>
<path d="M380.0,174.9L382.7,177.0L380.8,175.0L378.2,172.8Z" fill="#be4100" stroke="#be4100"/>
<path d="M397.4,188.4L400.0,189.9L398.1,188.7L395.5,187.2Z" fill="#d62900" stroke="#d62900" stroke-width="1.5"/>
<path d="M494.8,160.3L497.4,156.9L495.2,158.6L492.7,162.0Z" fill="#a15e00" stroke="#a15e00"/>
<path d="M507.5,141.2L510.0,136.8L507.9,138.5L505.3,142.9Z" fill="#7e8100" stroke="#7e8100"/>
<path d="M386.4,180.6L389.1,182.6L387.2,180.9L384.6,178.9Z" fill="#c83700" stroke="#c83700"/>
<path d="M373.6,168.2L376.3,170.6L374.4,168.1L371.7,165.8Z" fill="#b24d00" stroke="#b24d00"/>
<path d="M492.3,163.6L494.8,160.3L492.7,162.0L490.2,165.3Z" fill="#a75800" stroke="#a75800"/>
<path d="M465.7,187.8L468.2,186.2L466.2,187.4L463.7,189.0Z" fill="#d42b00" stroke="#d42b00" stroke-width="1.5"/>
<path d="M510.0,136.8L512.6,132.2L510.4,134.0L507.9,138.5Z" fill="#768900" stroke="#768900"/>
<path d="M356.8,145.5L359.6,148.2L357.7,144.7L354.9,141.9Z" fill="#887700" stroke="#887700"/>
<path d="M475.2,181.0L477.7,178.8L475.7,180.3L473.2,182.4Z" fill="#c73800" stroke="#c73800"/>
<path d="M437.7,197.8L440.2,197.7L438.2,198.2L435.7,198.3Z" fill="#f20d00" stroke="#f20d00"/>
<path d="M489.8,166.7L492.3,163.6L490.2,165.3L487.7,168.4Z" fill="#ac5300" stroke="#ac5300"/>
<path d="M417.2,196.5L419.8,197.3L417.9,197.1L415.3,196.3Z" fill="#f00f00" stroke="#f00f00"/>
<path d="M412.7,195.3L415.3,196.3L413.4,195.8L410.8,194.8Z" fill="#ee1100" stroke="#ee1100"/>
<path d="M512.6,132.2L515.1,127.4L512.9,129.2L510.4,134.0Z" fill="#6d9200" stroke="#6d9200"/>
<path d="M338.7,108.7L341.5,111.8L339.6,106.8L336.8,103.7Z" fill="#45ba00" stroke="#45ba00"/>
<path d="M392.8,185.5L395.5,187.2L393.6,185.8L391.0,184.1Z" fill="#d02f00" stroke="#d02f00" stroke-width="1.5"/>
<path d="M336.8,103.7L339.6,106.8L337.6,101.5L334.8,98.4Z" fill="#3cc300" stroke="#3cc300"/>
<path d="M340.6,113.6L343.5,116.7L341.5,111.8L338.7,108.7Z" fill="#4eb100" stroke="#4eb100"/>
<path d="M421.7,197.4L424.2,198.0L422.3,197.9L419.8,197.3Z" fill="#f20d00" stroke="#f20d00"/>
<path d="M367.1,160.6L369.8,163.1L368.0,160.3L365.2,157.8Z" fill="#a35c00" stroke="#a35c00"/>
<path d="M408.2,193.7L410.8,194.8L408.9,194.2L406.3,193.1Z" fill="#ec1300" stroke="#ec1300"/>
<path d="M334.8,98.4L337.6,101.5L335.7,96.1L332.8,92.9Z" fill="#32cd00" stroke="#32cd00"/>
<path d="M342.6,118.3L345.4,121.4L343.5,116.7L340.6,113.6Z" fill="#56a900" stroke="#56a900"/>
<path d="M456.2,192.7L458.7,191.7L456.7,192.7L454.2,193.8Z" fill="#e91600" stroke="#e91600"/>
<path d="M449.2,195.3L451.7,194.7L449.7,195.5L447.2,196.2Z" fill="#ee1100" stroke="#ee1100"/>
<path d="M487.3,169.6L489.8,166.7L487.7,168.4L485.2,171.3Z" fill="#b14e00" stroke="#b14e00"/>
<path d="M426.2,197.9L428.7,198.3L426.8,198.4L424.2,198.0Z" fill="#f20d00" stroke="#f20d00"/>
<path d="M332.8,92.9L335.7,96.1L333.7,90.4L330.8,87.3Z" fill="#28d700" stroke="#28d700"/>
<path d="M344.5,122.8L347.3,125.8L345.4,121.4L342.6,118.3Z" fill="#5ea100" stroke="#5ea100"/>
<path d="M515.1,127.4L517.7,122.4L515.5,124.2L512.9,129.2Z" fill="#639c00" stroke="#639c00"/>
<path d="M358.7,148.8L361.5,151.6L359.6,148.2L356.8,145.5Z" fill="#8d7200" stroke="#8d7200"/>
<path d="M403.7,191.7L406.3,193.1L404.5,192.3L401.9,190.9Z" fill="#e81700" stroke="#e81700"/>
<path d="M472.7,183.0L475.2,181.0L473.2,182.4L470.7,184.4Z" fill="#ca3500" stroke="#ca3500"/>
<path d="M463.2,189.2L465.7,187.8L463.7,189.0L461.2,190.4Z" fill="#e11e00" stroke="#e11e00" stroke-width="1.5"/>
<path d="M381.9,176.8L384.6,178.9L382.7,177.0L380.0,174.9Z" fill="#c03f00" stroke="#c03f00"/>
<path d="M442.1,197.0L444.7,196.7L442.7,197.4L440.2,197.7Z" fill="#f00f00" stroke="#f00f00"/>
<path d="M346.4,127.1L349.2,130.1L347.3,125.8L344.5,122.8Z" fill="#669900" stroke="#669900"/>
<path d="M375.5,170.5L378.2,172.8L376.3,170.6L373.6,168.2Z" fill="#b44b00" stroke="#b44b00"/>
<path d="M484.8,172.3L487.3,169.6L485.2,171.3L482.7,174.0Z" fill="#b64900" stroke="#b64900"/>
<path d="M430.6,198.0L433.2,198.2L431.2,198.5L428.7,198.3Z" fill="#f20d00" stroke="#f20d00"/>
<path d="M517.7,122.4L520.3,117.2L518.1,119.1L515.5,124.2Z" fill="#5aa500" stroke="#5aa500"/>
<path d="M388.3,182.2L391.0,184.1L389.1,182.6L386.4,180.6Z" fill="#c93600" stroke="#c93600"/>
<path d="M399.2,189.4L401.9,190.9L400.0,189.9L397.4,188.4Z" fill="#e21d00" stroke="#e21d00" stroke-width="1.5"/>
<path d="M348.3,131.2L351.1,134.2L349.2,130.1L346.4,127.1Z" fill="#6d9200" stroke="#6d9200"/>
<path d="M369.0,163.2L371.7,165.8L369.8,163.1L367.1,160.6Z" fill="#a75800" stroke="#a75800"/>
<path d="M360.6,152.0L363.4,154.8L361.5,151.6L358.7,148.8Z" fill="#926d00" stroke="#926d00"/>
<path d="M482.3,174.8L484.8,172.3L482.7,174.0L480.2,176.5Z" fill="#ba4500" stroke="#ba4500"/>
<path d="M470.2,184.7L472.7,183.0L470.7,184.4L468.2,186.2Z" fill="#cc3300" stroke="#cc3300" stroke-width="1.5"/>
<path d="M435.1,197.8L437.7,197.8L435.7,198.3L433.2,198.2Z" fill="#f00f00" stroke="#f00f00"/>
<path d="M520.3,117.2L522.9,111.9L520.7,113.7L518.1,119.1Z" fill="#4fb000" stroke="#4fb000"/>
<path d="M350.2,135.2L353.0,138.2L351.1,134.2L348.3,131.2Z" fill="#738c00" stroke="#738c00"/>
<path d="M453.7,193.6L456.2,192.7L454.2,193.8L451.7,194.7Z" fill="#e91600" stroke="#e91600"/>
<path d="M446.6,195.8L449.2,195.3L447.2,196.2L444.7,196.7Z" fill="#ed1200" stroke="#ed1200"/>
<path d="M394.7,186.6L397.4,188.4L395.5,187.2L392.8,185.5Z" fill="#dc2300" stroke="#dc2300" stroke-width="1.5"/>
<path d="M460.7,190.4L463.2,189.2L461.2,190.4L458.7,191.7Z" fill="#e21d00" stroke="#e21d00"/>
<path d="M479.8,177.2L482.3,174.8L480.2,176.5L477.7,178.8Z" fill="#bd4200" stroke="#bd4200"/>
<path d="M377.3,172.6L380.0,174.9L378.2,172.8L375.5,170.5Z" fill="#b74800" stroke="#b74800"/>
<path d="M352.1,138.9L354.9,141.9L353.0,138.2L350.2,135.2Z" fill="#7a8500" stroke="#7a8500"/>
<path d="M362.5,155.0L365.2,157.8L363.4,154.8L360.6,152.0Z" fill="#976800" stroke="#976800"/>
<path d="M383.8,178.5L386.4,180.6L384.6,178.9L381.9,176.8Z" fill="#c13e00" stroke="#c13e00"/>
<path d="M414.6,195.5L417.2,196.5L415.3,196.3L412.7,195.3Z" fill="#ec1300" stroke="#ec1300"/>
<path d="M502.0,151.3L504.6,147.5L502.4,149.4L499.9,153.2Z" fill="#8d7200" stroke="#8d7200"/>
<path d="M504.6,147.5L507.1,143.4L504.9,145.4L502.4,149.4Z" fill="#867900" stroke="#867900"/>
<path d="M419.1,196.6L421.7,197.4L419.8,197.3L417.2,196.5Z" fill="#ee1100" stroke="#ee1100"/>
<path d="M499.5,155.0L502.0,151.3L499.9,153.2L497.4,156.9Z" fill="#946b00" stroke="#946b00"/>
<path d="M410.1,194.1L412.7,195.3L410.8,194.8L408.2,193.7Z" fill="#ea1500" stroke="#ea1500"/>
<path d="M507.1,143.4L509.6,139.2L507.5,141.2L504.9,145.4Z" fill="#7f8000" stroke="#7f8000"/>
<path d="M370.9,165.7L373.6,168.2L371.7,165.8L369.0,163.2Z" fill="#aa5500" stroke="#aa5500"/>
<path d="M439.6,197.2L442.1,197.0L440.2,197.7L437.7,197.8Z" fill="#ee1100" stroke="#ee1100"/>
<path d="M497.0,158.4L499.5,155.0L497.4,156.9L494.8,160.3Z" fill="#9a6500" stroke="#9a6500"/>
<path d="M423.6,197.3L426.2,197.9L424.2,198.0L421.7,197.4Z" fill="#ef1000" stroke="#ef1000"/>
<path d="M509.6,139.2L512.2,134.8L510.0,136.8L507.5,141.2Z" fill="#778800" stroke="#778800"/>
<path d="M467.7,186.3L470.2,184.7L468.2,186.2L465.7,187.8Z" fill="#d82700" stroke="#d82700" stroke-width="1.5"/>
<path d="M405.6,192.3L408.2,193.7L406.3,193.1L403.7,191.7Z" fill="#e61900" stroke="#e61900"/>
<path d="M494.5,161.7L497.0,158.4L494.8,160.3L492.3,163.6Z" fill="#a05f00" stroke="#a05f00"/>
<path d="M390.2,183.5L392.8,185.5L391.0,184.1L388.3,182.2Z" fill="#d32c00" stroke="#d32c00" stroke-width="1.5"/>
<path d="M512.2,134.8L514.8,130.2L512.6,132.2L510.0,136.8Z" fill="#6e9100" stroke="#6e9100"/>
<path d="M477.3,179.3L479.8,177.2L477.7,178.8L475.2,181.0Z" fill="#c03f00" stroke="#c03f00" stroke-width="1.5"/>
<path d="M354.0,142.5L356.8,145.5L354.9,141.9L352.1,138.9Z" fill="#7f8000" stroke="#7f8000"/>
<path d="M428.1,197.6L430.6,198.0L428.7,198.3L426.2,197.9Z" fill="#ef1000" stroke="#ef1000"/>
<path d="M491.9,164.8L494.5,161.7L492.3,163.6L489.8,166.7Z" fill="#a55a00" stroke="#a55a00"/>
<path d="M401.1,190.2L403.7,191.7L401.9,190.9L399.2,189.4Z" fill="#e11e00" stroke="#e11e00"/>
<path d="M451.1,194.3L453.7,193.6L451.7,194.7L449.2,195.3Z" fill="#e81700" stroke="#e81700"/>
<path d="M458.2,191.5L460.7,190.4L458.7,191.7L456.2,192.7Z" fill="#e31c00" stroke="#e31c00"/>
<path d="M514.8,130.2L517.3,125.4L515.1,127.4L512.6,132.2Z" fill="#669900" stroke="#669900"/>
<path d="M364.4,157.8L367.1,160.6L365.2,157.8L362.5,155.0Z" fill="#9b6400" stroke="#9b6400"/>
<path d="M335.8,105.4L338.7,108.7L336.8,103.7L333.9,100.3Z" fill="#3cc300" stroke="#3cc300"/>
<path d="M333.9,100.3L336.8,103.7L334.8,98.4L331.9,95.1Z" fill="#32cd00" stroke="#32cd00"/>
<path d="M337.8,110.3L340.6,113.6L338.7,108.7L335.8,105.4Z" fill="#44bb00" stroke="#44bb00"/>
<path d="M331.9,95.1L334.8,98.4L332.8,92.9L329.9,89.6Z" fill="#29d600" stroke="#29d600"/>
<path d="M339.7,115.0L342.6,118.3L340.6,113.6L337.8,110.3Z" fill="#4db200" stroke="#4db200"/>
<path d="M489.4,167.7L491.9,164.8L489.8,166.7L487.3,169.6Z" fill="#aa5500" stroke="#aa5500"/>
<path d="M444.1,196.2L446.6,195.8L444.7,196.7L442.1,197.0Z" fill="#ec1300" stroke="#ec1300"/>
<path d="M432.6,197.5L435.1,197.8L433.2,198.2L430.6,198.0Z" fill="#ee1100" stroke="#ee1100"/>
<path d="M379.2,174.5L381.9,176.8L380.0,174.9L377.3,172.6Z" fill="#b84700" stroke="#b84700"/>
<path d="M355.9,145.8L358.7,148.8L356.8,145.5L354.0,142.5Z" fill="#857a00" stroke="#857a00"/>
<path d="M517.3,125.4L519.9,120.4L517.7,122.4L515.1,127.4Z" fill="#5ca300" stroke="#5ca300"/>
<path d="M329.9,89.6L332.8,92.9L330.8,87.3L328.0,83.9Z" fill="#1ee100" stroke="#1ee100"/>
<path d="M341.7,119.5L344.5,122.8L342.6,118.3L339.7,115.0Z" fill="#55aa00" stroke="#55aa00"/>
<path d="M465.2,187.8L467.7,186.3L465.7,187.8L463.2,189.2Z" fill="#da2500" stroke="#da2500"/>
<path d="M474.8,181.3L477.3,179.3L475.2,181.0L472.7,183.0Z" fill="#ca3500" stroke="#ca3500" stroke-width="1.5"/>
<path d="M372.7,167.9L375.5,170.5L373.6,168.2L370.9,165.7Z" fill="#ac5300" stroke="#ac5300"/>
<path d="M396.6,187.6L399.2,189.4L397.4,188.4L394.7,186.6Z" fill="#db2400" stroke="#db2400"/>
<path d="M385.6,180.0L388.3,182.2L386.4,180.6L383.8,178.5Z" fill="#c23d00" stroke="#c23d00" stroke-width="1.5"/>
<path d="M343.6,123.9L346.4,127.1L344.5,122.8L341.7,119.5Z" fill="#5ca300" stroke="#5ca300"/>
<path d="M486.9,170.4L489.4,167.7L487.3,169.6L484.8,172.3Z" fill="#af5000" stroke="#af5000"/>
<path d="M519.9,120.4L522.5,115.2L520.3,117.2L517.7,122.4Z" fill="#53ac00" stroke="#53ac00"/>
<path d="M437.1,197.1L439.6,197.2L437.7,197.8L435.1,197.8Z" fill="#ec1300" stroke="#ec1300"/>
<path d="M366.2,160.5L369.0,163.2L367.1,160.6L364.4,157.8Z" fill="#9e6100" stroke="#9e6100"/>
<path d="M345.5,128.0L348.3,131.2L346.4,127.1L343.6,123.9Z" fill="#639c00" stroke="#639c00"/>
<path d="M357.8,149.0L360.6,152.0L358.7,148.8L355.9,145.8Z" fill="#897600" stroke="#897600"/>
<path d="M416.5,195.6L419.1,196.6L417.2,196.5L414.6,195.5Z" fill="#ea1500" stroke="#ea1500"/>
<path d="M392.1,184.7L394.7,186.6L392.8,185.5L390.2,183.5Z" fill="#d32c00" stroke="#d32c00"/>
<path d="M455.7,192.4L458.2,191.5L456.2,192.7L453.7,193.6Z" fill="#e31c00" stroke="#e31c00"/>
<path d="M412.0,194.4L414.6,195.5L412.7,195.3L410.1,194.1Z" fill="#e81700" stroke="#e81700"/>
<path d="M484.4,173.0L486.9,170.4L484.8,172.3L482.3,174.8Z" fill="#b34c00" stroke="#b34c00"/>
<path d="M472.3,183.1L474.8,181.3L472.7,183.0L470.2,184.7Z" fill="#cd3200" stroke="#cd3200" stroke-width="1.5"/>
<path d="M448.6,194.8L451.1,194.3L449.2,195.3L446.6,195.8Z" fill="#e81700" stroke="#e81700"/>
<path d="M421.0,196.5L423.6,197.3L421.7,197.4L419.1,196.6Z" fill="#eb1400" stroke="#eb1400"/>
<path d="M407.5,192.8L410.1,194.1L408.2,193.7L405.6,192.3Z" fill="#e41b00" stroke="#e41b00"/>
<path d="M522.5,115.2L525.1,109.8L522.9,111.9L520.3,117.2Z" fill="#48b700" stroke="#48b700"/>
<path d="M347.4,131.9L350.2,135.2L348.3,131.2L345.5,128.0Z" fill="#6a9500" stroke="#6a9500"/>
<path d="M462.7,189.0L465.2,187.8L463.2,189.2L460.7,190.4Z" fill="#db2400" stroke="#db2400"/>
<path d="M425.5,197.0L428.1,197.6L426.2,197.9L423.6,197.3Z" fill="#ec1300" stroke="#ec1300"/>
<path d="M374.6,170.0L377.3,172.6L375.5,170.5L372.7,167.9Z" fill="#af5000" stroke="#af5000"/>
<path d="M381.1,176.2L383.8,178.5L381.9,176.8L379.2,174.5Z" fill="#ba4500" stroke="#ba4500" stroke-width="1.5"/>
<path d="M403.0,190.8L405.6,192.3L403.7,191.7L401.1,190.2Z" fill="#e01f00" stroke="#e01f00"/>
<path d="M441.6,196.3L444.1,196.2L442.1,197.0L439.6,197.2Z" fill="#ea1500" stroke="#ea1500"/>
<path d="M481.9,175.3L484.4,173.0L482.3,174.8L479.8,177.2Z" fill="#b64900" stroke="#b64900" stroke-width="1.5"/>
<path d="M359.7,152.0L362.5,155.0L360.6,152.0L357.8,149.0Z" fill="#8e7100" stroke="#8e7100"/>
<path d="M349.3,135.7L352.1,138.9L350.2,135.2L347.4,131.9Z" fill="#708f00" stroke="#708f00"/>
<path d="M368.1,162.9L370.9,165.7L369.0,163.2L366.2,160.5Z" fill="#a15e00" stroke="#a15e00"/>
<path d="M430.0,197.1L432.6,197.5L430.6,198.0L428.1,197.6Z" fill="#eb1400" stroke="#eb1400"/>
<path d="M504.2,149.2L506.7,145.4L504.6,147.5L502.0,151.3Z" fill="#867900" stroke="#867900"/>
<path d="M506.7,145.4L509.3,141.3L507.1,143.4L504.6,147.5Z" fill="#7f8000" stroke="#7f8000"/>
<path d="M387.5,181.4L390.2,183.5L388.3,182.2L385.6,180.0Z" fill="#c93600" stroke="#c93600" stroke-width="1.5"/>
<path d="M501.7,152.9L504.2,149.2L502.0,151.3L499.5,155.0Z" fill="#8d7200" stroke="#8d7200"/>
<path d="M509.3,141.3L511.8,137.1L509.6,139.2L507.1,143.4Z" fill="#778800" stroke="#778800"/>
<path d="M469.8,184.7L472.3,183.1L470.2,184.7L467.7,186.3Z" fill="#d02f00" stroke="#d02f00"/>
<path d="M398.5,188.4L401.1,190.2L399.2,189.4L396.6,187.6Z" fill="#da2500" stroke="#da2500"/>
<path d="M499.1,156.3L501.7,152.9L499.5,155.0L497.0,158.4Z" fill="#936c00" stroke="#936c00"/>
<path d="M511.8,137.1L514.4,132.6L512.2,134.8L509.6,139.2Z" fill="#6f9000" stroke="#6f9000"/>
<path d="M496.6,159.6L499.1,156.3L497.0,158.4L494.5,161.7Z" fill="#996600" stroke="#996600"/>
<path d="M479.4,177.5L481.9,175.3L479.8,177.2L477.3,179.3Z" fill="#bc4300" stroke="#bc4300" stroke-width="1.5"/>
<path d="M453.1,193.1L455.7,192.4L453.7,193.6L451.1,194.3Z" fill="#e21d00" stroke="#e21d00"/>
<path d="M351.2,139.3L354.0,142.5L352.1,138.9L349.3,135.7Z" fill="#768900" stroke="#768900"/>
<path d="M514.4,132.6L517.0,128.0L514.8,130.2L512.2,134.8Z" fill="#679800" stroke="#679800"/>
<path d="M434.5,196.9L437.1,197.1L435.1,197.8L432.6,197.5Z" fill="#ea1500" stroke="#ea1500"/>
<path d="M460.2,190.1L462.7,189.0L460.7,190.4L458.2,191.5Z" fill="#dc2300" stroke="#dc2300"/>
<path d="M446.1,195.1L448.6,194.8L446.6,195.8L444.1,196.2Z" fill="#e61900" stroke="#e61900"/>
<path d="M494.1,162.7L496.6,159.6L494.5,161.7L491.9,164.8Z" fill="#9e6100" stroke="#9e6100"/>
<path d="M361.6,154.9L364.4,157.8L362.5,155.0L359.7,152.0Z" fill="#926d00" stroke="#926d00"/>
<path d="M393.9,185.7L396.6,187.6L394.7,186.6L392.1,184.7Z" fill="#d32c00" stroke="#d32c00"/>
<path d="M517.0,128.0L519.5,123.2L517.3,125.4L514.8,130.2Z" fill="#5ea100" stroke="#5ea100"/>
<path d="M376.5,171.9L379.2,174.5L377.3,172.6L374.6,170.0Z" fill="#b04f00" stroke="#b04f00"/>
<path d="M333.0,101.9L335.8,105.4L333.9,100.3L331.0,96.8Z" fill="#32cd00" stroke="#32cd00"/>
<path d="M331.0,96.8L333.9,100.3L331.9,95.1L329.0,91.5Z" fill="#29d600" stroke="#29d600"/>
<path d="M334.9,106.8L337.8,110.3L335.8,105.4L333.0,101.9Z" fill="#3bc400" stroke="#3bc400"/>
<path d="M382.9,177.7L385.6,180.0L383.8,178.5L381.1,176.2Z" fill="#be4100" stroke="#be4100" stroke-width="1.5"/>
<path d="M329.0,91.5L331.9,95.1L329.9,89.6L327.0,86.0Z" fill="#1fe000" stroke="#1fe000"/>
<path d="M336.9,111.5L339.7,115.0L337.8,110.3L334.9,106.8Z" fill="#43bc00" stroke="#43bc00"/>
<path d="M491.6,165.7L494.1,162.7L491.9,164.8L489.4,167.7Z" fill="#a35c00" stroke="#a35c00"/>
<path d="M370.0,165.2L372.7,167.9L370.9,165.7L368.1,162.9Z" fill="#a45b00" stroke="#a45b00"/>
<path d="M467.3,186.1L469.8,184.7L467.7,186.3L465.2,187.8Z" fill="#d12e00" stroke="#d12e00"/>
<path d="M353.1,142.7L355.9,145.8L354.0,142.5L351.2,139.3Z" fill="#7b8400" stroke="#7b8400"/>
<path d="M413.9,194.5L416.5,195.6L414.6,195.5L412.0,194.4Z" fill="#e51a00" stroke="#e51a00"/>
<path d="M476.9,179.5L479.4,177.5L477.3,179.3L474.8,181.3Z" fill="#c03f00" stroke="#c03f00"/>
<path d="M519.5,123.2L522.1,118.2L519.9,120.4L517.3,125.4Z" fill="#55aa00" stroke="#55aa00"/>
<path d="M418.4,195.5L421.0,196.5L419.1,196.6L416.5,195.6Z" fill="#e71800" stroke="#e71800"/>
<path d="M327.0,86.0L329.9,89.6L328.0,83.9L325.1,80.3Z" fill="#15ea00" stroke="#15ea00"/>
<path d="M338.8,116.1L341.7,119.5L339.7,115.0L336.9,111.5Z" fill="#4bb400" stroke="#4bb400"/>
<path d="M409.4,193.0L412.0,194.4L410.1,194.1L407.5,192.8Z" fill="#e21d00" stroke="#e21d00"/>
<path d="M439.0,196.2L441.6,196.3L439.6,197.2L437.1,197.1Z" fill="#e81700" stroke="#e81700"/>
<path d="M422.9,196.2L425.5,197.0L423.6,197.3L421.0,196.5Z" fill="#e81700" stroke="#e81700"/>
<path d="M489.0,168.4L491.6,165.7L489.4,167.7L486.9,170.4Z" fill="#a75800" stroke="#a75800"/>
<path d="M340.7,120.4L343.6,123.9L341.7,119.5L338.8,116.1Z" fill="#53ac00" stroke="#53ac00"/>
<path d="M404.9,191.2L407.5,192.8L405.6,192.3L403.0,190.8Z" fill="#de2100" stroke="#de2100"/>
<path d="M389.4,182.6L392.1,184.7L390.2,183.5L387.5,181.4Z" fill="#c93600" stroke="#c93600"/>
<path d="M363.5,157.5L366.2,160.5L364.4,157.8L361.6,154.9Z" fill="#956a00" stroke="#956a00"/>
<path d="M522.1,118.2L524.7,113.0L522.5,115.2L519.9,120.4Z" fill="#4bb400" stroke="#4bb400"/>
<path d="M457.7,190.9L460.2,190.1L458.2,191.5L455.7,192.4Z" fill="#dc2300" stroke="#dc2300"/>
<path d="M427.4,196.5L430.0,197.1L428.1,197.6L425.5,197.0Z" fill="#e81700" stroke="#e81700"/>
<path d="M450.6,193.6L453.1,193.1L451.1,194.3L448.6,194.8Z" fill="#e11e00" stroke="#e11e00"/>
<path d="M355.0,145.9L357.8,149.0L355.9,145.8L353.1,142.7Z" fill="#807f00" stroke="#807f00"/>
<path d="M342.6,124.5L345.5,128.0L343.6,123.9L340.7,120.4Z" fill="#5aa500" stroke="#5aa500"/>
<path d="M400.3,189.0L403.0,190.8L401.1,190.2L398.5,188.4Z" fill="#d82700" stroke="#d82700"/>
<path d="M474.4,181.3L476.9,179.5L474.8,181.3L472.3,183.1Z" fill="#c33c00" stroke="#c33c00"/>
<path d="M486.5,170.9L489.0,168.4L486.9,170.4L484.4,173.0Z" fill="#ab5400" stroke="#ab5400" stroke-width="1.5"/>
<path d="M464.7,187.4L467.3,186.1L465.2,187.8L462.7,189.0Z" fill="#d32c00" stroke="#d32c00"/>
<path d="M378.3,173.6L381.1,176.2L379.2,174.5L376.5,171.9Z" fill="#b04f00" stroke="#b04f00" stroke-width="1.5"/>
<path d="M443.5,195.3L446.1,195.1L444.1,196.2L441.6,196.3Z" fill="#e41b00" stroke="#e41b00"/>
<path d="M524.7,113.0L527.3,107.6L525.1,109.8L522.5,115.2Z" fill="#41be00" stroke="#41be00"/>
<path d="M371.9,167.3L374.6,170.0L372.7,167.9L370.0,165.2Z" fill="#a65900" stroke="#a65900"/>
<path d="M344.6,128.5L347.4,131.9L345.5,128.0L342.6,124.5Z" fill="#609f00" stroke="#609f00"/>
<path d="M432.0,196.4L434.5,196.9L432.6,197.5L430.0,197.1Z" fill="#e71800" stroke="#e71800"/>
<path d="M395.8,186.5L398.5,188.4L396.6,187.6L393.9,185.7Z" fill="#d12e00" stroke="#d12e00"/>
<path d="M384.8,179.1L387.5,181.4L385.6,180.0L382.9,177.7Z" fill="#be4100" stroke="#be4100"/>
<path d="M484.0,173.3L486.5,170.9L484.4,173.0L481.9,175.3Z" fill="#ab5400" stroke="#ab5400" stroke-width="1.5"/>
<path d="M356.9,148.9L359.7,152.0L357.8,149.0L355.0,145.9Z" fill="#857a00" stroke="#857a00"/>
<path d="M365.3,160.0L368.1,162.9L366.2,160.5L363.5,157.5Z" fill="#996600" stroke="#996600"/>
<path d="M346.5,132.3L349.3,135.7L347.4,131.9L344.6,128.5Z" fill="#669900" stroke="#669900"/>
<path d="M471.8,182.9L474.4,181.3L472.3,183.1L469.8,184.7Z" fill="#c63900" stroke="#c63900"/>
<path d="M506.4,146.9L508.9,143.0L506.7,145.4L504.2,149.2Z" fill="#7e8100" stroke="#7e8100"/>
<path d="M508.9,143.0L511.5,139.0L509.3,141.3L506.7,145.4Z" fill="#778800" stroke="#778800"/>
<path d="M436.5,196.0L439.0,196.2L437.1,197.1L434.5,196.9Z" fill="#e51a00" stroke="#e51a00"/>
<path d="M503.8,150.6L506.4,146.9L504.2,149.2L501.7,152.9Z" fill="#857a00" stroke="#857a00"/>
<path d="M511.5,139.0L514.0,134.7L511.8,137.1L509.3,141.3Z" fill="#6f9000" stroke="#6f9000"/>
<path d="M455.1,191.6L457.7,190.9L455.7,192.4L453.1,193.1Z" fill="#db2400" stroke="#db2400"/>
<path d="M501.3,154.0L503.8,150.6L501.7,152.9L499.1,156.3Z" fill="#8b7400" stroke="#8b7400"/>
<path d="M514.0,134.7L516.6,130.3L514.4,132.6L511.8,137.1Z" fill="#679800" stroke="#679800"/>
<path d="M391.2,183.5L393.9,185.7L392.1,184.7L389.4,182.6Z" fill="#c93600" stroke="#c93600"/>
<path d="M448.1,193.9L450.6,193.6L448.6,194.8L446.1,195.1Z" fill="#e01f00" stroke="#e01f00"/>
<path d="M415.8,194.3L418.4,195.5L416.5,195.6L413.9,194.5Z" fill="#e11e00" stroke="#e11e00"/>
<path d="M462.2,188.4L464.7,187.4L462.7,189.0L460.2,190.1Z" fill="#d32c00" stroke="#d32c00"/>
<path d="M481.5,175.5L484.0,173.3L481.9,175.3L479.4,177.5Z" fill="#b04f00" stroke="#b04f00"/>
<path d="M411.3,193.1L413.9,194.5L412.0,194.4L409.4,193.0Z" fill="#df2000" stroke="#df2000"/>
<path d="M498.8,157.3L501.3,154.0L499.1,156.3L496.6,159.6Z" fill="#916e00" stroke="#916e00"/>
<path d="M348.4,135.9L351.2,139.3L349.3,135.7L346.5,132.3Z" fill="#6c9300" stroke="#6c9300"/>
<path d="M420.3,195.2L422.9,196.2L421.0,196.5L418.4,195.5Z" fill="#e31c00" stroke="#e31c00"/>
<path d="M516.6,130.3L519.2,125.6L517.0,128.0L514.4,132.6Z" fill="#5fa000" stroke="#5fa000"/>
<path d="M406.8,191.5L409.4,193.0L407.5,192.8L404.9,191.2Z" fill="#db2400" stroke="#db2400"/>
<path d="M373.7,169.2L376.5,171.9L374.6,170.0L371.9,167.3Z" fill="#a85700" stroke="#a85700" stroke-width="1.5"/>
<path d="M358.8,151.7L361.6,154.9L359.7,152.0L356.9,148.9Z" fill="#897600" stroke="#897600"/>
<path d="M380.2,175.2L382.9,177.7L381.1,176.2L378.3,173.6Z" fill="#b14e00" stroke="#b14e00"/>
<path d="M496.2,160.5L498.8,157.3L496.6,159.6L494.1,162.7Z" fill="#966900" stroke="#966900"/>
<path d="M424.9,195.7L427.4,196.5L425.5,197.0L422.9,196.2Z" fill="#e31c00" stroke="#e31c00"/>
<path d="M519.2,125.6L521.8,120.8L519.5,123.2L517.0,128.0Z" fill="#56a900" stroke="#56a900"/>
<path d="M441.0,195.2L443.5,195.3L441.6,196.3L439.0,196.2Z" fill="#e21d00" stroke="#e21d00"/>
<path d="M367.2,162.2L370.0,165.2L368.1,162.9L365.3,160.0Z" fill="#9b6400" stroke="#9b6400"/>
<path d="M402.2,189.5L404.9,191.2L403.0,190.8L400.3,189.0Z" fill="#d62900" stroke="#d62900"/>
<path d="M330.0,98.2L333.0,101.9L331.0,96.8L328.1,93.1Z" fill="#28d700" stroke="#28d700"/>
<path d="M469.3,184.3L471.8,182.9L469.8,184.7L467.3,186.1Z" fill="#c83700" stroke="#c83700"/>
<path d="M328.1,93.1L331.0,96.8L329.0,91.5L326.1,87.7Z" fill="#1ee100" stroke="#1ee100"/>
<path d="M332.0,103.1L334.9,106.8L333.0,101.9L330.0,98.2Z" fill="#30cf00" stroke="#30cf00"/>
<path d="M493.7,163.4L496.2,160.5L494.1,162.7L491.6,165.7Z" fill="#9b6400" stroke="#9b6400"/>
<path d="M350.3,139.2L353.1,142.7L351.2,139.3L348.4,135.9Z" fill="#728d00" stroke="#728d00"/>
<path d="M326.1,87.7L329.0,91.5L327.0,86.0L324.1,82.2Z" fill="#15ea00" stroke="#15ea00"/>
<path d="M334.0,107.8L336.9,111.5L334.9,106.8L332.0,103.1Z" fill="#39c600" stroke="#39c600"/>
<path d="M479.0,177.4L481.5,175.5L479.4,177.5L476.9,179.5Z" fill="#b44b00" stroke="#b44b00"/>
<path d="M386.7,180.2L389.4,182.6L387.5,181.4L384.8,179.1Z" fill="#be4100" stroke="#be4100"/>
<path d="M429.4,195.8L432.0,196.4L430.0,197.1L427.4,196.5Z" fill="#e31c00" stroke="#e31c00"/>
<path d="M521.8,120.8L524.4,115.7L522.1,118.2L519.5,123.2Z" fill="#4db200" stroke="#4db200"/>
<path d="M324.1,82.2L327.0,86.0L325.1,80.3L322.1,76.5Z" fill="#0af500" stroke="#0af500"/>
<path d="M335.9,112.4L338.8,116.1L336.9,111.5L334.0,107.8Z" fill="#41be00" stroke="#41be00"/>
<path d="M397.7,187.1L400.3,189.0L398.5,188.4L395.8,186.5Z" fill="#d02f00" stroke="#d02f00"/>
<path d="M452.6,192.1L455.1,191.6L453.1,193.1L450.6,193.6Z" fill="#da2500" stroke="#da2500"/>
<path d="M491.2,166.1L493.7,163.4L491.6,165.7L489.0,168.4Z" fill="#9f6000" stroke="#9f6000" stroke-width="1.5"/>
<path d="M360.7,154.3L363.5,157.5L361.6,154.9L358.8,151.7Z" fill="#8c7300" stroke="#8c7300"/>
<path d="M337.8,116.7L340.7,120.4L338.8,116.1L335.9,112.4Z" fill="#48b700" stroke="#48b700"/>
<path d="M459.7,189.3L462.2,188.4L460.2,190.1L457.7,190.9Z" fill="#d32c00" stroke="#d32c00"/>
<path d="M524.4,115.7L527.0,110.5L524.7,113.0L522.1,118.2Z" fill="#43bc00" stroke="#43bc00"/>
<path d="M433.9,195.6L436.5,196.0L434.5,196.9L432.0,196.4Z" fill="#e11e00" stroke="#e11e00"/>
<path d="M352.2,142.5L355.0,145.9L353.1,142.7L350.3,139.2Z" fill="#768900" stroke="#768900"/>
<path d="M445.5,194.0L448.1,193.9L446.1,195.1L443.5,195.3Z" fill="#de2100" stroke="#de2100"/>
<path d="M339.8,120.9L342.6,124.5L340.7,120.4L337.8,116.7Z" fill="#4fb000" stroke="#4fb000"/>
<path d="M375.6,170.9L378.3,173.6L376.5,171.9L373.7,169.2Z" fill="#a15e00" stroke="#a15e00" stroke-width="1.5"/>
<path d="M476.4,179.2L479.0,177.4L476.9,179.5L474.4,181.3Z" fill="#b84700" stroke="#b84700"/>
<path d="M393.1,184.3L395.8,186.5L393.9,185.7L391.2,183.5Z" fill="#c83700" stroke="#c83700"/>
<path d="M466.8,185.6L469.3,184.3L467.3,186.1L464.7,187.4Z" fill="#c93600" stroke="#c93600"/>
<path d="M488.6,168.7L491.2,166.1L489.0,168.4L486.5,170.9Z" fill="#986700" stroke="#986700" stroke-width="1.5"/>
<path d="M369.1,164.3L371.9,167.3L370.0,165.2L367.2,162.2Z" fill="#9d6200" stroke="#9d6200" stroke-width="1.5"/>
<path d="M382.1,176.5L384.8,179.1L382.9,177.7L380.2,175.2Z" fill="#b24d00" stroke="#b24d00"/>
<path d="M527.0,110.5L529.6,105.1L527.3,107.6L524.7,113.0Z" fill="#39c600" stroke="#39c600"/>
<path d="M341.7,124.9L344.6,128.5L342.6,124.5L339.8,120.9Z" fill="#56a900" stroke="#56a900"/>
<path d="M413.2,193.0L415.8,194.3L413.9,194.5L411.3,193.1Z" fill="#db2400" stroke="#db2400"/>
<path d="M438.4,195.0L441.0,195.2L439.0,196.2L436.5,196.0Z" fill="#df2000" stroke="#df2000"/>
<path d="M417.7,194.0L420.3,195.2L418.4,195.5L415.8,194.3Z" fill="#dd2200" stroke="#dd2200"/>
<path d="M408.7,191.5L411.3,193.1L409.4,193.0L406.8,191.5Z" fill="#d82700" stroke="#d82700"/>
<path d="M362.5,156.8L365.3,160.0L363.5,157.5L360.7,154.3Z" fill="#8f7000" stroke="#8f7000"/>
<path d="M354.1,145.5L356.9,148.9L355.0,145.9L352.2,142.5Z" fill="#7b8400" stroke="#7b8400"/>
<path d="M486.1,171.0L488.6,168.7L486.5,170.9L484.0,173.3Z" fill="#9d6200" stroke="#9d6200"/>
<path d="M422.3,194.7L424.9,195.7L422.9,196.2L420.3,195.2Z" fill="#de2100" stroke="#de2100"/>
<path d="M388.5,181.2L391.2,183.5L389.4,182.6L386.7,180.2Z" fill="#be4100" stroke="#be4100"/>
<path d="M343.6,128.6L346.5,132.3L344.6,128.5L341.7,124.9Z" fill="#5ca300" stroke="#5ca300"/>
<path d="M404.1,189.7L406.8,191.5L404.9,191.2L402.2,189.5Z" fill="#d32c00" stroke="#d32c00"/>
<path d="M473.9,180.9L476.4,179.2L474.4,181.3L471.8,182.9Z" fill="#ba4500" stroke="#ba4500"/>
<path d="M457.2,190.0L459.7,189.3L457.7,190.9L455.1,191.6Z" fill="#d32c00" stroke="#d32c00"/>
<path d="M450.1,192.5L452.6,192.1L450.6,193.6L448.1,193.9Z" fill="#d82700" stroke="#d82700"/>
<path d="M508.6,144.4L511.1,140.5L508.9,143.0L506.4,146.9Z" fill="#768900" stroke="#768900"/>
<path d="M511.1,140.5L513.7,136.4L511.5,139.0L508.9,143.0Z" fill="#6e9100" stroke="#6e9100"/>
<path d="M506.0,148.0L508.6,144.4L506.4,146.9L503.8,150.6Z" fill="#7c8300" stroke="#7c8300"/>
<path d="M426.8,195.0L429.4,195.8L427.4,196.5L424.9,195.7Z" fill="#de2100" stroke="#de2100"/>
<path d="M513.7,136.4L516.3,132.1L514.0,134.7L511.5,139.0Z" fill="#679800" stroke="#679800"/>
<path d="M464.3,186.6L466.8,185.6L464.7,187.4L462.2,188.4Z" fill="#c93600" stroke="#c93600"/>
<path d="M503.5,151.5L506.0,148.0L503.8,150.6L501.3,154.0Z" fill="#827d00" stroke="#827d00"/>
<path d="M399.6,187.5L402.2,189.5L400.3,189.0L397.7,187.1Z" fill="#cd3200" stroke="#cd3200"/>
<path d="M516.3,132.1L518.9,127.7L516.6,130.3L514.0,134.7Z" fill="#5fa000" stroke="#5fa000"/>
<path d="M483.6,173.2L486.1,171.0L484.0,173.3L481.5,175.5Z" fill="#a25d00" stroke="#a25d00"/>
<path d="M371.0,166.2L373.7,169.2L371.9,167.3L369.1,164.3Z" fill="#946b00" stroke="#946b00" stroke-width="1.5"/>
<path d="M377.5,172.4L380.2,175.2L378.3,173.6L375.6,170.9Z" fill="#a35c00" stroke="#a35c00"/>
<path d="M345.5,132.2L348.4,135.9L346.5,132.3L343.6,128.6Z" fill="#629d00" stroke="#629d00"/>
<path d="M443.0,194.0L445.5,194.0L443.5,195.3L441.0,195.2Z" fill="#db2400" stroke="#db2400"/>
<path d="M500.9,154.9L503.5,151.5L501.3,154.0L498.8,157.3Z" fill="#887700" stroke="#887700"/>
<path d="M356.0,148.3L358.8,151.7L356.9,148.9L354.1,145.5Z" fill="#7f8000" stroke="#7f8000"/>
<path d="M518.9,127.7L521.4,123.0L519.2,125.6L516.6,130.3Z" fill="#57a800" stroke="#57a800"/>
<path d="M431.3,195.0L433.9,195.6L432.0,196.4L429.4,195.8Z" fill="#dd2200" stroke="#dd2200"/>
<path d="M364.4,159.1L367.2,162.2L365.3,160.0L362.5,156.8Z" fill="#926d00" stroke="#926d00" stroke-width="1.5"/>
<path d="M498.4,158.0L500.9,154.9L498.8,157.3L496.2,160.5Z" fill="#8d7200" stroke="#8d7200"/>
<path d="M384.0,177.7L386.7,180.2L384.8,179.1L382.1,176.5Z" fill="#b24d00" stroke="#b24d00"/>
<path d="M395.0,185.0L397.7,187.1L395.8,186.5L393.1,184.3Z" fill="#c63900" stroke="#c63900"/>
<path d="M471.4,182.3L473.9,180.9L471.8,182.9L469.3,184.3Z" fill="#bc4300" stroke="#bc4300"/>
<path d="M521.4,123.0L524.0,118.2L521.8,120.8L519.2,125.6Z" fill="#4eb100" stroke="#4eb100"/>
<path d="M347.4,135.6L350.3,139.2L348.4,135.9L345.5,132.2Z" fill="#679800" stroke="#679800"/>
<path d="M481.1,175.2L483.6,173.2L481.5,175.5L479.0,177.4Z" fill="#a75800" stroke="#a75800"/>
<path d="M495.9,160.9L498.4,158.0L496.2,160.5L493.7,163.4Z" fill="#926d00" stroke="#926d00" stroke-width="1.5"/>
<path d="M454.6,190.5L457.2,190.0L455.1,191.6L452.6,192.1Z" fill="#d12e00" stroke="#d12e00"/>
<path d="M524.0,118.2L526.7,113.1L524.4,115.7L521.8,120.8Z" fill="#44bb00" stroke="#44bb00"/>
<path d="M435.9,194.5L438.4,195.0L436.5,196.0L433.9,195.6Z" fill="#db2400" stroke="#db2400"/>
<path d="M461.7,187.5L464.3,186.6L462.2,188.4L459.7,189.3Z" fill="#c93600" stroke="#c93600"/>
<path d="M357.8,151.0L360.7,154.3L358.8,151.7L356.0,148.3Z" fill="#827d00" stroke="#827d00"/>
<path d="M447.5,192.6L450.1,192.5L448.1,193.9L445.5,194.0Z" fill="#d62900" stroke="#d62900"/>
<path d="M390.4,182.0L393.1,184.3L391.2,183.5L388.5,181.2Z" fill="#bc4300" stroke="#bc4300"/>
<path d="M493.3,163.7L495.9,160.9L493.7,163.4L491.2,166.1Z" fill="#8a7500" stroke="#8a7500" stroke-width="1.5"/>
<path d="M415.1,192.7L417.7,194.0L415.8,194.3L413.2,193.0Z" fill="#d72800" stroke="#d72800"/>
<path d="M372.8,167.9L375.6,170.9L373.7,169.2L371.0,166.2Z" fill="#956a00" stroke="#956a00"/>
<path d="M410.6,191.4L413.2,193.0L411.3,193.1L408.7,191.5Z" fill="#d42b00" stroke="#d42b00"/>
<path d="M526.7,113.1L529.3,107.9L527.0,110.5L524.4,115.7Z" fill="#3bc400" stroke="#3bc400"/>
<path d="M349.3,138.8L352.2,142.5L350.3,139.2L347.4,135.6Z" fill="#6c9300" stroke="#6c9300"/>
<path d="M419.7,193.5L422.3,194.7L420.3,195.2L417.7,194.0Z" fill="#d82700" stroke="#d82700"/>
<path d="M379.3,173.8L382.1,176.5L380.2,175.2L377.5,172.4Z" fill="#a45b00" stroke="#a45b00"/>
<path d="M406.0,189.8L408.7,191.5L406.8,191.5L404.1,189.7Z" fill="#d02f00" stroke="#d02f00"/>
<path d="M366.3,161.2L369.1,164.3L367.2,162.2L364.4,159.1Z" fill="#877800" stroke="#877800" stroke-width="1.5"/>
<path d="M468.9,183.5L471.4,182.3L469.3,184.3L466.8,185.6Z" fill="#be4100" stroke="#be4100"/>
<path d="M478.6,177.0L481.1,175.2L479.0,177.4L476.4,179.2Z" fill="#ab5400" stroke="#ab5400"/>
<path d="M490.8,166.2L493.3,163.7L491.2,166.1L488.6,168.7Z" fill="#8f7000" stroke="#8f7000"/>
<path d="M424.2,194.0L426.8,195.0L424.9,195.7L422.3,194.7Z" fill="#d92600" stroke="#d92600"/>
<path d="M440.4,193.7L443.0,194.0L441.0,195.2L438.4,195.0Z" fill="#d82700" stroke="#d82700"/>
<path d="M401.5,187.8L404.1,189.7L402.2,189.5L399.6,187.5Z" fill="#ca3500" stroke="#ca3500"/>
<path d="M529.3,107.9L531.9,102.4L529.6,105.1L527.0,110.5Z" fill="#30cf00" stroke="#30cf00"/>
<path d="M385.8,178.7L388.5,181.2L386.7,180.2L384.0,177.7Z" fill="#b14e00" stroke="#b14e00"/>
<path d="M359.7,153.4L362.5,156.8L360.7,154.3L357.8,151.0Z" fill="#857a00" stroke="#857a00"/>
<path d="M428.8,194.2L431.3,195.0L429.4,195.8L426.8,195.0Z" fill="#d82700" stroke="#d82700"/>
<path d="M351.2,141.9L354.1,145.5L352.2,142.5L349.3,138.8Z" fill="#718e00" stroke="#718e00"/>
<path d="M459.2,188.2L461.7,187.5L459.7,189.3L457.2,190.0Z" fill="#c93600" stroke="#c93600"/>
<path d="M488.3,168.6L490.8,166.2L488.6,168.7L486.1,171.0Z" fill="#936c00" stroke="#936c00"/>
<path d="M452.1,190.8L454.6,190.5L452.6,192.1L450.1,192.5Z" fill="#d02f00" stroke="#d02f00"/>
<path d="M396.9,185.4L399.6,187.5L397.7,187.1L395.0,185.0Z" fill="#c33c00" stroke="#c33c00"/>
<path d="M476.0,178.6L478.6,177.0L476.4,179.2L473.9,180.9Z" fill="#ad5200" stroke="#ad5200"/>
<path d="M466.3,184.6L468.9,183.5L466.8,185.6L464.3,186.6Z" fill="#be4100" stroke="#be4100"/>
<path d="M445.0,192.5L447.5,192.6L445.5,194.0L443.0,194.0Z" fill="#d32c00" stroke="#d32c00"/>
<path d="M374.7,169.5L377.5,172.4L375.6,170.9L372.8,167.9Z" fill="#966900" stroke="#966900"/>
<path d="M433.3,193.9L435.9,194.5L433.9,195.6L431.3,195.0Z" fill="#d72800" stroke="#d72800"/>
<path d="M510.8,141.6L513.4,137.7L511.1,140.5L508.6,144.4Z" fill="#6d9200" stroke="#6d9200"/>
<path d="M513.4,137.7L516.0,133.6L513.7,136.4L511.1,140.5Z" fill="#669900" stroke="#669900"/>
<path d="M368.2,163.1L371.0,166.2L369.1,164.3L366.3,161.2Z" fill="#897600" stroke="#897600"/>
<path d="M508.3,145.3L510.8,141.6L508.6,144.4L506.0,148.0Z" fill="#738c00" stroke="#738c00"/>
<path d="M516.0,133.6L518.5,129.3L516.3,132.1L513.7,136.4Z" fill="#5ea100" stroke="#5ea100"/>
<path d="M392.3,182.6L395.0,185.0L393.1,184.3L390.4,182.0Z" fill="#ba4500" stroke="#ba4500"/>
<path d="M505.7,148.8L508.3,145.3L506.0,148.0L503.5,151.5Z" fill="#7a8500" stroke="#7a8500"/>
<path d="M485.7,170.8L488.3,168.6L486.1,171.0L483.6,173.2Z" fill="#966900" stroke="#966900"/>
<path d="M518.5,129.3L521.1,124.9L518.9,127.7L516.3,132.1Z" fill="#56a900" stroke="#56a900"/>
<path d="M381.2,174.9L384.0,177.7L382.1,176.5L379.3,173.8Z" fill="#a45b00" stroke="#a45b00"/>
<path d="M353.1,144.7L356.0,148.3L354.1,145.5L351.2,141.9Z" fill="#758a00" stroke="#758a00"/>
<path d="M503.1,152.1L505.7,148.8L503.5,151.5L500.9,154.9Z" fill="#7f8000" stroke="#7f8000" stroke-width="1.5"/>
<path d="M361.6,155.7L364.4,159.1L362.5,156.8L359.7,153.4Z" fill="#887700" stroke="#887700" stroke-width="1.5"/>
<path d="M521.1,124.9L523.7,120.2L521.4,123.0L518.9,127.7Z" fill="#4eb100" stroke="#4eb100"/>
<path d="M473.5,180.1L476.0,178.6L473.9,180.9L471.4,182.3Z" fill="#b04f00" stroke="#b04f00"/>
<path d="M500.6,155.3L503.1,152.1L500.9,154.9L498.4,158.0Z" fill="#857a00" stroke="#857a00" stroke-width="1.5"/>
<path d="M437.9,193.3L440.4,193.7L438.4,195.0L435.9,194.5Z" fill="#d42b00" stroke="#d42b00"/>
<path d="M412.5,191.1L415.1,192.7L413.2,193.0L410.6,191.4Z" fill="#cf3000" stroke="#cf3000"/>
<path d="M417.0,192.2L419.7,193.5L417.7,194.0L415.1,192.7Z" fill="#d12e00" stroke="#d12e00"/>
<path d="M523.7,120.2L526.3,115.3L524.0,118.2L521.4,123.0Z" fill="#45ba00" stroke="#45ba00"/>
<path d="M407.9,189.6L410.6,191.4L408.7,191.5L406.0,189.8Z" fill="#cb3400" stroke="#cb3400"/>
<path d="M456.7,188.7L459.2,188.2L457.2,190.0L454.6,190.5Z" fill="#c83700" stroke="#c83700"/>
<path d="M483.2,172.8L485.7,170.8L483.6,173.2L481.1,175.2Z" fill="#996600" stroke="#996600"/>
<path d="M387.7,179.5L390.4,182.0L388.5,181.2L385.8,178.7Z" fill="#b04f00" stroke="#b04f00"/>
<path d="M421.6,192.9L424.2,194.0L422.3,194.7L419.7,193.5Z" fill="#d32c00" stroke="#d32c00"/>
<path d="M449.5,191.0L452.1,190.8L450.1,192.5L447.5,192.6Z" fill="#cd3200" stroke="#cd3200"/>
<path d="M498.1,158.2L500.6,155.3L498.4,158.0L495.9,160.9Z" fill="#7b8400" stroke="#7b8400" stroke-width="1.5"/>
<path d="M403.4,187.8L406.0,189.8L404.1,189.7L401.5,187.8Z" fill="#c63900" stroke="#c63900"/>
<path d="M463.8,185.5L466.3,184.6L464.3,186.6L461.7,187.5Z" fill="#be4100" stroke="#be4100"/>
<path d="M526.3,115.3L528.9,110.3L526.7,113.1L524.0,118.2Z" fill="#3cc300" stroke="#3cc300"/>
<path d="M355.0,147.4L357.8,151.0L356.0,148.3L353.1,144.7Z" fill="#788700" stroke="#788700"/>
<path d="M370.0,164.8L372.8,167.9L371.0,166.2L368.2,163.1Z" fill="#8b7400" stroke="#8b7400"/>
<path d="M426.2,193.2L428.8,194.2L426.8,195.0L424.2,194.0Z" fill="#d32c00" stroke="#d32c00"/>
<path d="M376.6,170.8L379.3,173.8L377.5,172.4L374.7,169.5Z" fill="#976800" stroke="#976800"/>
<path d="M398.8,185.6L401.5,187.8L399.6,187.5L396.9,185.4Z" fill="#c03f00" stroke="#c03f00"/>
<path d="M495.5,161.0L498.1,158.2L495.9,160.9L493.3,163.7Z" fill="#807f00" stroke="#807f00"/>
<path d="M442.4,192.3L445.0,192.5L443.0,194.0L440.4,193.7Z" fill="#d02f00" stroke="#d02f00"/>
<path d="M363.5,157.8L366.3,161.2L364.4,159.1L361.6,155.7Z" fill="#7c8300" stroke="#7c8300"/>
<path d="M528.9,110.3L531.6,105.0L529.3,107.9L526.7,113.1Z" fill="#32cd00" stroke="#32cd00"/>
<path d="M471.0,181.3L473.5,180.1L471.4,182.3L468.9,183.5Z" fill="#b14e00" stroke="#b14e00"/>
<path d="M480.7,174.6L483.2,172.8L481.1,175.2L478.6,177.0Z" fill="#9c6300" stroke="#9c6300"/>
<path d="M430.7,193.1L433.3,193.9L431.3,195.0L428.8,194.2Z" fill="#d12e00" stroke="#d12e00"/>
<path d="M383.1,175.9L385.8,178.7L384.0,177.7L381.2,174.9Z" fill="#a35c00" stroke="#a35c00"/>
<path d="M493.0,163.5L495.5,161.0L493.3,163.7L490.8,166.2Z" fill="#857a00" stroke="#857a00"/>
<path d="M394.2,183.0L396.9,185.4L395.0,185.0L392.3,182.6Z" fill="#b84700" stroke="#b84700"/>
<path d="M531.6,105.0L534.2,99.5L531.9,102.4L529.3,107.9Z" fill="#28d700" stroke="#28d700"/>
<path d="M356.9,149.8L359.7,153.4L357.8,151.0L355.0,147.4Z" fill="#7b8400" stroke="#7b8400" stroke-width="1.5"/>
<path d="M454.1,189.0L456.7,188.7L454.6,190.5L452.1,190.8Z" fill="#c63900" stroke="#c63900"/>
<path d="M461.3,186.2L463.8,185.5L461.7,187.5L459.2,188.2Z" fill="#be4100" stroke="#be4100"/>
<path d="M435.3,192.7L437.9,193.3L435.9,194.5L433.3,193.9Z" fill="#cf3000" stroke="#cf3000"/>
<path d="M490.4,165.9L493.0,163.5L490.8,166.2L488.3,168.6Z" fill="#897600" stroke="#897600"/>
<path d="M447.0,190.9L449.5,191.0L447.5,192.6L445.0,192.5Z" fill="#ca3500" stroke="#ca3500"/>
<path d="M478.1,176.2L480.7,174.6L478.6,177.0L476.0,178.6Z" fill="#9f6000" stroke="#9f6000"/>
<path d="M371.9,166.3L374.7,169.5L372.8,167.9L370.0,164.8Z" fill="#8c7300" stroke="#8c7300"/>
<path d="M389.6,180.1L392.3,182.6L390.4,182.0L387.7,179.5Z" fill="#ad5200" stroke="#ad5200"/>
<path d="M468.4,182.4L471.0,181.3L468.9,183.5L466.3,184.6Z" fill="#b24d00" stroke="#b24d00"/>
<path d="M365.4,159.7L368.2,163.1L366.3,161.2L363.5,157.8Z" fill="#7e8100" stroke="#7e8100"/>
<path d="M414.4,190.6L417.0,192.2L415.1,192.7L412.5,191.1Z" fill="#c93600" stroke="#c93600"/>
<path d="M378.5,172.0L381.2,174.9L379.3,173.8L376.6,170.8Z" fill="#976800" stroke="#976800"/>
<path d="M409.8,189.3L412.5,191.1L410.6,191.4L407.9,189.6Z" fill="#c63900" stroke="#c63900"/>
<path d="M419.0,191.5L421.6,192.9L419.7,193.5L417.0,192.2Z" fill="#cb3400" stroke="#cb3400"/>
<path d="M513.1,138.7L515.6,134.8L513.4,137.7L510.8,141.6Z" fill="#639c00" stroke="#639c00"/>
<path d="M515.6,134.8L518.2,130.6L516.0,133.6L513.4,137.7Z" fill="#5ca300" stroke="#5ca300"/>
<path d="M405.3,187.7L407.9,189.6L406.0,189.8L403.4,187.8Z" fill="#c23d00" stroke="#c23d00"/>
<path d="M510.5,142.4L513.1,138.7L510.8,141.6L508.3,145.3Z" fill="#6a9500" stroke="#6a9500"/>
<path d="M518.2,130.6L520.8,126.4L518.5,129.3L516.0,133.6Z" fill="#55aa00" stroke="#55aa00"/>
<path d="M487.9,168.1L490.4,165.9L488.3,168.6L485.7,170.8Z" fill="#8c7300" stroke="#8c7300"/>
<path d="M439.8,191.8L442.4,192.3L440.4,193.7L437.9,193.3Z" fill="#cb3400" stroke="#cb3400"/>
<path d="M507.9,145.9L510.5,142.4L508.3,145.3L505.7,148.8Z" fill="#708f00" stroke="#708f00" stroke-width="1.5"/>
<path d="M423.5,192.0L426.2,193.2L424.2,194.0L421.6,192.9Z" fill="#cc3300" stroke="#cc3300"/>
<path d="M358.8,152.1L361.6,155.7L359.7,153.4L356.9,149.8Z" fill="#6e9100" stroke="#6e9100" stroke-width="1.5"/>
<path d="M520.8,126.4L523.4,121.9L521.1,124.9L518.5,129.3Z" fill="#4db200" stroke="#4db200"/>
<path d="M400.7,185.7L403.4,187.8L401.5,187.8L398.8,185.6Z" fill="#bc4300" stroke="#bc4300"/>
<path d="M505.4,149.2L507.9,145.9L505.7,148.8L503.1,152.1Z" fill="#669900" stroke="#669900" stroke-width="1.5"/>
<path d="M385.0,176.7L387.7,179.5L385.8,178.7L383.1,175.9Z" fill="#a15e00" stroke="#a15e00"/>
<path d="M523.4,121.9L526.0,117.2L523.7,120.2L521.1,124.9Z" fill="#44bb00" stroke="#44bb00"/>
<path d="M475.6,177.6L478.1,176.2L476.0,178.6L473.5,180.1Z" fill="#a15e00" stroke="#a15e00"/>
<path d="M458.7,186.7L461.3,186.2L459.2,188.2L456.7,188.7Z" fill="#bc4300" stroke="#bc4300"/>
<path d="M428.1,192.1L430.7,193.1L428.8,194.2L426.2,193.2Z" fill="#cb3400" stroke="#cb3400"/>
<path d="M451.6,189.1L454.1,189.0L452.1,190.8L449.5,191.0Z" fill="#c33c00" stroke="#c33c00"/>
<path d="M502.8,152.4L505.4,149.2L503.1,152.1L500.6,155.3Z" fill="#6b9400" stroke="#6b9400"/>
<path d="M526.0,117.2L528.6,112.3L526.3,115.3L523.7,120.2Z" fill="#3cc300" stroke="#3cc300"/>
<path d="M396.1,183.3L398.8,185.6L396.9,185.4L394.2,183.0Z" fill="#b44b00" stroke="#b44b00"/>
<path d="M465.9,183.2L468.4,182.4L466.3,184.6L463.8,185.5Z" fill="#b24d00" stroke="#b24d00"/>
<path d="M485.4,170.1L487.9,168.1L485.7,170.8L483.2,172.8Z" fill="#8f7000" stroke="#8f7000"/>
<path d="M500.3,155.3L502.8,152.4L500.6,155.3L498.1,158.2Z" fill="#718e00" stroke="#718e00"/>
<path d="M367.2,161.4L370.0,164.8L368.2,163.1L365.4,159.7Z" fill="#807f00" stroke="#807f00"/>
<path d="M373.8,167.7L376.6,170.8L374.7,169.5L371.9,166.3Z" fill="#8c7300" stroke="#8c7300"/>
<path d="M444.4,190.6L447.0,190.9L445.0,192.5L442.4,192.3Z" fill="#c63900" stroke="#c63900"/>
<path d="M528.6,112.3L531.3,107.2L528.9,110.3L526.3,115.3Z" fill="#32cd00" stroke="#32cd00"/>
<path d="M432.7,191.8L435.3,192.7L433.3,193.9L430.7,193.1Z" fill="#c93600" stroke="#c93600"/>
<path d="M360.6,154.2L363.5,157.8L361.6,155.7L358.8,152.1Z" fill="#718e00" stroke="#718e00"/>
<path d="M391.5,180.5L394.2,183.0L392.3,182.6L389.6,180.1Z" fill="#ab5400" stroke="#ab5400"/>
<path d="M380.3,173.0L383.1,175.9L381.2,174.9L378.5,172.0Z" fill="#966900" stroke="#966900"/>
<path d="M497.7,158.1L500.3,155.3L498.1,158.2L495.5,161.0Z" fill="#768900" stroke="#768900"/>
<path d="M473.1,178.9L475.6,177.6L473.5,180.1L471.0,181.3Z" fill="#a35c00" stroke="#a35c00"/>
<path d="M531.3,107.2L533.9,101.9L531.6,105.0L528.9,110.3Z" fill="#29d600" stroke="#29d600"/>
<path d="M482.8,171.9L485.4,170.1L483.2,172.8L480.7,174.6Z" fill="#926d00" stroke="#926d00"/>
<path d="M437.3,191.2L439.8,191.8L437.9,193.3L435.3,192.7Z" fill="#c63900" stroke="#c63900"/>
<path d="M456.2,187.0L458.7,186.7L456.7,188.7L454.1,189.0Z" fill="#ba4500" stroke="#ba4500"/>
<path d="M495.2,160.7L497.7,158.1L495.5,161.0L493.0,163.5Z" fill="#7a8500" stroke="#7a8500"/>
<path d="M411.8,188.8L414.4,190.6L412.5,191.1L409.8,189.3Z" fill="#c03f00" stroke="#c03f00"/>
<path d="M416.3,189.9L419.0,191.5L417.0,192.2L414.4,190.6Z" fill="#c33c00" stroke="#c33c00"/>
<path d="M463.3,183.9L465.9,183.2L463.8,185.5L461.3,186.2Z" fill="#b14e00" stroke="#b14e00"/>
<path d="M407.2,187.4L409.8,189.3L407.9,189.6L405.3,187.7Z" fill="#bc4300" stroke="#bc4300"/>
<path d="M533.9,101.9L536.6,96.4L534.2,99.5L531.6,105.0Z" fill="#1ee100" stroke="#1ee100"/>
<path d="M386.9,177.3L389.6,180.1L387.7,179.5L385.0,176.7Z" fill="#9f6000" stroke="#9f6000"/>
<path d="M449.0,189.1L451.6,189.1L449.5,191.0L447.0,190.9Z" fill="#c03f00" stroke="#c03f00"/>
<path d="M420.9,190.6L423.5,192.0L421.6,192.9L419.0,191.5Z" fill="#c43b00" stroke="#c43b00"/>
<path d="M402.6,185.5L405.3,187.7L403.4,187.8L400.7,185.7Z" fill="#b74800" stroke="#b74800"/>
<path d="M369.1,163.0L371.9,166.3L370.0,164.8L367.2,161.4Z" fill="#817e00" stroke="#817e00"/>
<path d="M480.3,173.5L482.8,171.9L480.7,174.6L478.1,176.2Z" fill="#946b00" stroke="#946b00"/>
<path d="M492.6,163.0L495.2,160.7L493.0,163.5L490.4,165.9Z" fill="#7e8100" stroke="#7e8100"/>
<path d="M375.7,168.8L378.5,172.0L376.6,170.8L373.8,167.7Z" fill="#8c7300" stroke="#8c7300"/>
<path d="M470.5,179.9L473.1,178.9L471.0,181.3L468.4,182.4Z" fill="#a45b00" stroke="#a45b00"/>
<path d="M362.5,156.1L365.4,159.7L363.5,157.8L360.6,154.2Z" fill="#738c00" stroke="#738c00"/>
<path d="M425.5,190.9L428.1,192.1L426.2,193.2L423.5,192.0Z" fill="#c43b00" stroke="#c43b00"/>
<path d="M398.0,183.3L400.7,185.7L398.8,185.6L396.1,183.3Z" fill="#b04f00" stroke="#b04f00"/>
<path d="M441.8,190.2L444.4,190.6L442.4,192.3L439.8,191.8Z" fill="#c23d00" stroke="#c23d00"/>
<path d="M382.2,173.8L385.0,176.7L383.1,175.9L380.3,173.0Z" fill="#956a00" stroke="#956a00"/>
<path d="M430.1,190.8L432.7,191.8L430.7,193.1L428.1,192.1Z" fill="#c33c00" stroke="#c33c00"/>
<path d="M515.3,135.5L517.9,131.6L515.6,134.8L513.1,138.7Z" fill="#5aa500" stroke="#5aa500"/>
<path d="M517.9,131.6L520.5,127.4L518.2,130.6L515.6,134.8Z" fill="#53ac00" stroke="#53ac00"/>
<path d="M512.8,139.2L515.3,135.5L513.1,138.7L510.5,142.4Z" fill="#609f00" stroke="#609f00" stroke-width="1.5"/>
<path d="M490.1,165.2L492.6,163.0L490.4,165.9L487.9,168.1Z" fill="#827d00" stroke="#827d00"/>
<path d="M520.5,127.4L523.1,123.1L520.8,126.4L518.2,130.6Z" fill="#4bb400" stroke="#4bb400"/>
<path d="M393.4,180.7L396.1,183.3L394.2,183.0L391.5,180.5Z" fill="#a75800" stroke="#a75800"/>
<path d="M510.2,142.8L512.8,139.2L510.5,142.4L507.9,145.9Z" fill="#54ab00" stroke="#54ab00" stroke-width="1.5"/>
<path d="M523.1,123.1L525.7,118.6L523.4,121.9L520.8,126.4Z" fill="#43bc00" stroke="#43bc00"/>
<path d="M460.8,184.4L463.3,183.9L461.3,186.2L458.7,186.7Z" fill="#b04f00" stroke="#b04f00"/>
<path d="M453.6,187.1L456.2,187.0L454.1,189.0L451.6,189.1Z" fill="#b84700" stroke="#b84700"/>
<path d="M477.7,175.0L480.3,173.5L478.1,176.2L475.6,177.6Z" fill="#956a00" stroke="#956a00"/>
<path d="M507.6,146.1L510.2,142.8L507.9,145.9L505.4,149.2Z" fill="#5ba400" stroke="#5ba400"/>
<path d="M525.7,118.6L528.4,113.9L526.0,117.2L523.4,121.9Z" fill="#3bc400" stroke="#3bc400"/>
<path d="M434.7,190.4L437.3,191.2L435.3,192.7L432.7,191.8Z" fill="#c03f00" stroke="#c03f00"/>
<path d="M468.0,180.8L470.5,179.9L468.4,182.4L465.9,183.2Z" fill="#a45b00" stroke="#a45b00"/>
<path d="M446.4,188.8L449.0,189.1L447.0,190.9L444.4,190.6Z" fill="#bc4300" stroke="#bc4300"/>
<path d="M505.1,149.3L507.6,146.1L505.4,149.2L502.8,152.4Z" fill="#619e00" stroke="#619e00"/>
<path d="M371.0,164.3L373.8,167.7L371.9,166.3L369.1,163.0Z" fill="#817e00" stroke="#817e00"/>
<path d="M364.4,157.8L367.2,161.4L365.4,159.7L362.5,156.1Z" fill="#748b00" stroke="#748b00"/>
<path d="M487.5,167.2L490.1,165.2L487.9,168.1L485.4,170.1Z" fill="#857a00" stroke="#857a00"/>
<path d="M528.4,113.9L531.0,109.0L528.6,112.3L526.0,117.2Z" fill="#32cd00" stroke="#32cd00"/>
<path d="M388.7,177.7L391.5,180.5L389.6,180.1L386.9,177.3Z" fill="#9c6300" stroke="#9c6300"/>
<path d="M377.5,169.8L380.3,173.0L378.5,172.0L375.7,168.8Z" fill="#8c7300" stroke="#8c7300"/>
<path d="M502.5,152.2L505.1,149.3L502.8,152.4L500.3,155.3Z" fill="#669900" stroke="#669900"/>
<path d="M413.7,188.1L416.3,189.9L414.4,190.6L411.8,188.8Z" fill="#ba4500" stroke="#ba4500"/>
<path d="M409.1,186.9L411.8,188.8L409.8,189.3L407.2,187.4Z" fill="#b64900" stroke="#b64900"/>
<path d="M531.0,109.0L533.6,103.9L531.3,107.2L528.6,112.3Z" fill="#29d600" stroke="#29d600"/>
<path d="M418.3,189.0L420.9,190.6L419.0,191.5L416.3,189.9Z" fill="#bc4300" stroke="#bc4300"/>
<path d="M404.5,185.2L407.2,187.4L405.3,187.7L402.6,185.5Z" fill="#b14e00" stroke="#b14e00"/>
<path d="M475.2,176.2L477.7,175.0L475.6,177.6L473.1,178.9Z" fill="#966900" stroke="#966900"/>
<path d="M439.3,189.6L441.8,190.2L439.8,191.8L437.3,191.2Z" fill="#bc4300" stroke="#bc4300"/>
<path d="M499.9,155.0L502.5,152.2L500.3,155.3L497.7,158.1Z" fill="#6b9400" stroke="#6b9400"/>
<path d="M422.9,189.5L425.5,190.9L423.5,192.0L420.9,190.6Z" fill="#bc4300" stroke="#bc4300"/>
<path d="M485.0,169.1L487.5,167.2L485.4,170.1L482.8,171.9Z" fill="#877800" stroke="#877800"/>
<path d="M533.6,103.9L536.3,98.6L533.9,101.9L531.3,107.2Z" fill="#1fe000" stroke="#1fe000"/>
<path d="M399.9,183.2L402.6,185.5L400.7,185.7L398.0,183.3Z" fill="#ab5400" stroke="#ab5400"/>
<path d="M458.2,184.7L460.8,184.4L458.7,186.7L456.2,187.0Z" fill="#ad5200" stroke="#ad5200"/>
<path d="M384.1,174.4L386.9,177.3L385.0,176.7L382.2,173.8Z" fill="#946b00" stroke="#946b00"/>
<path d="M451.0,187.0L453.6,187.1L451.6,189.1L449.0,189.1Z" fill="#b44b00" stroke="#b44b00"/>
<path d="M465.4,181.5L468.0,180.8L465.9,183.2L463.3,183.9Z" fill="#a35c00" stroke="#a35c00"/>
<path d="M427.5,189.6L430.1,190.8L428.1,192.1L425.5,190.9Z" fill="#bc4300" stroke="#bc4300"/>
<path d="M497.4,157.6L499.9,155.0L497.7,158.1L495.2,160.7Z" fill="#6f9000" stroke="#6f9000"/>
<path d="M395.3,180.8L398.0,183.3L396.1,183.3L393.4,180.7Z" fill="#a25d00" stroke="#a25d00"/>
<path d="M366.3,159.4L369.1,163.0L367.2,161.4L364.4,157.8Z" fill="#758a00" stroke="#758a00"/>
<path d="M536.3,98.6L538.9,93.0L536.6,96.4L533.9,101.9Z" fill="#15ea00" stroke="#15ea00"/>
<path d="M372.9,165.5L375.7,168.8L373.8,167.7L371.0,164.3Z" fill="#817e00" stroke="#817e00"/>
<path d="M443.9,188.4L446.4,188.8L444.4,190.6L441.8,190.2Z" fill="#b74800" stroke="#b74800"/>
<path d="M472.6,177.3L475.2,176.2L473.1,178.9L470.5,179.9Z" fill="#976800" stroke="#976800"/>
<path d="M482.4,170.7L485.0,169.1L482.8,171.9L480.3,173.5Z" fill="#897600" stroke="#897600"/>
<path d="M432.1,189.4L434.7,190.4L432.7,191.8L430.1,190.8Z" fill="#ba4500" stroke="#ba4500"/>
<path d="M494.8,160.0L497.4,157.6L495.2,160.7L492.6,163.0Z" fill="#738c00" stroke="#738c00"/>
<path d="M379.4,170.6L382.2,173.8L380.3,173.0L377.5,169.8Z" fill="#8b7400" stroke="#8b7400"/>
<path d="M390.6,178.0L393.4,180.7L391.5,180.5L388.7,177.7Z" fill="#996600" stroke="#996600"/>
<path d="M455.7,184.9L458.2,184.7L456.2,187.0L453.6,187.1Z" fill="#ab5400" stroke="#ab5400"/>
<path d="M462.9,182.0L465.4,181.5L463.3,183.9L460.8,184.4Z" fill="#a15e00" stroke="#a15e00"/>
<path d="M492.3,162.2L494.8,160.0L492.6,163.0L490.1,165.2Z" fill="#778800" stroke="#778800"/>
<path d="M517.6,132.1L520.2,128.2L517.9,131.6L515.3,135.5Z" fill="#4fb000" stroke="#4fb000" stroke-width="1.5"/>
<path d="M520.2,128.2L522.8,124.0L520.5,127.4L517.9,131.6Z" fill="#48b700" stroke="#48b700"/>
<path d="M436.7,188.7L439.3,189.6L437.3,191.2L434.7,190.4Z" fill="#b64900" stroke="#b64900"/>
<path d="M515.1,135.8L517.6,132.1L515.3,135.5L512.8,139.2Z" fill="#42bd00" stroke="#42bd00" stroke-width="1.5"/>
<path d="M522.8,124.0L525.5,119.7L523.1,123.1L520.5,127.4Z" fill="#41be00" stroke="#41be00"/>
<path d="M512.5,139.4L515.1,135.8L512.8,139.2L510.2,142.8Z" fill="#49b600" stroke="#49b600"/>
<path d="M479.9,172.1L482.4,170.7L480.3,173.5L477.7,175.0Z" fill="#8b7400" stroke="#8b7400"/>
<path d="M411.0,186.1L413.7,188.1L411.8,188.8L409.1,186.9Z" fill="#af5000" stroke="#af5000"/>
<path d="M448.5,186.8L451.0,187.0L449.0,189.1L446.4,188.8Z" fill="#b04f00" stroke="#b04f00"/>
<path d="M525.5,119.7L528.1,115.2L525.7,118.6L523.1,123.1Z" fill="#39c600" stroke="#39c600"/>
<path d="M415.6,187.2L418.3,189.0L416.3,189.9L413.7,188.1Z" fill="#b24d00" stroke="#b24d00"/>
<path d="M386.0,174.8L388.7,177.7L386.9,177.3L384.1,174.4Z" fill="#926d00" stroke="#926d00"/>
<path d="M406.4,184.7L409.1,186.9L407.2,187.4L404.5,185.2Z" fill="#ab5400" stroke="#ab5400"/>
<path d="M368.1,160.7L371.0,164.3L369.1,163.0L366.3,159.4Z" fill="#768900" stroke="#768900"/>
<path d="M509.9,142.8L512.5,139.4L510.2,142.8L507.6,146.1Z" fill="#4fb000" stroke="#4fb000"/>
<path d="M470.1,178.2L472.6,177.3L470.5,179.9L468.0,180.8Z" fill="#976800" stroke="#976800"/>
<path d="M420.2,187.9L422.9,189.5L420.9,190.6L418.3,189.0Z" fill="#b34c00" stroke="#b34c00"/>
<path d="M528.1,115.2L530.7,110.4L528.4,113.9L525.7,118.6Z" fill="#30cf00" stroke="#30cf00"/>
<path d="M401.8,182.8L404.5,185.2L402.6,185.5L399.9,183.2Z" fill="#a45b00" stroke="#a45b00"/>
<path d="M374.7,166.4L377.5,169.8L375.7,168.8L372.9,165.5Z" fill="#817e00" stroke="#817e00"/>
<path d="M507.3,145.9L509.9,142.8L507.6,146.1L505.1,149.3Z" fill="#55aa00" stroke="#55aa00"/>
<path d="M489.7,164.2L492.3,162.2L490.1,165.2L487.5,167.2Z" fill="#7a8500" stroke="#7a8500"/>
<path d="M530.7,110.4L533.3,105.5L531.0,109.0L528.4,113.9Z" fill="#28d700" stroke="#28d700"/>
<path d="M424.8,188.2L427.5,189.6L425.5,190.9L422.9,189.5Z" fill="#b34c00" stroke="#b34c00"/>
<path d="M441.3,187.7L443.9,188.4L441.8,190.2L439.3,189.6Z" fill="#b14e00" stroke="#b14e00"/>
<path d="M397.2,180.6L399.9,183.2L398.0,183.3L395.3,180.8Z" fill="#9d6200" stroke="#9d6200"/>
<path d="M504.7,148.9L507.3,145.9L505.1,149.3L502.5,152.2Z" fill="#5ba400" stroke="#5ba400"/>
<path d="M533.3,105.5L536.0,100.4L533.6,103.9L531.0,109.0Z" fill="#1ee100" stroke="#1ee100"/>
<path d="M381.3,171.2L384.1,174.4L382.2,173.8L379.4,170.6Z" fill="#897600" stroke="#897600"/>
<path d="M477.3,173.4L479.9,172.1L477.7,175.0L475.2,176.2Z" fill="#8c7300" stroke="#8c7300"/>
<path d="M429.4,188.2L432.1,189.4L430.1,190.8L427.5,189.6Z" fill="#b24d00" stroke="#b24d00"/>
<path d="M460.3,182.3L462.9,182.0L460.8,184.4L458.2,184.7Z" fill="#9f6000" stroke="#9f6000"/>
<path d="M453.1,184.8L455.7,184.9L453.6,187.1L451.0,187.0Z" fill="#a75800" stroke="#a75800"/>
<path d="M502.2,151.7L504.7,148.9L502.5,152.2L499.9,155.0Z" fill="#609f00" stroke="#609f00"/>
<path d="M392.5,178.0L395.3,180.8L393.4,180.7L390.6,178.0Z" fill="#966900" stroke="#966900"/>
<path d="M487.2,166.0L489.7,164.2L487.5,167.2L485.0,169.1Z" fill="#7c8300" stroke="#7c8300"/>
<path d="M536.0,100.4L538.7,95.0L536.3,98.6L533.6,103.9Z" fill="#15ea00" stroke="#15ea00"/>
<path d="M467.5,178.9L470.1,178.2L468.0,180.8L465.4,181.5Z" fill="#966900" stroke="#966900"/>
<path d="M370.0,161.9L372.9,165.5L371.0,164.3L368.1,160.7Z" fill="#768900" stroke="#768900"/>
<path d="M445.9,186.3L448.5,186.8L446.4,188.8L443.9,188.4Z" fill="#ab5400" stroke="#ab5400"/>
<path d="M434.0,187.7L436.7,188.7L434.7,190.4L432.1,189.4Z" fill="#af5000" stroke="#af5000"/>
<path d="M499.6,154.3L502.2,151.7L499.9,155.0L497.4,157.6Z" fill="#649b00" stroke="#649b00"/>
<path d="M538.7,95.0L541.3,89.5L538.9,93.0L536.3,98.6Z" fill="#0af500" stroke="#0af500"/>
<path d="M387.9,175.0L390.6,178.0L388.7,177.7L386.0,174.8Z" fill="#8f7000" stroke="#8f7000"/>
<path d="M376.6,167.2L379.4,170.6L377.5,169.8L374.7,166.4Z" fill="#807f00" stroke="#807f00"/>
<path d="M474.8,174.4L477.3,173.4L475.2,176.2L472.6,177.3Z" fill="#8c7300" stroke="#8c7300"/>
<path d="M484.6,167.6L487.2,166.0L485.0,169.1L482.4,170.7Z" fill="#7e8100" stroke="#7e8100"/>
<path d="M413.0,185.2L415.6,187.2L413.7,188.1L411.0,186.1Z" fill="#a75800" stroke="#a75800"/>
<path d="M497.1,156.6L499.6,154.3L497.4,157.6L494.8,160.0Z" fill="#689700" stroke="#689700"/>
<path d="M408.3,184.0L411.0,186.1L409.1,186.9L406.4,184.7Z" fill="#a35c00" stroke="#a35c00"/>
<path d="M417.6,186.1L420.2,187.9L418.3,189.0L415.6,187.2Z" fill="#a95600" stroke="#a95600"/>
<path d="M438.7,186.9L441.3,187.7L439.3,189.6L436.7,188.7Z" fill="#ab5400" stroke="#ab5400"/>
<path d="M403.7,182.3L406.4,184.7L404.5,185.2L401.8,182.8Z" fill="#9d6200" stroke="#9d6200"/>
<path d="M457.7,182.4L460.3,182.3L458.2,184.7L455.7,184.9Z" fill="#9c6300" stroke="#9c6300"/>
<path d="M422.2,186.6L424.8,188.2L422.9,189.5L420.2,187.9Z" fill="#aa5500" stroke="#aa5500"/>
<path d="M465.0,179.3L467.5,178.9L465.4,181.5L462.9,182.0Z" fill="#956a00" stroke="#956a00"/>
<path d="M383.2,171.6L386.0,174.8L384.1,174.4L381.3,171.2Z" fill="#877800" stroke="#877800"/>
<path d="M399.1,180.3L401.8,182.8L399.9,183.2L397.2,180.6Z" fill="#986700" stroke="#986700"/>
<path d="M450.5,184.5L453.1,184.8L451.0,187.0L448.5,186.8Z" fill="#a25d00" stroke="#a25d00"/>
<path d="M494.5,158.9L497.1,156.6L494.8,160.0L492.3,162.2Z" fill="#6b9400" stroke="#6b9400"/>
<path d="M482.1,169.1L484.6,167.6L482.4,170.7L479.9,172.1Z" fill="#807f00" stroke="#807f00"/>
<path d="M426.8,186.8L429.4,188.2L427.5,189.6L424.8,188.2Z" fill="#a95600" stroke="#a95600"/>
<path d="M371.9,162.8L374.7,166.4L372.9,165.5L370.0,161.9Z" fill="#758a00" stroke="#758a00"/>
<path d="M472.2,175.3L474.8,174.4L472.6,177.3L470.1,178.2Z" fill="#8c7300" stroke="#8c7300"/>
<path d="M394.4,177.8L397.2,180.6L395.3,180.8L392.5,178.0Z" fill="#936c00" stroke="#936c00"/>
<path d="M443.3,185.7L445.9,186.3L443.9,188.4L441.3,187.7Z" fill="#a45b00" stroke="#a45b00"/>
<path d="M431.4,186.5L434.0,187.7L432.1,189.4L429.4,188.2Z" fill="#a75800" stroke="#a75800"/>
<path d="M491.9,160.9L494.5,158.9L492.3,162.2L489.7,164.2Z" fill="#6e9100" stroke="#6e9100"/>
<path d="M378.5,167.8L381.3,171.2L379.4,170.6L376.6,167.2Z" fill="#7e8100" stroke="#7e8100"/>
<path d="M389.8,175.0L392.5,178.0L390.6,178.0L387.9,175.0Z" fill="#8c7300" stroke="#8c7300"/>
<path d="M479.5,170.3L482.1,169.1L479.9,172.1L477.3,173.4Z" fill="#817e00" stroke="#817e00"/>
<path d="M462.4,179.6L465.0,179.3L462.9,182.0L460.3,182.3Z" fill="#946b00" stroke="#946b00"/>
<path d="M455.2,182.3L457.7,182.4L455.7,184.9L453.1,184.8Z" fill="#996600" stroke="#996600"/>
<path d="M436.0,185.9L438.7,186.9L436.7,188.7L434.0,187.7Z" fill="#a35c00" stroke="#a35c00"/>
<path d="M469.7,176.0L472.2,175.3L470.1,178.2L467.5,178.9Z" fill="#8c7300" stroke="#8c7300"/>
<path d="M489.4,162.7L491.9,160.9L489.7,164.2L487.2,166.0Z" fill="#718e00" stroke="#718e00"/>
<path d="M447.9,184.1L450.5,184.5L448.5,186.8L445.9,186.3Z" fill="#9d6200" stroke="#9d6200"/>
<path d="M410.3,183.0L413.0,185.2L411.0,186.1L408.3,184.0Z" fill="#9b6400" stroke="#9b6400"/>
<path d="M385.1,171.8L387.9,175.0L386.0,174.8L383.2,171.6Z" fill="#857a00" stroke="#857a00"/>
<path d="M414.9,184.1L417.6,186.1L415.6,187.2L413.0,185.2Z" fill="#9d6200" stroke="#9d6200"/>
<path d="M405.6,181.6L408.3,184.0L406.4,184.7L403.7,182.3Z" fill="#986700" stroke="#986700"/>
<path d="M373.8,163.6L376.6,167.2L374.7,166.4L371.9,162.8Z" fill="#748b00" stroke="#748b00"/>
<path d="M419.5,184.8L422.2,186.6L420.2,187.9L417.6,186.1Z" fill="#9f6000" stroke="#9f6000"/>
<path d="M401.0,179.7L403.7,182.3L401.8,182.8L399.1,180.3Z" fill="#946b00" stroke="#946b00"/>
<path d="M476.9,171.4L479.5,170.3L477.3,173.4L474.8,174.4Z" fill="#817e00" stroke="#817e00"/>
<path d="M424.2,185.2L426.8,186.8L424.8,188.2L422.2,186.6Z" fill="#9f6000" stroke="#9f6000"/>
<path d="M440.7,184.8L443.3,185.7L441.3,187.7L438.7,186.9Z" fill="#9d6200" stroke="#9d6200"/>
<path d="M486.8,164.3L489.4,162.7L487.2,166.0L484.6,167.6Z" fill="#738c00" stroke="#738c00"/>
<path d="M396.3,177.5L399.1,180.3L397.2,180.6L394.4,177.8Z" fill="#8f7000" stroke="#8f7000"/>
<path d="M380.4,168.2L383.2,171.6L381.3,171.2L378.5,167.8Z" fill="#7c8300" stroke="#7c8300"/>
<path d="M459.8,179.8L462.4,179.6L460.3,182.3L457.7,182.4Z" fill="#926d00" stroke="#926d00"/>
<path d="M428.8,185.1L431.4,186.5L429.4,188.2L426.8,186.8Z" fill="#9d6200" stroke="#9d6200"/>
<path d="M452.6,182.1L455.2,182.3L453.1,184.8L450.5,184.5Z" fill="#966900" stroke="#966900"/>
<path d="M467.1,176.5L469.7,176.0L467.5,178.9L465.0,179.3Z" fill="#8b7400" stroke="#8b7400"/>
<path d="M391.7,174.8L394.4,177.8L392.5,178.0L389.8,175.0Z" fill="#897600" stroke="#897600"/>
<path d="M445.3,183.4L447.9,184.1L445.9,186.3L443.3,185.7Z" fill="#986700" stroke="#986700"/>
<path d="M484.2,165.8L486.8,164.3L484.6,167.6L482.1,169.1Z" fill="#748b00" stroke="#748b00"/>
<path d="M474.4,172.2L476.9,171.4L474.8,174.4L472.2,175.3Z" fill="#817e00" stroke="#817e00"/>
<path d="M433.4,184.6L436.0,185.9L434.0,187.7L431.4,186.5Z" fill="#9b6400" stroke="#9b6400"/>
<path d="M387.0,171.8L389.8,175.0L387.9,175.0L385.1,171.8Z" fill="#827d00" stroke="#827d00"/>
<path d="M375.7,164.2L378.5,167.8L376.6,167.2L373.8,163.6Z" fill="#738c00" stroke="#738c00"/>
<path d="M412.2,181.9L414.9,184.1L413.0,185.2L410.3,183.0Z" fill="#956a00" stroke="#956a00"/>
<path d="M407.6,180.7L410.3,183.0L408.3,184.0L405.6,181.6Z" fill="#926d00" stroke="#926d00"/>
<path d="M457.2,179.7L459.8,179.8L457.7,182.4L455.2,182.3Z" fill="#8f7000" stroke="#8f7000"/>
<path d="M438.1,183.8L440.7,184.8L438.7,186.9L436.0,185.9Z" fill="#986700" stroke="#986700"/>
<path d="M416.8,182.8L419.5,184.8L417.6,186.1L414.9,184.1Z" fill="#966900" stroke="#966900"/>
<path d="M464.5,176.8L467.1,176.5L465.0,179.3L462.4,179.6Z" fill="#897600" stroke="#897600"/>
<path d="M402.9,179.0L405.6,181.6L403.7,182.3L401.0,179.7Z" fill="#8f7000" stroke="#8f7000"/>
<path d="M481.7,167.0L484.2,165.8L482.1,169.1L479.5,170.3Z" fill="#758a00" stroke="#758a00"/>
<path d="M450.0,181.6L452.6,182.1L450.5,184.5L447.9,184.1Z" fill="#936c00" stroke="#936c00"/>
<path d="M421.5,183.3L424.2,185.2L422.2,186.6L419.5,184.8Z" fill="#976800" stroke="#976800"/>
<path d="M382.3,168.4L385.1,171.8L383.2,171.6L380.4,168.2Z" fill="#7a8500" stroke="#7a8500"/>
<path d="M398.2,176.9L401.0,179.7L399.1,180.3L396.3,177.5Z" fill="#8a7500" stroke="#8a7500"/>
<path d="M471.8,172.9L474.4,172.2L472.2,175.3L469.7,176.0Z" fill="#817e00" stroke="#817e00"/>
<path d="M426.1,183.5L428.8,185.1L426.8,186.8L424.2,185.2Z" fill="#966900" stroke="#966900"/>
<path d="M393.6,174.5L396.3,177.5L394.4,177.8L391.7,174.8Z" fill="#857a00" stroke="#857a00"/>
<path d="M442.7,182.6L445.3,183.4L443.3,185.7L440.7,184.8Z" fill="#946b00" stroke="#946b00"/>
<path d="M479.1,168.1L481.7,167.0L479.5,170.3L476.9,171.4Z" fill="#768900" stroke="#768900"/>
<path d="M377.6,164.6L380.4,168.2L378.5,167.8L375.7,164.2Z" fill="#718e00" stroke="#718e00"/>
<path d="M430.8,183.2L433.4,184.6L431.4,186.5L428.8,185.1Z" fill="#956a00" stroke="#956a00"/>
<path d="M388.9,171.6L391.7,174.8L389.8,175.0L387.0,171.8Z" fill="#7e8100" stroke="#7e8100"/>
<path d="M461.9,176.9L464.5,176.8L462.4,179.6L459.8,179.8Z" fill="#877800" stroke="#877800"/>
<path d="M454.6,179.4L457.2,179.7L455.2,182.3L452.6,182.1Z" fill="#8c7300" stroke="#8c7300"/>
<path d="M469.2,173.4L471.8,172.9L469.7,176.0L467.1,176.5Z" fill="#807f00" stroke="#807f00"/>
<path d="M435.4,182.5L438.1,183.8L436.0,185.9L433.4,184.6Z" fill="#926d00" stroke="#926d00"/>
<path d="M447.4,180.9L450.0,181.6L447.9,184.1L445.3,183.4Z" fill="#8f7000" stroke="#8f7000"/>
<path d="M384.2,168.4L387.0,171.8L385.1,171.8L382.3,168.4Z" fill="#778800" stroke="#778800"/>
<path d="M409.5,179.5L412.2,181.9L410.3,183.0L407.6,180.7Z" fill="#8c7300" stroke="#8c7300"/>
<path d="M414.2,180.6L416.8,182.8L414.9,184.1L412.2,181.9Z" fill="#8e7100" stroke="#8e7100"/>
<path d="M404.8,178.1L407.6,180.7L405.6,181.6L402.9,179.0Z" fill="#897600" stroke="#897600"/>
<path d="M476.5,169.0L479.1,168.1L476.9,171.4L474.4,172.2Z" fill="#768900" stroke="#768900"/>
<path d="M418.8,181.3L421.5,183.3L419.5,184.8L416.8,182.8Z" fill="#8f7000" stroke="#8f7000"/>
<path d="M400.2,176.2L402.9,179.0L401.0,179.7L398.2,176.9Z" fill="#857a00" stroke="#857a00"/>
<path d="M440.1,181.5L442.7,182.6L440.7,184.8L438.1,183.8Z" fill="#8f7000" stroke="#8f7000"/>
<path d="M423.5,181.6L426.1,183.5L424.2,185.2L421.5,183.3Z" fill="#8f7000" stroke="#8f7000"/>
<path d="M459.3,176.8L461.9,176.9L459.8,179.8L457.2,179.7Z" fill="#857a00" stroke="#857a00"/>
<path d="M395.5,173.9L398.2,176.9L396.3,177.5L393.6,174.5Z" fill="#807f00" stroke="#807f00"/>
<path d="M379.4,164.8L382.3,168.4L380.4,168.2L377.6,164.6Z" fill="#6e9100" stroke="#6e9100"/>
<path d="M466.6,173.7L469.2,173.4L467.1,176.5L464.5,176.8Z" fill="#7e8100" stroke="#7e8100"/>
<path d="M452.0,178.9L454.6,179.4L452.6,182.1L450.0,181.6Z" fill="#897600" stroke="#897600"/>
<path d="M428.1,181.6L430.8,183.2L428.8,185.1L426.1,183.5Z" fill="#8e7100" stroke="#8e7100"/>
<path d="M390.8,171.3L393.6,174.5L391.7,174.8L388.9,171.6Z" fill="#7a8500" stroke="#7a8500"/>
<path d="M474.0,169.6L476.5,169.0L474.4,172.2L471.8,172.9Z" fill="#758a00" stroke="#758a00"/>
<path d="M444.8,180.1L447.4,180.9L445.3,183.4L442.7,182.6Z" fill="#8a7500" stroke="#8a7500"/>
<path d="M432.8,181.1L435.4,182.5L433.4,184.6L430.8,183.2Z" fill="#8c7300" stroke="#8c7300"/>
<path d="M386.1,168.2L388.9,171.6L387.0,171.8L384.2,168.4Z" fill="#738c00" stroke="#738c00"/>
<path d="M464.1,173.8L466.6,173.7L464.5,176.8L461.9,176.9Z" fill="#7c8300" stroke="#7c8300"/>
<path d="M456.7,176.5L459.3,176.8L457.2,179.7L454.6,179.4Z" fill="#827d00" stroke="#827d00"/>
<path d="M411.4,178.2L414.2,180.6L412.2,181.9L409.5,179.5Z" fill="#867900" stroke="#867900"/>
<path d="M406.8,176.9L409.5,179.5L407.6,180.7L404.8,178.1Z" fill="#837c00" stroke="#837c00"/>
<path d="M437.4,180.3L440.1,181.5L438.1,183.8L435.4,182.5Z" fill="#897600" stroke="#897600"/>
<path d="M416.1,179.1L418.8,181.3L416.8,182.8L414.2,180.6Z" fill="#877800" stroke="#877800"/>
<path d="M402.1,175.2L404.8,178.1L402.9,179.0L400.2,176.2Z" fill="#807f00" stroke="#807f00"/>
<path d="M471.4,170.1L474.0,169.6L471.8,172.9L469.2,173.4Z" fill="#748b00" stroke="#748b00"/>
<path d="M449.4,178.3L452.0,178.9L450.0,181.6L447.4,180.9Z" fill="#857a00" stroke="#857a00"/>
<path d="M381.3,164.8L384.2,168.4L382.3,168.4L379.4,164.8Z" fill="#6b9400" stroke="#6b9400"/>
<path d="M420.8,179.6L423.5,181.6L421.5,183.3L418.8,181.3Z" fill="#887700" stroke="#887700"/>
<path d="M397.4,173.2L400.2,176.2L398.2,176.9L395.5,173.9Z" fill="#7b8400" stroke="#7b8400"/>
<path d="M425.4,179.7L428.1,181.6L426.1,183.5L423.5,181.6Z" fill="#877800" stroke="#877800"/>
<path d="M442.1,179.0L444.8,180.1L442.7,182.6L440.1,181.5Z" fill="#857a00" stroke="#857a00"/>
<path d="M392.7,170.7L395.5,173.9L393.6,174.5L390.8,171.3Z" fill="#768900" stroke="#768900"/>
<path d="M461.5,173.7L464.1,173.8L461.9,176.9L459.3,176.8Z" fill="#7a8500" stroke="#7a8500"/>
<path d="M430.1,179.5L432.8,181.1L430.8,183.2L428.1,181.6Z" fill="#867900" stroke="#867900"/>
<path d="M454.1,176.0L456.7,176.5L454.6,179.4L452.0,178.9Z" fill="#7e8100" stroke="#7e8100"/>
<path d="M468.8,170.4L471.4,170.1L469.2,173.4L466.6,173.7Z" fill="#738c00" stroke="#738c00"/>
<path d="M388.0,167.8L390.8,171.3L388.9,171.6L386.1,168.2Z" fill="#6f9000" stroke="#6f9000"/>
<path d="M446.8,177.4L449.4,178.3L447.4,180.9L444.8,180.1Z" fill="#807f00" stroke="#807f00"/>
<path d="M434.8,178.8L437.4,180.3L435.4,182.5L432.8,181.1Z" fill="#837c00" stroke="#837c00"/>
<path d="M383.2,164.6L386.1,168.2L384.2,168.4L381.3,164.8Z" fill="#689700" stroke="#689700"/>
<path d="M408.7,175.6L411.4,178.2L409.5,179.5L406.8,176.9Z" fill="#7d8200" stroke="#7d8200"/>
<path d="M413.4,176.7L416.1,179.1L414.2,180.6L411.4,178.2Z" fill="#7f8000" stroke="#7f8000"/>
<path d="M404.0,174.1L406.8,176.9L404.8,178.1L402.1,175.2Z" fill="#7a8500" stroke="#7a8500"/>
<path d="M418.1,177.4L420.8,179.6L418.8,181.3L416.1,179.1Z" fill="#807f00" stroke="#807f00"/>
<path d="M399.3,172.2L402.1,175.2L400.2,176.2L397.4,173.2Z" fill="#768900" stroke="#768900"/>
<path d="M439.5,177.8L442.1,179.0L440.1,181.5L437.4,180.3Z" fill="#807f00" stroke="#807f00"/>
<path d="M458.9,173.4L461.5,173.7L459.3,176.8L456.7,176.5Z" fill="#778800" stroke="#778800"/>
<path d="M466.2,170.5L468.8,170.4L466.6,173.7L464.1,173.8Z" fill="#718e00" stroke="#718e00"/>
<path d="M422.8,177.7L425.4,179.7L423.5,181.6L420.8,179.6Z" fill="#807f00" stroke="#807f00"/>
<path d="M394.6,169.9L397.4,173.2L395.5,173.9L392.7,170.7Z" fill="#718e00" stroke="#718e00"/>
<path d="M451.5,175.4L454.1,176.0L452.0,178.9L449.4,178.3Z" fill="#7a8500" stroke="#7a8500"/>
<path d="M427.4,177.6L430.1,179.5L428.1,181.6L425.4,179.7Z" fill="#7f8000" stroke="#7f8000"/>
<path d="M389.9,167.3L392.7,170.7L390.8,171.3L388.0,167.8Z" fill="#6b9400" stroke="#6b9400"/>
<path d="M444.2,176.3L446.8,177.4L444.8,180.1L442.1,179.0Z" fill="#7b8400" stroke="#7b8400"/>
<path d="M432.1,177.2L434.8,178.8L432.8,181.1L430.1,179.5Z" fill="#7d8200" stroke="#7d8200"/>
<path d="M385.1,164.2L388.0,167.8L386.1,168.2L383.2,164.6Z" fill="#649b00" stroke="#649b00"/>
<path d="M463.6,170.4L466.2,170.5L464.1,173.8L461.5,173.7Z" fill="#6e9100" stroke="#6e9100"/>
<path d="M456.2,172.9L458.9,173.4L456.7,176.5L454.1,176.0Z" fill="#738c00" stroke="#738c00"/>
<path d="M436.8,176.3L439.5,177.8L437.4,180.3L434.8,178.8Z" fill="#7a8500" stroke="#7a8500"/>
<path d="M410.7,174.0L413.4,176.7L411.4,178.2L408.7,175.6Z" fill="#768900" stroke="#768900"/>
<path d="M406.0,172.7L408.7,175.6L406.8,176.9L404.0,174.1Z" fill="#738c00" stroke="#738c00"/>
<path d="M448.9,174.5L451.5,175.4L449.4,178.3L446.8,177.4Z" fill="#768900" stroke="#768900"/>
<path d="M415.4,174.9L418.1,177.4L416.1,179.1L413.4,176.7Z" fill="#778800" stroke="#778800"/>
<path d="M401.2,171.1L404.0,174.1L402.1,175.2L399.3,172.2Z" fill="#708f00" stroke="#708f00"/>
<path d="M420.1,175.5L422.8,177.7L420.8,179.6L418.1,177.4Z" fill="#788700" stroke="#788700"/>
<path d="M396.5,169.0L399.3,172.2L397.4,173.2L394.6,169.9Z" fill="#6b9400" stroke="#6b9400"/>
<path d="M424.8,175.6L427.4,177.6L425.4,179.7L422.8,177.7Z" fill="#778800" stroke="#778800"/>
<path d="M441.5,175.1L444.2,176.3L442.1,179.0L439.5,177.8Z" fill="#768900" stroke="#768900"/>
<path d="M391.8,166.5L394.6,169.9L392.7,170.7L389.9,167.3Z" fill="#669900" stroke="#669900"/>
<path d="M461.0,170.1L463.6,170.4L461.5,173.7L458.9,173.4Z" fill="#6b9400" stroke="#6b9400"/>
<path d="M429.5,175.3L432.1,177.2L430.1,179.5L427.4,177.6Z" fill="#768900" stroke="#768900"/>
<path d="M453.6,172.2L456.2,172.9L454.1,176.0L451.5,175.4Z" fill="#6f9000" stroke="#6f9000"/>
<path d="M387.0,163.6L389.9,167.3L388.0,167.8L385.1,164.2Z" fill="#609f00" stroke="#609f00"/>
<path d="M446.3,173.4L448.9,174.5L446.8,177.4L444.2,176.3Z" fill="#718e00" stroke="#718e00"/>
<path d="M434.2,174.6L436.8,176.3L434.8,178.8L432.1,177.2Z" fill="#738c00" stroke="#738c00"/>
<path d="M407.9,171.2L410.7,174.0L408.7,175.6L406.0,172.7Z" fill="#6c9300" stroke="#6c9300"/>
<path d="M412.6,172.3L415.4,174.9L413.4,176.7L410.7,174.0Z" fill="#6e9100" stroke="#6e9100"/>
<path d="M403.2,169.7L406.0,172.7L404.0,174.1L401.2,171.1Z" fill="#6a9500" stroke="#6a9500"/>
<path d="M417.3,173.0L420.1,175.5L418.1,177.4L415.4,174.9Z" fill="#6f9000" stroke="#6f9000"/>
<path d="M458.4,169.6L461.0,170.1L458.9,173.4L456.2,172.9Z" fill="#689700" stroke="#689700"/>
<path d="M398.5,167.8L401.2,171.1L399.3,172.2L396.5,169.0Z" fill="#669900" stroke="#669900"/>
<path d="M438.9,173.6L441.5,175.1L439.5,177.8L436.8,176.3Z" fill="#708f00" stroke="#708f00"/>
<path d="M422.1,173.3L424.8,175.6L422.8,177.7L420.1,175.5Z" fill="#6f9000" stroke="#6f9000"/>
<path d="M451.0,171.4L453.6,172.2L451.5,175.4L448.9,174.5Z" fill="#6b9400" stroke="#6b9400"/>
<path d="M393.7,165.5L396.5,169.0L394.6,169.9L391.8,166.5Z" fill="#619e00" stroke="#619e00"/>
<path d="M426.8,173.2L429.5,175.3L427.4,177.6L424.8,175.6Z" fill="#6e9100" stroke="#6e9100"/>
<path d="M389.0,162.8L391.8,166.5L389.9,167.3L387.0,163.6Z" fill="#5ba400" stroke="#5ba400"/>
<path d="M443.6,172.1L446.3,173.4L444.2,176.3L441.5,175.1Z" fill="#6b9400" stroke="#6b9400"/>
<path d="M431.5,172.8L434.2,174.6L432.1,177.2L429.5,175.3Z" fill="#6c9300" stroke="#6c9300"/>
<path d="M455.7,168.9L458.4,169.6L456.2,172.9L453.6,172.2Z" fill="#649b00" stroke="#649b00"/>
<path d="M436.2,171.9L438.9,173.6L436.8,176.3L434.2,174.6Z" fill="#6a9500" stroke="#6a9500"/>
<path d="M448.3,170.3L451.0,171.4L448.9,174.5L446.3,173.4Z" fill="#669900" stroke="#669900"/>
<path d="M409.9,169.4L412.6,172.3L410.7,174.0L407.9,171.2Z" fill="#659a00" stroke="#659a00"/>
<path d="M405.1,168.1L407.9,171.2L406.0,172.7L403.2,169.7Z" fill="#639c00" stroke="#639c00"/>
<path d="M414.6,170.3L417.3,173.0L415.4,174.9L412.6,172.3Z" fill="#679800" stroke="#679800"/>
<path d="M400.4,166.4L403.2,169.7L401.2,171.1L398.5,167.8Z" fill="#5fa000" stroke="#5fa000"/>
<path d="M419.3,170.9L422.1,173.3L420.1,175.5L417.3,173.0Z" fill="#679800" stroke="#679800"/>
<path d="M395.6,164.3L398.5,167.8L396.5,169.0L393.7,165.5Z" fill="#5ba400" stroke="#5ba400"/>
<path d="M424.1,171.0L426.8,173.2L424.8,175.6L422.1,173.3Z" fill="#679800" stroke="#679800"/>
<path d="M440.9,170.6L443.6,172.1L441.5,175.1L438.9,173.6Z" fill="#669900" stroke="#669900"/>
<path d="M390.9,161.8L393.7,165.5L391.8,166.5L389.0,162.8Z" fill="#55aa00" stroke="#55aa00"/>
<path d="M453.1,168.0L455.7,168.9L453.6,172.2L451.0,171.4Z" fill="#609f00" stroke="#609f00"/>
<path d="M428.8,170.7L431.5,172.8L429.5,175.3L426.8,173.2Z" fill="#659a00" stroke="#659a00"/>
<path d="M445.7,169.0L448.3,170.3L446.3,173.4L443.6,172.1Z" fill="#619e00" stroke="#619e00"/>
<path d="M433.5,170.0L436.2,171.9L434.2,174.6L431.5,172.8Z" fill="#639c00" stroke="#639c00"/>
<path d="M407.1,166.3L409.9,169.4L407.9,171.2L405.1,168.1Z" fill="#5ba400" stroke="#5ba400"/>
<path d="M411.8,167.5L414.6,170.3L412.6,172.3L409.9,169.4Z" fill="#5da200" stroke="#5da200"/>
<path d="M402.3,164.8L405.1,168.1L403.2,169.7L400.4,166.4Z" fill="#58a700" stroke="#58a700"/>
<path d="M416.6,168.2L419.3,170.9L417.3,173.0L414.6,170.3Z" fill="#5ea100" stroke="#5ea100"/>
<path d="M438.3,168.9L440.9,170.6L438.9,173.6L436.2,171.9Z" fill="#5fa000" stroke="#5fa000"/>
<path d="M397.6,162.9L400.4,166.4L398.5,167.8L395.6,164.3Z" fill="#54ab00" stroke="#54ab00"/>
<path d="M450.5,166.9L453.1,168.0L451.0,171.4L448.3,170.3Z" fill="#5ba400" stroke="#5ba400"/>
<path d="M421.3,168.5L424.1,171.0L422.1,173.3L419.3,170.9Z" fill="#5ea100" stroke="#5ea100"/>
<path d="M392.8,160.6L395.6,164.3L393.7,165.5L390.9,161.8Z" fill="#4fb000" stroke="#4fb000"/>
<path d="M426.1,168.4L428.8,170.7L426.8,173.2L424.1,171.0Z" fill="#5da200" stroke="#5da200"/>
<path d="M443.0,167.5L445.7,169.0L443.6,172.1L440.9,170.6Z" fill="#5ba400" stroke="#5ba400"/>
<path d="M430.8,167.9L433.5,170.0L431.5,172.8L428.8,170.7Z" fill="#5ba400" stroke="#5ba400"/>
<path d="M447.8,165.6L450.5,166.9L448.3,170.3L445.7,169.0Z" fill="#55aa00" stroke="#55aa00"/>
<path d="M435.6,167.0L438.3,168.9L436.2,171.9L433.5,170.0Z" fill="#58a700" stroke="#58a700"/>
<path d="M409.1,164.4L411.8,167.5L409.9,169.4L407.1,166.3Z" fill="#53ac00" stroke="#53ac00"/>
<path d="M404.3,163.0L407.1,166.3L405.1,168.1L402.3,164.8Z" fill="#51ae00" stroke="#51ae00"/>
<path d="M413.8,165.3L416.6,168.2L414.6,170.3L411.8,167.5Z" fill="#55aa00" stroke="#55aa00"/>
<path d="M399.5,161.3L402.3,164.8L400.4,166.4L397.6,162.9Z" fill="#4db200" stroke="#4db200"/>
<path d="M418.6,165.8L421.3,168.5L419.3,170.9L416.6,168.2Z" fill="#55aa00" stroke="#55aa00"/>
<path d="M394.7,159.2L397.6,162.9L395.6,164.3L392.8,160.6Z" fill="#49b600" stroke="#49b600"/>
<path d="M440.3,165.8L443.0,167.5L440.9,170.6L438.3,168.9Z" fill="#54ab00" stroke="#54ab00"/>
<path d="M423.3,165.9L426.1,168.4L424.1,171.0L421.3,168.5Z" fill="#55aa00" stroke="#55aa00"/>
<path d="M428.1,165.6L430.8,167.9L428.8,170.7L426.1,168.4Z" fill="#53ac00" stroke="#53ac00"/>
<path d="M445.1,164.1L447.8,165.6L445.7,169.0L443.0,167.5Z" fill="#4fb000" stroke="#4fb000"/>
<path d="M432.9,164.9L435.6,167.0L433.5,170.0L430.8,167.9Z" fill="#51ae00" stroke="#51ae00"/>
<path d="M406.3,161.0L409.1,164.4L407.1,166.3L404.3,163.0Z" fill="#49b600" stroke="#49b600"/>
<path d="M411.0,162.2L413.8,165.3L411.8,167.5L409.1,164.4Z" fill="#4bb400" stroke="#4bb400"/>
<path d="M401.5,159.5L404.3,163.0L402.3,164.8L399.5,161.3Z" fill="#46b900" stroke="#46b900"/>
<path d="M437.6,163.9L440.3,165.8L438.3,168.9L435.6,167.0Z" fill="#4db200" stroke="#4db200"/>
<path d="M415.8,162.9L418.6,165.8L416.6,168.2L413.8,165.3Z" fill="#4cb300" stroke="#4cb300"/>
<path d="M396.7,157.6L399.5,161.3L397.6,162.9L394.7,159.2Z" fill="#42bd00" stroke="#42bd00"/>
<path d="M420.6,163.2L423.3,165.9L421.3,168.5L418.6,165.8Z" fill="#4cb300" stroke="#4cb300"/>
<path d="M425.4,163.1L428.1,165.6L426.1,168.4L423.3,165.9Z" fill="#4bb400" stroke="#4bb400"/>
<path d="M442.4,162.4L445.1,164.1L443.0,167.5L440.3,165.8Z" fill="#49b600" stroke="#49b600"/>
<path d="M430.1,162.6L432.9,164.9L430.8,167.9L428.1,165.6Z" fill="#49b600" stroke="#49b600"/>
<path d="M434.9,161.7L437.6,163.9L435.6,167.0L432.9,164.9Z" fill="#46b900" stroke="#46b900"/>
<path d="M408.2,158.8L411.0,162.2L409.1,164.4L406.3,161.0Z" fill="#40bf00" stroke="#40bf00"/>
<path d="M403.4,157.5L406.3,161.0L404.3,163.0L401.5,159.5Z" fill="#3ec100" stroke="#3ec100"/>
<path d="M413.0,159.7L415.8,162.9L413.8,165.3L411.0,162.2Z" fill="#42bd00" stroke="#42bd00"/>
<path d="M398.6,155.8L401.5,159.5L399.5,161.3L396.7,157.6Z" fill="#3ac500" stroke="#3ac500"/>
<path d="M417.8,160.3L420.6,163.2L418.6,165.8L415.8,162.9Z" fill="#42bd00" stroke="#42bd00"/>
<path d="M439.7,160.4L442.4,162.4L440.3,165.8L437.6,163.9Z" fill="#42bd00" stroke="#42bd00"/>
<path d="M422.6,160.4L425.4,163.1L423.3,165.9L420.6,163.2Z" fill="#42bd00" stroke="#42bd00"/>
<path d="M427.4,160.1L430.1,162.6L428.1,165.6L425.4,163.1Z" fill="#40bf00" stroke="#40bf00"/>
<path d="M432.2,159.4L434.9,161.7L432.9,164.9L430.1,162.6Z" fill="#3ec100" stroke="#3ec100"/>
<path d="M405.4,155.2L408.2,158.8L406.3,161.0L403.4,157.5Z" fill="#35ca00" stroke="#35ca00"/>
<path d="M410.2,156.4L413.0,159.7L411.0,162.2L408.2,158.8Z" fill="#37c800" stroke="#37c800"/>
<path d="M400.6,153.7L403.4,157.5L401.5,159.5L398.6,155.8Z" fill="#32cd00" stroke="#32cd00"/>
<path d="M437.0,158.3L439.7,160.4L437.6,163.9L434.9,161.7Z" fill="#3ac500" stroke="#3ac500"/>
<path d="M415.0,157.1L417.8,160.3L415.8,162.9L413.0,159.7Z" fill="#38c700" stroke="#38c700"/>
<path d="M419.8,157.4L422.6,160.4L420.6,163.2L417.8,160.3Z" fill="#38c700" stroke="#38c700"/>
<path d="M424.6,157.3L427.4,160.1L425.4,163.1L422.6,160.4Z" fill="#37c800" stroke="#37c800"/>
<path d="M429.5,156.8L432.2,159.4L430.1,162.6L427.4,160.1Z" fill="#35ca00" stroke="#35ca00"/>
<path d="M434.3,155.9L437.0,158.3L434.9,161.7L432.2,159.4Z" fill="#32cd00" stroke="#32cd00"/>
<path d="M407.4,152.8L410.2,156.4L408.2,158.8L405.4,155.2Z" fill="#2dd200" stroke="#2dd200"/>
<path d="M402.6,151.5L405.4,155.2L403.4,157.5L400.6,153.7Z" fill="#2ad500" stroke="#2ad500"/>
<path d="M412.2,153.7L415.0,157.1L413.0,159.7L410.2,156.4Z" fill="#2ed100" stroke="#2ed100"/>
<path d="M417.0,154.2L419.8,157.4L417.8,160.3L415.0,157.1Z" fill="#2fd000" stroke="#2fd000"/>
<path d="M421.9,154.3L424.6,157.3L422.6,160.4L419.8,157.4Z" fill="#2ed100" stroke="#2ed100"/>
<path d="M426.7,154.0L429.5,156.8L427.4,160.1L424.6,157.3Z" fill="#2dd200" stroke="#2dd200"/>
<path d="M431.5,153.3L434.3,155.9L432.2,159.4L429.5,156.8Z" fill="#2ad500" stroke="#2ad500"/>
<path d="M404.5,149.0L407.4,152.8L405.4,155.2L402.6,151.5Z" fill="#21de00" stroke="#21de00"/>
<path d="M409.4,150.1L412.2,153.7L410.2,156.4L407.4,152.8Z" fill="#23dc00" stroke="#23dc00"/>
<path d="M414.2,150.8L417.0,154.2L415.0,157.1L412.2,153.7Z" fill="#24db00" stroke="#24db00"/>
<path d="M419.1,151.1L421.9,154.3L419.8,157.4L417.0,154.2Z" fill="#24db00" stroke="#24db00"/>
<path d="M423.9,151.0L426.7,154.0L424.6,157.3L421.9,154.3Z" fill="#23dc00" stroke="#23dc00"/>
<path d="M428.8,150.5L431.5,153.3L429.5,156.8L426.7,154.0Z" fill="#21de00" stroke="#21de00"/>
<path d="M406.5,146.3L409.4,150.1L407.4,152.8L404.5,149.0Z" fill="#18e700" stroke="#18e700"/>
<path d="M411.4,147.2L414.2,150.8L412.2,153.7L409.4,150.1Z" fill="#19e600" stroke="#19e600"/>
<path d="M416.3,147.7L419.1,151.1L417.0,154.2L414.2,150.8Z" fill="#1ae500" stroke="#1ae500"/>
<path d="M421.1,147.8L423.9,151.0L421.9,154.3L419.1,151.1Z" fill="#19e600" stroke="#19e600"/>
<path d="M426.0,147.5L428.8,150.5L426.7,154.0L423.9,151.0Z" fill="#18e700" stroke="#18e700"/>
<path d="M408.5,143.3L411.4,147.2L409.4,150.1L406.5,146.3Z" fill="#0ef100" stroke="#0ef100"/>
<path d="M413.4,144.1L416.3,147.7L414.2,150.8L411.4,147.2Z" fill="#0ff000" stroke="#0ff000"/>
<path d="M418.3,144.4L421.1,147.8L419.1,151.1L416.3,147.7Z" fill="#0ff000" stroke="#0ff000"/>
<path d="M423.2,144.3L426.0,147.5L423.9,151.0L421.1,147.8Z" fill="#0ef100" stroke="#0ef100"/>
<path d="M410.6,140.2L413.4,144.1L411.4,147.2L408.5,143.3Z" fill="#03fc00" stroke="#03fc00"/>
<path d="M415.5,140.7L418.3,144.4L416.3,147.7L413.4,144.1Z" fill="#04fb00" stroke="#04fb00"/>
<path d="M420.4,140.8L423.2,144.3L421.1,147.8L418.3,144.4Z" fill="#03fc00" stroke="#03fc00"/>
<path d="M412.6,136.8L415.5,140.7L413.4,144.1L410.6,140.2Z" fill="#00ff00" stroke="#00ff00"/>
<path d="M417.5,137.1L420.4,140.8L418.3,144.4L415.5,140.7Z" fill="#00ff00" stroke="#00ff00"/>
<path d="M414.6,133.1L417.5,137.1L415.5,140.7L412.6,136.8Z" fill="#00ff00" stroke="#00ff00"/>
</g>
<line x1="430.7" y1="83" x2="430.7" y2="140" stroke="#ff0000" stroke-opacity="0.3" stroke-width="0.9"/>
<path d="M430.3,71.6L446.4,72.9L430.3,83.7Z" fill="#ff0000"/>
<g fill="#d6dcec">
<ellipse cx="332.8" cy="94.3" rx="1.20" ry="1.20"/>
<ellipse cx="350.8" cy="126.0" rx="1.20" ry="1.20"/>
<ellipse cx="408.4" cy="112.3" rx="1.20" ry="1.20"/>
<ellipse cx="451.6" cy="98.7" rx="0.70" ry="1.30" opacity="0.90"/>
<ellipse cx="447.8" cy="121.2" rx="1.15" ry="1.15"/>
<ellipse cx="505.1" cy="124.0" rx="0.90" ry="0.80" opacity="0.70"/>
<ellipse cx="360.1" cy="139.9" rx="1.20" ry="1.20"/>
<ellipse cx="397.0" cy="132.4" rx="0.70" ry="1.30" opacity="0.90"/>
<ellipse cx="413.5" cy="134.4" rx="1.20" ry="1.20"/>
<ellipse cx="425.4" cy="140.3" rx="1.20" ry="1.20"/>
<ellipse cx="438.6" cy="145.1" rx="0.65" ry="1.30" opacity="0.90"/>
<ellipse cx="394.8" cy="151.4" rx="1.10" ry="1.30"/>
<ellipse cx="377.7" cy="154.7" rx="1.25" ry="1.25"/>
<ellipse cx="410.7" cy="164.2" rx="0.80" ry="1.10" opacity="0.90"/>
<ellipse cx="404.7" cy="159.3" rx="0.60" ry="0.60" opacity="0.50"/>
<ellipse cx="372.2" cy="167.7" rx="0.80" ry="0.80" opacity="0.60"/>
<ellipse cx="387.3" cy="174.9" rx="0.80" ry="1.00" opacity="0.85"/>
<ellipse cx="392.1" cy="182.5" rx="0.80" ry="0.90" opacity="0.85"/>
<ellipse cx="440.7" cy="179.5" rx="0.80" ry="1.10" opacity="0.90"/>
<ellipse cx="416.6" cy="186.5" rx="1.00" ry="1.00"/>
<ellipse cx="421.9" cy="190.9" rx="1.10" ry="1.10"/>
<ellipse cx="508.7" cy="141.0" rx="1.10" ry="1.10"/>
<ellipse cx="458.9" cy="168.7" rx="0.90" ry="0.80" opacity="0.90"/>
<ellipse cx="454.6" cy="173.2" rx="0.60" ry="1.00" opacity="0.80"/>
<ellipse cx="477.5" cy="176.0" rx="0.70" ry="1.00" opacity="0.80"/>
<ellipse cx="416.6" cy="198.2" rx="0.70" ry="0.60" opacity="0.50"/>
<ellipse cx="431.9" cy="193.7" rx="0.8" ry="0.9" fill="#9a2a80"/>
</g>
<text x="323.1" y="186.4" font-size="7.5" text-anchor="end">0</text>
<line x1="325.2" y1="185.0" x2="327.0" y2="184.8" stroke="#555" stroke-width="0.9"/>
<text x="323.4" y="165.5" font-size="7.5" text-anchor="end">10</text>
<line x1="324.2" y1="164.1" x2="326.0" y2="163.9" stroke="#555" stroke-width="0.9"/>
<text x="322.0" y="144.3" font-size="7.5" text-anchor="end">20</text>
<line x1="323.1" y1="142.9" x2="324.9" y2="142.7" stroke="#555" stroke-width="0.9"/>
<text x="320.4" y="122.7" font-size="7.5" text-anchor="end">30</text>
<line x1="322.0" y1="121.3" x2="323.8" y2="121.1" stroke="#555" stroke-width="0.9"/>
<text x="319.1" y="100.6" font-size="7.5" text-anchor="end">40</text>
<line x1="320.9" y1="99.2" x2="322.7" y2="99.0" stroke="#555" stroke-width="0.9"/>
<text x="317.8" y="78.1" font-size="7.5" text-anchor="end">50</text>
<line x1="319.7" y1="76.7" x2="321.5" y2="76.5" stroke="#555" stroke-width="0.9"/>
<line x1="327.6" y1="184.8" x2="325.4" y2="186.4" stroke="#666" stroke-width="0.8"/>
<line x1="369.9" y1="215.0" x2="367.7" y2="216.6" stroke="#666" stroke-width="0.8"/>
<line x1="415.9" y1="248.0" x2="413.7" y2="249.6" stroke="#666" stroke-width="0.8"/>
<line x1="415.9" y1="248.0" x2="418.9" y2="250.4" stroke="#666" stroke-width="0.8"/>
<line x1="478.1" y1="222.8" x2="481.1" y2="225.2" stroke="#666" stroke-width="0.8"/>
<line x1="536.4" y1="199.1" x2="539.4" y2="201.5" stroke="#666" stroke-width="0.8"/>
<text x="320.3" y="194.2" font-size="7.5" text-anchor="middle">5</text>
<text x="362.9" y="224.5" font-size="7.5" text-anchor="middle">0</text>
<text x="407.6" y="256.8" font-size="7.5" text-anchor="middle">-5</text>
<text x="424.9" y="257.8" font-size="7.5" text-anchor="middle">-5</text>
<text x="485.1" y="232.8" font-size="7.5" text-anchor="middle">0</text>
<text x="542.7" y="209.1" font-size="7.5" text-anchor="middle">5</text>
</g>
</svg></body></html>
